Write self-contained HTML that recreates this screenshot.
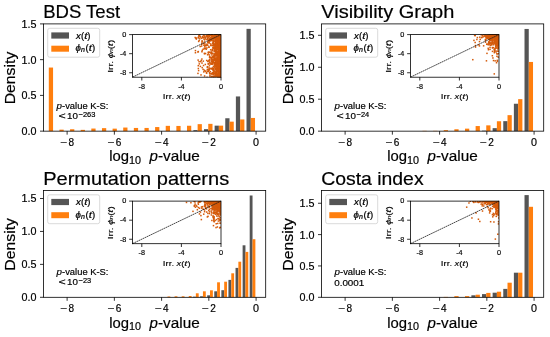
<!DOCTYPE html><html><head><meta charset="utf-8"><style>html,body{margin:0;padding:0;background:#fff;}svg{display:block;will-change:transform;}text{font-family:"Liberation Sans", sans-serif;stroke:#000;stroke-width:0.18px;}</style></head><body>
<svg width="550" height="337" viewBox="0 0 550 337">
<rect x="0" y="0" width="550" height="337" fill="#fff"/>
<g>
<rect x="48.81" y="67.55" width="4.25" height="63.6" fill="#ff7f0e"/>
<rect x="59.44" y="129.65" width="4.25" height="1.5" fill="#ff7f0e"/>
<rect x="70.07" y="129.25" width="4.25" height="1.9" fill="#ff7f0e"/>
<rect x="80.7" y="129.85" width="4.25" height="1.3" fill="#ff7f0e"/>
<rect x="91.33" y="128.55" width="4.25" height="2.6" fill="#ff7f0e"/>
<rect x="101.96" y="128.15" width="4.25" height="3" fill="#ff7f0e"/>
<rect x="112.59" y="128.65" width="4.25" height="2.5" fill="#ff7f0e"/>
<rect x="123.22" y="127.55" width="4.25" height="3.6" fill="#ff7f0e"/>
<rect x="133.85" y="127.95" width="4.25" height="3.2" fill="#ff7f0e"/>
<rect x="144.48" y="127.95" width="4.25" height="3.2" fill="#ff7f0e"/>
<rect x="155.1" y="127.05" width="4.25" height="4.1" fill="#ff7f0e"/>
<rect x="165.73" y="125.85" width="4.25" height="5.3" fill="#ff7f0e"/>
<rect x="176.36" y="125.95" width="4.25" height="5.2" fill="#ff7f0e"/>
<rect x="186.99" y="125.75" width="4.25" height="5.4" fill="#ff7f0e"/>
<rect x="193.37" y="130.15" width="4.25" height="1" fill="#555555"/>
<rect x="197.62" y="124.15" width="4.25" height="7" fill="#ff7f0e"/>
<rect x="204" y="129.15" width="4.25" height="2" fill="#555555"/>
<rect x="208.25" y="123.85" width="4.25" height="7.3" fill="#ff7f0e"/>
<rect x="214.63" y="125.65" width="4.25" height="5.5" fill="#555555"/>
<rect x="218.88" y="125.65" width="4.25" height="5.5" fill="#ff7f0e"/>
<rect x="225.26" y="118.25" width="4.25" height="12.9" fill="#555555"/>
<rect x="229.51" y="121.65" width="4.25" height="9.5" fill="#ff7f0e"/>
<rect x="235.88" y="96.45" width="4.25" height="34.7" fill="#555555"/>
<rect x="240.14" y="119.45" width="4.25" height="11.7" fill="#ff7f0e"/>
<rect x="246.51" y="28.85" width="4.25" height="102.3" fill="#555555"/>
<rect x="250.77" y="117.95" width="4.25" height="13.2" fill="#ff7f0e"/>
<rect x="43.5" y="23.9" width="222.2" height="107.25" fill="none" stroke="#000" stroke-width="0.8"/>
<line x1="40" y1="131.15" x2="43.5" y2="131.15" stroke="#000" stroke-width="0.8"/>
<text x="36.5" y="135.05" font-size="10.1" text-anchor="end" textLength="15" lengthAdjust="spacingAndGlyphs">0.0</text>
<line x1="40" y1="95.4" x2="43.5" y2="95.4" stroke="#000" stroke-width="0.8"/>
<text x="36.5" y="99.3" font-size="10.1" text-anchor="end" textLength="15" lengthAdjust="spacingAndGlyphs">0.5</text>
<line x1="40" y1="59.65" x2="43.5" y2="59.65" stroke="#000" stroke-width="0.8"/>
<text x="36.5" y="63.55" font-size="10.1" text-anchor="end" textLength="15" lengthAdjust="spacingAndGlyphs">1.0</text>
<line x1="40" y1="23.9" x2="43.5" y2="23.9" stroke="#000" stroke-width="0.8"/>
<text x="36.5" y="27.8" font-size="10.1" text-anchor="end" textLength="15" lengthAdjust="spacingAndGlyphs">1.5</text>
<line x1="67.12" y1="131.15" x2="67.12" y2="134.65" stroke="#000" stroke-width="0.8"/>
<text x="63.92" y="145.55" font-size="10.1" text-anchor="middle" textLength="7" lengthAdjust="spacingAndGlyphs">−</text>
<text x="71.42" y="145.55" font-size="10.1" text-anchor="middle" textLength="5.6" lengthAdjust="spacingAndGlyphs">8</text>
<line x1="114.36" y1="131.15" x2="114.36" y2="134.65" stroke="#000" stroke-width="0.8"/>
<text x="111.16" y="145.55" font-size="10.1" text-anchor="middle" textLength="7" lengthAdjust="spacingAndGlyphs">−</text>
<text x="118.66" y="145.55" font-size="10.1" text-anchor="middle" textLength="5.6" lengthAdjust="spacingAndGlyphs">6</text>
<line x1="161.6" y1="131.15" x2="161.6" y2="134.65" stroke="#000" stroke-width="0.8"/>
<text x="158.4" y="145.55" font-size="10.1" text-anchor="middle" textLength="7" lengthAdjust="spacingAndGlyphs">−</text>
<text x="165.9" y="145.55" font-size="10.1" text-anchor="middle" textLength="5.6" lengthAdjust="spacingAndGlyphs">4</text>
<line x1="208.84" y1="131.15" x2="208.84" y2="134.65" stroke="#000" stroke-width="0.8"/>
<text x="205.64" y="145.55" font-size="10.1" text-anchor="middle" textLength="7" lengthAdjust="spacingAndGlyphs">−</text>
<text x="213.14" y="145.55" font-size="10.1" text-anchor="middle" textLength="5.6" lengthAdjust="spacingAndGlyphs">2</text>
<line x1="256.08" y1="131.15" x2="256.08" y2="134.65" stroke="#000" stroke-width="0.8"/>
<text x="256.08" y="145.55" font-size="10.1" text-anchor="middle" textLength="6" lengthAdjust="spacingAndGlyphs">0</text>
<text x="43.2" y="18" font-size="17.9" textLength="76.86" lengthAdjust="spacingAndGlyphs">BDS Test</text>
<text transform="translate(14.5,78.03) rotate(-90)" font-size="14" text-anchor="middle" textLength="52.6" lengthAdjust="spacingAndGlyphs">Density</text>
<text x="109.3" y="161.25" font-size="14" textLength="19.8" lengthAdjust="spacingAndGlyphs">log</text>
<text x="129" y="163.85" font-size="10" textLength="12" lengthAdjust="spacingAndGlyphs">10</text>
<text x="149.6" y="161.25" font-size="14" font-style="italic" textLength="8.4" lengthAdjust="spacingAndGlyphs">p</text>
<text x="158" y="161.25" font-size="14" textLength="41.7" lengthAdjust="spacingAndGlyphs">-value</text>
<text x="56.6" y="109" font-size="9.1" font-style="italic" textLength="5.46" lengthAdjust="spacingAndGlyphs">p</text>
<text x="62.06" y="109" font-size="9.1" textLength="46.4" lengthAdjust="spacingAndGlyphs">-value K-S:</text>
<text x="58.6" y="119.3" font-size="9.1" textLength="7.2" lengthAdjust="spacingAndGlyphs">&lt;</text>
<text x="67.1" y="119.3" font-size="9.1" textLength="10.9" lengthAdjust="spacingAndGlyphs">10</text>
<text x="78.6" y="116.7" font-size="7.3" textLength="16.8" lengthAdjust="spacingAndGlyphs" style="stroke-width:0.2px">−263</text>
<rect x="47.7" y="28.3" width="52" height="28.9" rx="2" ry="2" fill="#fff" fill-opacity="0.8" stroke="#cfcfcf" stroke-width="0.8"/>
<rect x="51.3" y="32.4" width="17.7" height="6.2" fill="#555555"/>
<rect x="51.3" y="45.7" width="17.7" height="6.0" fill="#ff7f0e"/>
<text x="76.1" y="38.6" font-size="8.7" font-style="italic" textLength="4.85" lengthAdjust="spacingAndGlyphs" style="stroke-width:0.2px">x</text>
<text x="80.95" y="38.6" font-size="8.7" textLength="3.2" lengthAdjust="spacingAndGlyphs" style="stroke-width:0.2px">(</text>
<text x="84.15" y="38.6" font-size="8.7" font-style="italic" textLength="3.2" lengthAdjust="spacingAndGlyphs" style="stroke-width:0.2px">t</text>
<text x="87.35" y="38.6" font-size="8.7" textLength="3.2" lengthAdjust="spacingAndGlyphs" style="stroke-width:0.2px">)</text>
<text x="75.5" y="51" font-size="8.7" font-style="italic" textLength="5.4" lengthAdjust="spacingAndGlyphs" style="stroke-width:0.2px">ϕ</text>
<text x="81" y="52.4" font-size="6.4" font-style="italic" textLength="3.9" lengthAdjust="spacingAndGlyphs" style="stroke-width:0.2px">n</text>
<text x="85.6" y="51" font-size="8.7" textLength="3.2" lengthAdjust="spacingAndGlyphs" style="stroke-width:0.2px">(</text>
<text x="88.8" y="51" font-size="8.7" font-style="italic" textLength="3.2" lengthAdjust="spacingAndGlyphs" style="stroke-width:0.2px">t</text>
<text x="92" y="51" font-size="8.7" textLength="3.2" lengthAdjust="spacingAndGlyphs" style="stroke-width:0.2px">)</text>
</g>
<g>
<rect x="132.4" y="34.6" width="88.6" height="42.6" fill="#fff"/>
<clipPath id="c0"><rect x="132.4" y="34.6" width="88.6" height="42.6"/></clipPath>
<g clip-path="url(#c0)" fill="#d45a0a">
<rect x="219.25" y="56.18" width="1.5" height="1.5"/>
<rect x="217.91" y="74.14" width="1.5" height="1.5"/>
<rect x="215.36" y="35.09" width="1.5" height="1.5"/>
<rect x="220.05" y="39.75" width="1.5" height="1.5"/>
<rect x="219.74" y="36.33" width="1.5" height="1.5"/>
<rect x="203.74" y="52.59" width="1.5" height="1.5"/>
<rect x="219.94" y="50.37" width="1.5" height="1.5"/>
<rect x="219.43" y="71.21" width="1.5" height="1.5"/>
<rect x="218.98" y="36.7" width="1.5" height="1.5"/>
<rect x="217.18" y="42.46" width="1.5" height="1.5"/>
<rect x="218.74" y="74.12" width="1.5" height="1.5"/>
<rect x="216.7" y="34.67" width="1.5" height="1.5"/>
<rect x="215.82" y="44.98" width="1.5" height="1.5"/>
<rect x="219.69" y="50.78" width="1.5" height="1.5"/>
<rect x="213.84" y="33.88" width="1.5" height="1.5"/>
<rect x="214.35" y="46.18" width="1.5" height="1.5"/>
<rect x="208.37" y="59.74" width="1.5" height="1.5"/>
<rect x="207.41" y="60.27" width="1.5" height="1.5"/>
<rect x="212.68" y="59.99" width="1.5" height="1.5"/>
<rect x="214.43" y="61.79" width="1.5" height="1.5"/>
<rect x="217.95" y="60.23" width="1.5" height="1.5"/>
<rect x="217.83" y="35.33" width="1.5" height="1.5"/>
<rect x="217.45" y="61.96" width="1.5" height="1.5"/>
<rect x="216.27" y="58.91" width="1.5" height="1.5"/>
<rect x="210.01" y="43.2" width="1.5" height="1.5"/>
<rect x="216.51" y="51.86" width="1.5" height="1.5"/>
<rect x="214.5" y="44.05" width="1.5" height="1.5"/>
<rect x="203.02" y="71.12" width="1.5" height="1.5"/>
<rect x="220.09" y="45.82" width="1.5" height="1.5"/>
<rect x="218.1" y="40.84" width="1.5" height="1.5"/>
<rect x="215.51" y="68.05" width="1.5" height="1.5"/>
<rect x="218.81" y="66.53" width="1.5" height="1.5"/>
<rect x="206.9" y="70.44" width="1.5" height="1.5"/>
<rect x="218.13" y="62.93" width="1.5" height="1.5"/>
<rect x="218.7" y="51.75" width="1.5" height="1.5"/>
<rect x="214.86" y="54.27" width="1.5" height="1.5"/>
<rect x="219.24" y="57.69" width="1.5" height="1.5"/>
<rect x="217.64" y="59.44" width="1.5" height="1.5"/>
<rect x="219.6" y="74.43" width="1.5" height="1.5"/>
<rect x="219.99" y="45.25" width="1.5" height="1.5"/>
<rect x="218.79" y="66.84" width="1.5" height="1.5"/>
<rect x="218.59" y="34.58" width="1.5" height="1.5"/>
<rect x="215.29" y="42.02" width="1.5" height="1.5"/>
<rect x="216.63" y="74.4" width="1.5" height="1.5"/>
<rect x="207.08" y="44.63" width="1.5" height="1.5"/>
<rect x="217.85" y="55.79" width="1.5" height="1.5"/>
<rect x="220.24" y="73.2" width="1.5" height="1.5"/>
<rect x="218.88" y="61.95" width="1.5" height="1.5"/>
<rect x="219.09" y="54.82" width="1.5" height="1.5"/>
<rect x="219.99" y="63.98" width="1.5" height="1.5"/>
<rect x="220.2" y="75.86" width="1.5" height="1.5"/>
<rect x="219.18" y="74.26" width="1.5" height="1.5"/>
<rect x="207.31" y="41.63" width="1.5" height="1.5"/>
<rect x="217.81" y="39.86" width="1.5" height="1.5"/>
<rect x="216.28" y="46.21" width="1.5" height="1.5"/>
<rect x="219.24" y="40.08" width="1.5" height="1.5"/>
<rect x="219.5" y="66.65" width="1.5" height="1.5"/>
<rect x="220" y="69.65" width="1.5" height="1.5"/>
<rect x="216.47" y="39.89" width="1.5" height="1.5"/>
<rect x="217.6" y="36.99" width="1.5" height="1.5"/>
<rect x="218.08" y="47.75" width="1.5" height="1.5"/>
<rect x="214.87" y="63.34" width="1.5" height="1.5"/>
<rect x="219.86" y="66.92" width="1.5" height="1.5"/>
<rect x="218.95" y="53.63" width="1.5" height="1.5"/>
<rect x="215.8" y="61.29" width="1.5" height="1.5"/>
<rect x="211.89" y="73.24" width="1.5" height="1.5"/>
<rect x="219.85" y="71.64" width="1.5" height="1.5"/>
<rect x="206.12" y="38.9" width="1.5" height="1.5"/>
<rect x="217.5" y="64.47" width="1.5" height="1.5"/>
<rect x="220.19" y="67.19" width="1.5" height="1.5"/>
<rect x="219.93" y="72.8" width="1.5" height="1.5"/>
<rect x="219.67" y="51.8" width="1.5" height="1.5"/>
<rect x="214.3" y="40.55" width="1.5" height="1.5"/>
<rect x="216.03" y="54.19" width="1.5" height="1.5"/>
<rect x="201.47" y="49.75" width="1.5" height="1.5"/>
<rect x="219.26" y="50.75" width="1.5" height="1.5"/>
<rect x="218.89" y="68.32" width="1.5" height="1.5"/>
<rect x="215.38" y="61.84" width="1.5" height="1.5"/>
<rect x="217.22" y="63.05" width="1.5" height="1.5"/>
<rect x="215.17" y="61.87" width="1.5" height="1.5"/>
<rect x="219.05" y="39.93" width="1.5" height="1.5"/>
<rect x="216.86" y="36.36" width="1.5" height="1.5"/>
<rect x="219.48" y="50.81" width="1.5" height="1.5"/>
<rect x="205.15" y="70.33" width="1.5" height="1.5"/>
<rect x="219.87" y="61.7" width="1.5" height="1.5"/>
<rect x="219.48" y="67.83" width="1.5" height="1.5"/>
<rect x="215.24" y="60.58" width="1.5" height="1.5"/>
<rect x="219.84" y="67.52" width="1.5" height="1.5"/>
<rect x="212.64" y="76.62" width="1.5" height="1.5"/>
<rect x="215.25" y="64.47" width="1.5" height="1.5"/>
<rect x="209.6" y="70.85" width="1.5" height="1.5"/>
<rect x="214.34" y="75.62" width="1.5" height="1.5"/>
<rect x="216.41" y="65.65" width="1.5" height="1.5"/>
<rect x="218.84" y="68.75" width="1.5" height="1.5"/>
<rect x="210.36" y="37.22" width="1.5" height="1.5"/>
<rect x="218.26" y="35.41" width="1.5" height="1.5"/>
<rect x="216.06" y="73.5" width="1.5" height="1.5"/>
<rect x="218.81" y="44.06" width="1.5" height="1.5"/>
<rect x="212.14" y="46.96" width="1.5" height="1.5"/>
<rect x="216.56" y="39.66" width="1.5" height="1.5"/>
<rect x="212.54" y="61.09" width="1.5" height="1.5"/>
<rect x="206.74" y="35.12" width="1.5" height="1.5"/>
<rect x="219.92" y="68.16" width="1.5" height="1.5"/>
<rect x="213.46" y="46.66" width="1.5" height="1.5"/>
<rect x="217.01" y="65.79" width="1.5" height="1.5"/>
<rect x="212.42" y="72.95" width="1.5" height="1.5"/>
<rect x="215.56" y="63.49" width="1.5" height="1.5"/>
<rect x="218.51" y="52.08" width="1.5" height="1.5"/>
<rect x="219.78" y="60.68" width="1.5" height="1.5"/>
<rect x="207.41" y="70.57" width="1.5" height="1.5"/>
<rect x="217.56" y="64.39" width="1.5" height="1.5"/>
<rect x="218.57" y="44.68" width="1.5" height="1.5"/>
<rect x="210.84" y="34.18" width="1.5" height="1.5"/>
<rect x="219.1" y="71.62" width="1.5" height="1.5"/>
<rect x="210.85" y="60.61" width="1.5" height="1.5"/>
<rect x="216.39" y="36.58" width="1.5" height="1.5"/>
<rect x="219.82" y="57.5" width="1.5" height="1.5"/>
<rect x="219.76" y="59.14" width="1.5" height="1.5"/>
<rect x="208.31" y="46.45" width="1.5" height="1.5"/>
<rect x="215.68" y="71.89" width="1.5" height="1.5"/>
<rect x="219.39" y="44.14" width="1.5" height="1.5"/>
<rect x="217.26" y="40.03" width="1.5" height="1.5"/>
<rect x="219.75" y="47.13" width="1.5" height="1.5"/>
<rect x="219.29" y="48.38" width="1.5" height="1.5"/>
<rect x="219.64" y="71.81" width="1.5" height="1.5"/>
<rect x="209.1" y="62.06" width="1.5" height="1.5"/>
<rect x="216.18" y="39.09" width="1.5" height="1.5"/>
<rect x="219.8" y="50.75" width="1.5" height="1.5"/>
<rect x="219.66" y="38.26" width="1.5" height="1.5"/>
<rect x="219.27" y="64.15" width="1.5" height="1.5"/>
<rect x="204.39" y="70.56" width="1.5" height="1.5"/>
<rect x="206.87" y="37.86" width="1.5" height="1.5"/>
<rect x="214.96" y="55.31" width="1.5" height="1.5"/>
<rect x="219.65" y="44.35" width="1.5" height="1.5"/>
<rect x="218.69" y="46.09" width="1.5" height="1.5"/>
<rect x="216.62" y="65.91" width="1.5" height="1.5"/>
<rect x="218.9" y="75.8" width="1.5" height="1.5"/>
<rect x="218.9" y="45.82" width="1.5" height="1.5"/>
<rect x="219.92" y="57.14" width="1.5" height="1.5"/>
<rect x="206.18" y="47.17" width="1.5" height="1.5"/>
<rect x="212.87" y="36.52" width="1.5" height="1.5"/>
<rect x="205.94" y="59.72" width="1.5" height="1.5"/>
<rect x="217.97" y="40.52" width="1.5" height="1.5"/>
<rect x="217.98" y="63.37" width="1.5" height="1.5"/>
<rect x="206.75" y="65.93" width="1.5" height="1.5"/>
<rect x="217.55" y="39.96" width="1.5" height="1.5"/>
<rect x="218.96" y="59.45" width="1.5" height="1.5"/>
<rect x="214.77" y="42.8" width="1.5" height="1.5"/>
<rect x="219.7" y="66.61" width="1.5" height="1.5"/>
<rect x="217.79" y="46.13" width="1.5" height="1.5"/>
<rect x="210.4" y="63.46" width="1.5" height="1.5"/>
<rect x="216.73" y="61.67" width="1.5" height="1.5"/>
<rect x="219.7" y="58.54" width="1.5" height="1.5"/>
<rect x="212.78" y="43.19" width="1.5" height="1.5"/>
<rect x="218.35" y="69.67" width="1.5" height="1.5"/>
<rect x="213.69" y="49.08" width="1.5" height="1.5"/>
<rect x="219.09" y="66.93" width="1.5" height="1.5"/>
<rect x="216.72" y="54.24" width="1.5" height="1.5"/>
<rect x="214.78" y="53.09" width="1.5" height="1.5"/>
<rect x="215.88" y="64.43" width="1.5" height="1.5"/>
<rect x="219.25" y="48.48" width="1.5" height="1.5"/>
<rect x="219.48" y="66.63" width="1.5" height="1.5"/>
<rect x="217.91" y="52.95" width="1.5" height="1.5"/>
<rect x="199.63" y="65.64" width="1.5" height="1.5"/>
<rect x="219.71" y="63.8" width="1.5" height="1.5"/>
<rect x="217.47" y="74.44" width="1.5" height="1.5"/>
<rect x="208.16" y="51.39" width="1.5" height="1.5"/>
<rect x="219.91" y="48.83" width="1.5" height="1.5"/>
<rect x="216.75" y="76.56" width="1.5" height="1.5"/>
<rect x="218.9" y="56.02" width="1.5" height="1.5"/>
<rect x="218.26" y="51.82" width="1.5" height="1.5"/>
<rect x="216.69" y="63.94" width="1.5" height="1.5"/>
<rect x="218.85" y="44.59" width="1.5" height="1.5"/>
<rect x="209.22" y="74.97" width="1.5" height="1.5"/>
<rect x="217.34" y="66.22" width="1.5" height="1.5"/>
<rect x="214.01" y="61.72" width="1.5" height="1.5"/>
<rect x="219.33" y="46.38" width="1.5" height="1.5"/>
<rect x="202.34" y="68.6" width="1.5" height="1.5"/>
<rect x="216.3" y="73.31" width="1.5" height="1.5"/>
<rect x="219.96" y="67.83" width="1.5" height="1.5"/>
<rect x="209.1" y="73.02" width="1.5" height="1.5"/>
<rect x="211.62" y="37.81" width="1.5" height="1.5"/>
<rect x="212.71" y="65.67" width="1.5" height="1.5"/>
<rect x="217.39" y="71.04" width="1.5" height="1.5"/>
<rect x="211.22" y="54.29" width="1.5" height="1.5"/>
<rect x="215.82" y="37.29" width="1.5" height="1.5"/>
<rect x="215.05" y="57.14" width="1.5" height="1.5"/>
<rect x="219.87" y="44.26" width="1.5" height="1.5"/>
<rect x="217.9" y="35.25" width="1.5" height="1.5"/>
<rect x="217.81" y="74.03" width="1.5" height="1.5"/>
<rect x="215.64" y="69.58" width="1.5" height="1.5"/>
<rect x="211.48" y="61.09" width="1.5" height="1.5"/>
<rect x="216.31" y="65.99" width="1.5" height="1.5"/>
<rect x="216.44" y="62.68" width="1.5" height="1.5"/>
<rect x="218.27" y="53.72" width="1.5" height="1.5"/>
<rect x="218.83" y="39.06" width="1.5" height="1.5"/>
<rect x="217.84" y="46.25" width="1.5" height="1.5"/>
<rect x="220.03" y="55.58" width="1.5" height="1.5"/>
<rect x="218.12" y="58.84" width="1.5" height="1.5"/>
<rect x="214.79" y="46.79" width="1.5" height="1.5"/>
<rect x="216.87" y="39.31" width="1.5" height="1.5"/>
<rect x="202.31" y="48.55" width="1.5" height="1.5"/>
<rect x="219" y="41.82" width="1.5" height="1.5"/>
<rect x="212.6" y="73.8" width="1.5" height="1.5"/>
<rect x="216.89" y="43.34" width="1.5" height="1.5"/>
<rect x="216.14" y="50.77" width="1.5" height="1.5"/>
<rect x="218.07" y="57.11" width="1.5" height="1.5"/>
<rect x="219.21" y="44.68" width="1.5" height="1.5"/>
<rect x="216" y="55.1" width="1.5" height="1.5"/>
<rect x="213.98" y="57.58" width="1.5" height="1.5"/>
<rect x="217.32" y="35.96" width="1.5" height="1.5"/>
<rect x="220.04" y="74.53" width="1.5" height="1.5"/>
<rect x="219.72" y="56.95" width="1.5" height="1.5"/>
<rect x="215.6" y="40.12" width="1.5" height="1.5"/>
<rect x="212.84" y="76.03" width="1.5" height="1.5"/>
<rect x="219.97" y="41.07" width="1.5" height="1.5"/>
<rect x="214.22" y="65.08" width="1.5" height="1.5"/>
<rect x="213.37" y="54.56" width="1.5" height="1.5"/>
<rect x="219.24" y="44.91" width="1.5" height="1.5"/>
<rect x="213.81" y="50.15" width="1.5" height="1.5"/>
<rect x="216.88" y="54.51" width="1.5" height="1.5"/>
<rect x="214.82" y="49.78" width="1.5" height="1.5"/>
<rect x="210.34" y="44.46" width="1.5" height="1.5"/>
<rect x="219.5" y="51.71" width="1.5" height="1.5"/>
<rect x="219.7" y="52.56" width="1.5" height="1.5"/>
<rect x="210.41" y="63.38" width="1.5" height="1.5"/>
<rect x="219.06" y="42.33" width="1.5" height="1.5"/>
<rect x="217.24" y="35.8" width="1.5" height="1.5"/>
<rect x="207.99" y="69.65" width="1.5" height="1.5"/>
<rect x="215.47" y="36.83" width="1.5" height="1.5"/>
<rect x="198.34" y="60.96" width="1.5" height="1.5"/>
<rect x="219.98" y="57.42" width="1.5" height="1.5"/>
<rect x="219.85" y="75.71" width="1.5" height="1.5"/>
<rect x="218.4" y="42" width="1.5" height="1.5"/>
<rect x="215.58" y="71.96" width="1.5" height="1.5"/>
<rect x="219.88" y="39.44" width="1.5" height="1.5"/>
<rect x="220.11" y="41.21" width="1.5" height="1.5"/>
<rect x="218.69" y="61.92" width="1.5" height="1.5"/>
<rect x="218.31" y="40.96" width="1.5" height="1.5"/>
<rect x="211.52" y="59.03" width="1.5" height="1.5"/>
<rect x="218.64" y="62.83" width="1.5" height="1.5"/>
<rect x="220.21" y="39.24" width="1.5" height="1.5"/>
<rect x="219.64" y="67.77" width="1.5" height="1.5"/>
<rect x="218.78" y="52.01" width="1.5" height="1.5"/>
<rect x="215.94" y="75.37" width="1.5" height="1.5"/>
<rect x="215.39" y="34.34" width="1.5" height="1.5"/>
<rect x="213" y="37.22" width="1.5" height="1.5"/>
<rect x="216.83" y="60.47" width="1.5" height="1.5"/>
<rect x="205.48" y="44.89" width="1.5" height="1.5"/>
<rect x="218.93" y="51.14" width="1.5" height="1.5"/>
<rect x="219.56" y="72.87" width="1.5" height="1.5"/>
<rect x="217.15" y="48.61" width="1.5" height="1.5"/>
<rect x="218.6" y="36.05" width="1.5" height="1.5"/>
<rect x="212.99" y="39.99" width="1.5" height="1.5"/>
<rect x="219.84" y="57.7" width="1.5" height="1.5"/>
<rect x="216.67" y="67.11" width="1.5" height="1.5"/>
<rect x="208.32" y="66.38" width="1.5" height="1.5"/>
<rect x="217.46" y="54.1" width="1.5" height="1.5"/>
<rect x="218.17" y="44.14" width="1.5" height="1.5"/>
<rect x="219.22" y="39.37" width="1.5" height="1.5"/>
<rect x="206.22" y="43.44" width="1.5" height="1.5"/>
<rect x="216.61" y="42.45" width="1.5" height="1.5"/>
<rect x="209.1" y="72.81" width="1.5" height="1.5"/>
<rect x="210.47" y="51.36" width="1.5" height="1.5"/>
<rect x="211.22" y="38.86" width="1.5" height="1.5"/>
<rect x="219.75" y="61.25" width="1.5" height="1.5"/>
<rect x="219.47" y="53.48" width="1.5" height="1.5"/>
<rect x="214.35" y="35.1" width="1.5" height="1.5"/>
<rect x="218.73" y="75.91" width="1.5" height="1.5"/>
<rect x="219.03" y="74.48" width="1.5" height="1.5"/>
<rect x="215.03" y="45.12" width="1.5" height="1.5"/>
<rect x="217.29" y="69.61" width="1.5" height="1.5"/>
<rect x="218.58" y="53.39" width="1.5" height="1.5"/>
<rect x="218.5" y="62.77" width="1.5" height="1.5"/>
<rect x="218.72" y="61.9" width="1.5" height="1.5"/>
<rect x="219.9" y="65.27" width="1.5" height="1.5"/>
<rect x="204.82" y="52.76" width="1.5" height="1.5"/>
<rect x="214.88" y="40.14" width="1.5" height="1.5"/>
<rect x="219.27" y="68.38" width="1.5" height="1.5"/>
<rect x="219" y="52.76" width="1.5" height="1.5"/>
<rect x="215.8" y="52.83" width="1.5" height="1.5"/>
<rect x="217.26" y="66.45" width="1.5" height="1.5"/>
<rect x="219.94" y="63.28" width="1.5" height="1.5"/>
<rect x="220.19" y="76.31" width="1.5" height="1.5"/>
<rect x="217.71" y="50.5" width="1.5" height="1.5"/>
<rect x="212.14" y="61.11" width="1.5" height="1.5"/>
<rect x="216.3" y="37.45" width="1.5" height="1.5"/>
<rect x="215.94" y="38.68" width="1.5" height="1.5"/>
<rect x="215.58" y="44.79" width="1.5" height="1.5"/>
<rect x="216.68" y="45.87" width="1.5" height="1.5"/>
<rect x="217.39" y="53.01" width="1.5" height="1.5"/>
<rect x="216.19" y="43.67" width="1.5" height="1.5"/>
<rect x="219.24" y="74.04" width="1.5" height="1.5"/>
<rect x="218.91" y="52.23" width="1.5" height="1.5"/>
<rect x="219.5" y="50.27" width="1.5" height="1.5"/>
<rect x="219.99" y="72.58" width="1.5" height="1.5"/>
<rect x="210.74" y="68.01" width="1.5" height="1.5"/>
<rect x="217.95" y="66.92" width="1.5" height="1.5"/>
<rect x="220.22" y="73.1" width="1.5" height="1.5"/>
<rect x="218.47" y="65.47" width="1.5" height="1.5"/>
<rect x="214.2" y="46.97" width="1.5" height="1.5"/>
<rect x="218.96" y="75.12" width="1.5" height="1.5"/>
<rect x="218.97" y="35.02" width="1.5" height="1.5"/>
<rect x="214.01" y="72.37" width="1.5" height="1.5"/>
<rect x="219.75" y="51.86" width="1.5" height="1.5"/>
<rect x="220.23" y="48.35" width="1.5" height="1.5"/>
<rect x="208.69" y="54.23" width="1.5" height="1.5"/>
<rect x="219.32" y="51.02" width="1.5" height="1.5"/>
<rect x="216.67" y="70.79" width="1.5" height="1.5"/>
<rect x="216.42" y="68.46" width="1.5" height="1.5"/>
<rect x="219.32" y="65.91" width="1.5" height="1.5"/>
<rect x="220.05" y="43.84" width="1.5" height="1.5"/>
<rect x="219.92" y="52.74" width="1.5" height="1.5"/>
<rect x="204.91" y="37.07" width="1.5" height="1.5"/>
<rect x="217.96" y="65.73" width="1.5" height="1.5"/>
<rect x="220.2" y="35.66" width="1.5" height="1.5"/>
<rect x="217.62" y="50.85" width="1.5" height="1.5"/>
<rect x="215.18" y="40.34" width="1.5" height="1.5"/>
<rect x="217.03" y="70.43" width="1.5" height="1.5"/>
<rect x="214.54" y="73.29" width="1.5" height="1.5"/>
<rect x="208.02" y="46.28" width="1.5" height="1.5"/>
<rect x="214.57" y="71.31" width="1.5" height="1.5"/>
<rect x="219.06" y="41.49" width="1.5" height="1.5"/>
<rect x="218.35" y="64.38" width="1.5" height="1.5"/>
<rect x="220.24" y="44.61" width="1.5" height="1.5"/>
<rect x="216.68" y="52.98" width="1.5" height="1.5"/>
<rect x="216" y="60.08" width="1.5" height="1.5"/>
<rect x="215.28" y="48.93" width="1.5" height="1.5"/>
<rect x="220.07" y="42.34" width="1.5" height="1.5"/>
<rect x="213.71" y="59.09" width="1.5" height="1.5"/>
<rect x="214.63" y="67.94" width="1.5" height="1.5"/>
<rect x="206.32" y="76.6" width="1.5" height="1.5"/>
<rect x="218.29" y="47.69" width="1.5" height="1.5"/>
<rect x="216.13" y="44.91" width="1.5" height="1.5"/>
<rect x="209.82" y="37.13" width="1.5" height="1.5"/>
<rect x="218.73" y="42.64" width="1.5" height="1.5"/>
<rect x="219.32" y="34.96" width="1.5" height="1.5"/>
<rect x="203.19" y="44.57" width="1.5" height="1.5"/>
<rect x="213.82" y="65.02" width="1.5" height="1.5"/>
<rect x="215.51" y="38.77" width="1.5" height="1.5"/>
<rect x="216.24" y="61.6" width="1.5" height="1.5"/>
<rect x="216.41" y="46.51" width="1.5" height="1.5"/>
<rect x="217.66" y="43.68" width="1.5" height="1.5"/>
<rect x="220.16" y="54.61" width="1.5" height="1.5"/>
<rect x="217.32" y="52.58" width="1.5" height="1.5"/>
<rect x="214.52" y="53.03" width="1.5" height="1.5"/>
<rect x="209.19" y="38.9" width="1.5" height="1.5"/>
<rect x="219.21" y="58.09" width="1.5" height="1.5"/>
<rect x="219.26" y="72.58" width="1.5" height="1.5"/>
<rect x="215.81" y="34.25" width="1.5" height="1.5"/>
<rect x="219.81" y="37.33" width="1.5" height="1.5"/>
<rect x="213.44" y="59.01" width="1.5" height="1.5"/>
<rect x="219.74" y="47.53" width="1.5" height="1.5"/>
<rect x="217.38" y="44.67" width="1.5" height="1.5"/>
<rect x="209.26" y="76.27" width="1.5" height="1.5"/>
<rect x="218.7" y="47.08" width="1.5" height="1.5"/>
<rect x="219.31" y="73.39" width="1.5" height="1.5"/>
<rect x="215.57" y="60.33" width="1.5" height="1.5"/>
<rect x="213.37" y="35.15" width="1.5" height="1.5"/>
<rect x="216.2" y="45.27" width="1.5" height="1.5"/>
<rect x="220.1" y="37.1" width="1.5" height="1.5"/>
<rect x="218.49" y="56.95" width="1.5" height="1.5"/>
<rect x="220.18" y="72.85" width="1.5" height="1.5"/>
<rect x="213.99" y="36.11" width="1.5" height="1.5"/>
<rect x="220.03" y="35.05" width="1.5" height="1.5"/>
<rect x="205.74" y="35.11" width="1.5" height="1.5"/>
<rect x="217.17" y="45.57" width="1.5" height="1.5"/>
<rect x="219.03" y="40.99" width="1.5" height="1.5"/>
<rect x="213.45" y="75.42" width="1.5" height="1.5"/>
<rect x="216.33" y="67.13" width="1.5" height="1.5"/>
<rect x="215.7" y="74.18" width="1.5" height="1.5"/>
<rect x="220.13" y="58.75" width="1.5" height="1.5"/>
<rect x="216.46" y="69.1" width="1.5" height="1.5"/>
<rect x="220.22" y="64.28" width="1.5" height="1.5"/>
<rect x="219.43" y="46.39" width="1.5" height="1.5"/>
<rect x="212.75" y="61.87" width="1.5" height="1.5"/>
<rect x="214.34" y="46.27" width="1.5" height="1.5"/>
<rect x="217.9" y="53.78" width="1.5" height="1.5"/>
<rect x="219.56" y="69.17" width="1.5" height="1.5"/>
<rect x="214.34" y="43.33" width="1.5" height="1.5"/>
<rect x="220.04" y="41.36" width="1.5" height="1.5"/>
<rect x="213.46" y="70.41" width="1.5" height="1.5"/>
<rect x="214.77" y="53.74" width="1.5" height="1.5"/>
<rect x="218.97" y="41.31" width="1.5" height="1.5"/>
<rect x="214.56" y="47.5" width="1.5" height="1.5"/>
<rect x="216.97" y="45.9" width="1.5" height="1.5"/>
<rect x="213.4" y="72.33" width="1.5" height="1.5"/>
<rect x="217.65" y="54.15" width="1.5" height="1.5"/>
<rect x="219.11" y="73.36" width="1.5" height="1.5"/>
<rect x="206.9" y="54.04" width="1.5" height="1.5"/>
<rect x="200.27" y="74.18" width="1.5" height="1.5"/>
<rect x="210.48" y="73.2" width="1.5" height="1.5"/>
<rect x="219.13" y="58.22" width="1.5" height="1.5"/>
<rect x="212.52" y="67.61" width="1.5" height="1.5"/>
<rect x="217.15" y="46.18" width="1.5" height="1.5"/>
<rect x="218.08" y="38.81" width="1.5" height="1.5"/>
<rect x="213.45" y="59.79" width="1.5" height="1.5"/>
<rect x="219.08" y="36.22" width="1.5" height="1.5"/>
<rect x="219.49" y="53.92" width="1.5" height="1.5"/>
<rect x="218.76" y="60.47" width="1.5" height="1.5"/>
<rect x="216.2" y="66.81" width="1.5" height="1.5"/>
<rect x="215.39" y="72.35" width="1.5" height="1.5"/>
<rect x="219.27" y="42.61" width="1.5" height="1.5"/>
<rect x="215.21" y="71.01" width="1.5" height="1.5"/>
<rect x="213.3" y="55.16" width="1.5" height="1.5"/>
<rect x="219.27" y="60.59" width="1.5" height="1.5"/>
<rect x="216.75" y="53.69" width="1.5" height="1.5"/>
<rect x="219.7" y="70.25" width="1.5" height="1.5"/>
<rect x="218.3" y="46.73" width="1.5" height="1.5"/>
<rect x="214.87" y="34.2" width="1.5" height="1.5"/>
<rect x="203.57" y="69.45" width="1.5" height="1.5"/>
<rect x="214.38" y="62.26" width="1.5" height="1.5"/>
<rect x="218.78" y="64.61" width="1.5" height="1.5"/>
<rect x="215.66" y="39.18" width="1.5" height="1.5"/>
<rect x="218.27" y="42.7" width="1.5" height="1.5"/>
<rect x="219.65" y="60.7" width="1.5" height="1.5"/>
<rect x="212.96" y="65.93" width="1.5" height="1.5"/>
<rect x="212" y="62.24" width="1.5" height="1.5"/>
<rect x="215.33" y="59.44" width="1.5" height="1.5"/>
<rect x="218.79" y="61.96" width="1.5" height="1.5"/>
<rect x="217.26" y="40.2" width="1.5" height="1.5"/>
<rect x="215.05" y="53.2" width="1.5" height="1.5"/>
<rect x="217.86" y="48" width="1.5" height="1.5"/>
<rect x="215.55" y="65.46" width="1.5" height="1.5"/>
<rect x="213.84" y="56.06" width="1.5" height="1.5"/>
<rect x="217.96" y="64.76" width="1.5" height="1.5"/>
<rect x="215.26" y="63.68" width="1.5" height="1.5"/>
<rect x="219.03" y="72.71" width="1.5" height="1.5"/>
<rect x="216.11" y="70.61" width="1.5" height="1.5"/>
<rect x="217.21" y="36.07" width="1.5" height="1.5"/>
<rect x="210.98" y="62.52" width="1.5" height="1.5"/>
<rect x="218.95" y="49.88" width="1.5" height="1.5"/>
<rect x="219.24" y="38.18" width="1.5" height="1.5"/>
<rect x="216.44" y="54.39" width="1.5" height="1.5"/>
<rect x="217.72" y="70.05" width="1.5" height="1.5"/>
<rect x="212.55" y="68.04" width="1.5" height="1.5"/>
<rect x="216.21" y="38.39" width="1.5" height="1.5"/>
<rect x="218.08" y="42.54" width="1.5" height="1.5"/>
<rect x="204.56" y="63.69" width="1.5" height="1.5"/>
<rect x="218.01" y="75.42" width="1.5" height="1.5"/>
<rect x="216.21" y="37.16" width="1.5" height="1.5"/>
<rect x="214.19" y="37.66" width="1.5" height="1.5"/>
<rect x="214.91" y="63.72" width="1.5" height="1.5"/>
<rect x="212.16" y="60.3" width="1.5" height="1.5"/>
<rect x="217.65" y="68.67" width="1.5" height="1.5"/>
<rect x="215.33" y="42.36" width="1.5" height="1.5"/>
<rect x="220.1" y="55.07" width="1.5" height="1.5"/>
<rect x="214.29" y="68.24" width="1.5" height="1.5"/>
<rect x="218.44" y="50.27" width="1.5" height="1.5"/>
<rect x="201.19" y="51.01" width="1.5" height="1.5"/>
<rect x="219.9" y="35.26" width="1.5" height="1.5"/>
<rect x="208.65" y="68.1" width="1.5" height="1.5"/>
<rect x="203.77" y="53.02" width="1.5" height="1.5"/>
<rect x="218.08" y="50.08" width="1.5" height="1.5"/>
<rect x="219.25" y="61.99" width="1.5" height="1.5"/>
<rect x="218.96" y="70.47" width="1.5" height="1.5"/>
<rect x="219.79" y="71.04" width="1.5" height="1.5"/>
<rect x="219.27" y="48.55" width="1.5" height="1.5"/>
<rect x="219.06" y="59.97" width="1.5" height="1.5"/>
<rect x="220.14" y="50.49" width="1.5" height="1.5"/>
<rect x="212.94" y="69.87" width="1.5" height="1.5"/>
<rect x="217.76" y="67.92" width="1.5" height="1.5"/>
<rect x="217.84" y="62.26" width="1.5" height="1.5"/>
<rect x="217.28" y="69.21" width="1.5" height="1.5"/>
<rect x="208.95" y="55.74" width="1.5" height="1.5"/>
<rect x="213.6" y="58.37" width="1.5" height="1.5"/>
<rect x="218.2" y="40.83" width="1.5" height="1.5"/>
<rect x="217.18" y="64.24" width="1.5" height="1.5"/>
<rect x="219.12" y="46.22" width="1.5" height="1.5"/>
<rect x="219.57" y="57.97" width="1.5" height="1.5"/>
<rect x="219.08" y="33.94" width="1.5" height="1.5"/>
<rect x="214.23" y="50.91" width="1.5" height="1.5"/>
<rect x="217.74" y="60.29" width="1.5" height="1.5"/>
<rect x="219.57" y="60.93" width="1.5" height="1.5"/>
<rect x="218.95" y="58.05" width="1.5" height="1.5"/>
<rect x="217.59" y="44.67" width="1.5" height="1.5"/>
<rect x="215.88" y="61.95" width="1.5" height="1.5"/>
<rect x="220.14" y="62.24" width="1.5" height="1.5"/>
<rect x="220.2" y="59.18" width="1.5" height="1.5"/>
<rect x="219.96" y="50.04" width="1.5" height="1.5"/>
<rect x="217.24" y="40.38" width="1.5" height="1.5"/>
<rect x="219.35" y="57.75" width="1.5" height="1.5"/>
<rect x="210.91" y="36.08" width="1.5" height="1.5"/>
<rect x="213.84" y="73.19" width="1.5" height="1.5"/>
<rect x="219.23" y="48.99" width="1.5" height="1.5"/>
<rect x="204.11" y="46" width="1.5" height="1.5"/>
<rect x="219.31" y="53.2" width="1.5" height="1.5"/>
<rect x="217.27" y="38.31" width="1.5" height="1.5"/>
<rect x="212.7" y="71.81" width="1.5" height="1.5"/>
<rect x="216.8" y="75.91" width="1.5" height="1.5"/>
<rect x="219.49" y="69.2" width="1.5" height="1.5"/>
<rect x="219.61" y="58.48" width="1.5" height="1.5"/>
<rect x="219.94" y="74.24" width="1.5" height="1.5"/>
<rect x="218.01" y="48.04" width="1.5" height="1.5"/>
<rect x="214.62" y="53.82" width="1.5" height="1.5"/>
<rect x="203.68" y="41.21" width="1.5" height="1.5"/>
<rect x="215.34" y="52.08" width="1.5" height="1.5"/>
<rect x="216.89" y="73.68" width="1.5" height="1.5"/>
<rect x="201.26" y="62.33" width="1.5" height="1.5"/>
<rect x="216.66" y="57.28" width="1.5" height="1.5"/>
<rect x="212.4" y="56.86" width="1.5" height="1.5"/>
<rect x="218.19" y="61.12" width="1.5" height="1.5"/>
<rect x="218.69" y="60.04" width="1.5" height="1.5"/>
<rect x="216.22" y="53.28" width="1.5" height="1.5"/>
<rect x="218.33" y="55.78" width="1.5" height="1.5"/>
<rect x="212.8" y="38.2" width="1.5" height="1.5"/>
<rect x="215.58" y="52.89" width="1.5" height="1.5"/>
<rect x="220.07" y="62.82" width="1.5" height="1.5"/>
<rect x="214.5" y="43.44" width="1.5" height="1.5"/>
<rect x="199.45" y="45.74" width="1.5" height="1.5"/>
<rect x="216.73" y="68.4" width="1.5" height="1.5"/>
<rect x="208.26" y="39.68" width="1.5" height="1.5"/>
<rect x="217.63" y="42.24" width="1.5" height="1.5"/>
<rect x="208.42" y="68.99" width="1.5" height="1.5"/>
<rect x="216.66" y="39.04" width="1.5" height="1.5"/>
<rect x="217.84" y="46.75" width="1.5" height="1.5"/>
<rect x="218.34" y="72.94" width="1.5" height="1.5"/>
<rect x="210.22" y="51.58" width="1.5" height="1.5"/>
<rect x="218.73" y="68.95" width="1.5" height="1.5"/>
<rect x="214.07" y="66.68" width="1.5" height="1.5"/>
<rect x="210.94" y="34.71" width="1.5" height="1.5"/>
<rect x="216.51" y="43.28" width="1.5" height="1.5"/>
<rect x="214.42" y="73" width="1.5" height="1.5"/>
<rect x="204.99" y="47.64" width="1.5" height="1.5"/>
<rect x="219.9" y="51.19" width="1.5" height="1.5"/>
<rect x="219.58" y="73.98" width="1.5" height="1.5"/>
<rect x="219.39" y="38.56" width="1.5" height="1.5"/>
<rect x="215.27" y="75.57" width="1.5" height="1.5"/>
<rect x="216.61" y="61.62" width="1.5" height="1.5"/>
<rect x="215.98" y="60.84" width="1.5" height="1.5"/>
<rect x="219.86" y="33.89" width="1.5" height="1.5"/>
<rect x="217.46" y="60.93" width="1.5" height="1.5"/>
<rect x="212.62" y="69.15" width="1.5" height="1.5"/>
<rect x="215.61" y="50.77" width="1.5" height="1.5"/>
<rect x="215.43" y="36.99" width="1.5" height="1.5"/>
<rect x="219.05" y="39.52" width="1.5" height="1.5"/>
<rect x="217.92" y="37.18" width="1.5" height="1.5"/>
<rect x="217.87" y="51.67" width="1.5" height="1.5"/>
<rect x="218.4" y="68.93" width="1.5" height="1.5"/>
<rect x="214.21" y="36.37" width="1.5" height="1.5"/>
<rect x="216.9" y="51.27" width="1.5" height="1.5"/>
<rect x="219.94" y="51.06" width="1.5" height="1.5"/>
<rect x="216.53" y="50.94" width="1.5" height="1.5"/>
<rect x="212.83" y="56.46" width="1.5" height="1.5"/>
<rect x="219.73" y="56.83" width="1.5" height="1.5"/>
<rect x="217.2" y="42.61" width="1.5" height="1.5"/>
<rect x="219.36" y="67.96" width="1.5" height="1.5"/>
<rect x="213.19" y="56.05" width="1.5" height="1.5"/>
<rect x="215.7" y="48.97" width="1.5" height="1.5"/>
<rect x="218.48" y="75.24" width="1.5" height="1.5"/>
<rect x="216.94" y="64.15" width="1.5" height="1.5"/>
<rect x="212.55" y="40.85" width="1.5" height="1.5"/>
<rect x="218.57" y="75.46" width="1.5" height="1.5"/>
<rect x="209.04" y="58.68" width="1.5" height="1.5"/>
<rect x="205.55" y="48.46" width="1.5" height="1.5"/>
<rect x="215.75" y="44.04" width="1.5" height="1.5"/>
<rect x="218.7" y="36.76" width="1.5" height="1.5"/>
<rect x="218.14" y="44.32" width="1.5" height="1.5"/>
<rect x="213.19" y="46.26" width="1.5" height="1.5"/>
<rect x="215.83" y="48.62" width="1.5" height="1.5"/>
<rect x="219.28" y="76.27" width="1.5" height="1.5"/>
<rect x="218.68" y="59.29" width="1.5" height="1.5"/>
<rect x="219.74" y="42.1" width="1.5" height="1.5"/>
<rect x="220.08" y="49.76" width="1.5" height="1.5"/>
<rect x="219.01" y="52.41" width="1.5" height="1.5"/>
<rect x="217.73" y="37.42" width="1.5" height="1.5"/>
<rect x="217.93" y="53.96" width="1.5" height="1.5"/>
<rect x="213.13" y="55.67" width="1.5" height="1.5"/>
<rect x="210.82" y="72.9" width="1.5" height="1.5"/>
<rect x="210.44" y="52.45" width="1.5" height="1.5"/>
<rect x="219.02" y="63.42" width="1.5" height="1.5"/>
<rect x="207.71" y="63.03" width="1.5" height="1.5"/>
<rect x="216.29" y="41.36" width="1.5" height="1.5"/>
<rect x="219.96" y="58.2" width="1.5" height="1.5"/>
<rect x="218.92" y="53.13" width="1.5" height="1.5"/>
<rect x="217.32" y="40.83" width="1.5" height="1.5"/>
<rect x="216.16" y="34.88" width="1.5" height="1.5"/>
<rect x="210.77" y="76.61" width="1.5" height="1.5"/>
<rect x="216.13" y="37.74" width="1.5" height="1.5"/>
<rect x="220.05" y="71.92" width="1.5" height="1.5"/>
<rect x="211.71" y="49.59" width="1.5" height="1.5"/>
<rect x="220.13" y="37.36" width="1.5" height="1.5"/>
<rect x="219.19" y="75.26" width="1.5" height="1.5"/>
<rect x="216.85" y="62.2" width="1.5" height="1.5"/>
<rect x="219.93" y="51.22" width="1.5" height="1.5"/>
<rect x="212.71" y="69.83" width="1.5" height="1.5"/>
<rect x="219.03" y="64.23" width="1.5" height="1.5"/>
<rect x="218.27" y="51.69" width="1.5" height="1.5"/>
<rect x="217.88" y="64.67" width="1.5" height="1.5"/>
<rect x="218.85" y="65.53" width="1.5" height="1.5"/>
<rect x="220.04" y="41.24" width="1.5" height="1.5"/>
<rect x="219.46" y="64.61" width="1.5" height="1.5"/>
<rect x="219.27" y="73.2" width="1.5" height="1.5"/>
<rect x="214.6" y="63.37" width="1.5" height="1.5"/>
<rect x="219.55" y="68.17" width="1.5" height="1.5"/>
<rect x="219.94" y="76.35" width="1.5" height="1.5"/>
<rect x="219.36" y="68.04" width="1.5" height="1.5"/>
<rect x="217.75" y="54.02" width="1.5" height="1.5"/>
<rect x="214.68" y="57.99" width="1.5" height="1.5"/>
<rect x="218.81" y="66.77" width="1.5" height="1.5"/>
<rect x="217" y="61" width="1.5" height="1.5"/>
<rect x="218.47" y="36.89" width="1.5" height="1.5"/>
<rect x="219.52" y="36.43" width="1.5" height="1.5"/>
<rect x="218.23" y="45.56" width="1.5" height="1.5"/>
<rect x="217.44" y="68.98" width="1.5" height="1.5"/>
<rect x="220.03" y="43.36" width="1.5" height="1.5"/>
<rect x="218.67" y="47.55" width="1.5" height="1.5"/>
<rect x="212.72" y="69.19" width="1.5" height="1.5"/>
<rect x="219.36" y="39.39" width="1.5" height="1.5"/>
<rect x="220.09" y="45.86" width="1.5" height="1.5"/>
<rect x="219.77" y="44.86" width="1.5" height="1.5"/>
<rect x="219.14" y="35.88" width="1.5" height="1.5"/>
<rect x="219.44" y="65.73" width="1.5" height="1.5"/>
<rect x="204.43" y="47.62" width="1.5" height="1.5"/>
<rect x="220.05" y="51.35" width="1.5" height="1.5"/>
<rect x="219.82" y="48.15" width="1.5" height="1.5"/>
<rect x="216.38" y="36.68" width="1.5" height="1.5"/>
<rect x="217.1" y="70.12" width="1.5" height="1.5"/>
<rect x="217.65" y="39.62" width="1.5" height="1.5"/>
<rect x="218.79" y="46.11" width="1.5" height="1.5"/>
<rect x="219.31" y="64.8" width="1.5" height="1.5"/>
<rect x="217.34" y="48.81" width="1.5" height="1.5"/>
<rect x="219.19" y="55.61" width="1.5" height="1.5"/>
<rect x="213.78" y="48.03" width="1.5" height="1.5"/>
<rect x="216.59" y="57.9" width="1.5" height="1.5"/>
<rect x="218.61" y="47.47" width="1.5" height="1.5"/>
<rect x="217.72" y="53.45" width="1.5" height="1.5"/>
<rect x="216.23" y="34.23" width="1.5" height="1.5"/>
<rect x="214.02" y="34.5" width="1.5" height="1.5"/>
<rect x="219.47" y="55.61" width="1.5" height="1.5"/>
<rect x="219.16" y="68.93" width="1.5" height="1.5"/>
<rect x="219.84" y="76.72" width="1.5" height="1.5"/>
<rect x="220.19" y="68.33" width="1.5" height="1.5"/>
<rect x="213.36" y="56.37" width="1.5" height="1.5"/>
<rect x="215.41" y="61.51" width="1.5" height="1.5"/>
<rect x="217.49" y="62.68" width="1.5" height="1.5"/>
<rect x="215.62" y="65.18" width="1.5" height="1.5"/>
<rect x="214.65" y="76.43" width="1.5" height="1.5"/>
<rect x="219.45" y="48.61" width="1.5" height="1.5"/>
<rect x="210.68" y="53.01" width="1.5" height="1.5"/>
<rect x="212.13" y="43.12" width="1.5" height="1.5"/>
<rect x="213.15" y="37.97" width="1.5" height="1.5"/>
<rect x="219.44" y="72.44" width="1.5" height="1.5"/>
<rect x="208.27" y="34.53" width="1.5" height="1.5"/>
<rect x="219.78" y="72.23" width="1.5" height="1.5"/>
<rect x="217.78" y="73.13" width="1.5" height="1.5"/>
<rect x="219.64" y="40.96" width="1.5" height="1.5"/>
<rect x="214.7" y="66.27" width="1.5" height="1.5"/>
<rect x="217.88" y="46.25" width="1.5" height="1.5"/>
<rect x="218.46" y="45.49" width="1.5" height="1.5"/>
<rect x="217.76" y="76.08" width="1.5" height="1.5"/>
<rect x="212.12" y="71.93" width="1.5" height="1.5"/>
<rect x="217.23" y="66.67" width="1.5" height="1.5"/>
<rect x="219.19" y="52.57" width="1.5" height="1.5"/>
<rect x="218.52" y="76.18" width="1.5" height="1.5"/>
<rect x="218.88" y="58.34" width="1.5" height="1.5"/>
<rect x="213.31" y="75.93" width="1.5" height="1.5"/>
<rect x="214.76" y="64.82" width="1.5" height="1.5"/>
<rect x="215.15" y="35.86" width="1.5" height="1.5"/>
<rect x="216.77" y="68.12" width="1.5" height="1.5"/>
<rect x="197.86" y="69.83" width="1.5" height="1.5"/>
<rect x="217.43" y="71.68" width="1.5" height="1.5"/>
<rect x="220" y="60.56" width="1.5" height="1.5"/>
<rect x="217.53" y="35.46" width="1.5" height="1.5"/>
<rect x="215.64" y="71.09" width="1.5" height="1.5"/>
<rect x="194.68" y="51.97" width="1.5" height="1.5"/>
<rect x="219.79" y="42.29" width="1.5" height="1.5"/>
<rect x="216.58" y="42.8" width="1.5" height="1.5"/>
<rect x="215.95" y="42.5" width="1.5" height="1.5"/>
<rect x="218.88" y="68.87" width="1.5" height="1.5"/>
<rect x="219.53" y="36.97" width="1.5" height="1.5"/>
<rect x="218.08" y="73.27" width="1.5" height="1.5"/>
<rect x="220.15" y="34.57" width="1.5" height="1.5"/>
<rect x="219.89" y="64.89" width="1.5" height="1.5"/>
<rect x="214.45" y="43.75" width="1.5" height="1.5"/>
<rect x="211.91" y="55.95" width="1.5" height="1.5"/>
<rect x="212.59" y="41.46" width="1.5" height="1.5"/>
<rect x="215.09" y="72.48" width="1.5" height="1.5"/>
<rect x="219.77" y="40.54" width="1.5" height="1.5"/>
<rect x="214.27" y="53.89" width="1.5" height="1.5"/>
<rect x="219.68" y="59.98" width="1.5" height="1.5"/>
<rect x="216.12" y="53.31" width="1.5" height="1.5"/>
<rect x="218.83" y="43.13" width="1.5" height="1.5"/>
<rect x="217.16" y="46.3" width="1.5" height="1.5"/>
<rect x="219.47" y="73.97" width="1.5" height="1.5"/>
<rect x="218.78" y="39.23" width="1.5" height="1.5"/>
<rect x="214.9" y="34.6" width="1.5" height="1.5"/>
<rect x="217.17" y="72.86" width="1.5" height="1.5"/>
<rect x="211.58" y="71.9" width="1.5" height="1.5"/>
<rect x="218.93" y="63.27" width="1.5" height="1.5"/>
<rect x="217.28" y="54.11" width="1.5" height="1.5"/>
<rect x="219.7" y="74.72" width="1.5" height="1.5"/>
<rect x="218.24" y="51.59" width="1.5" height="1.5"/>
<rect x="211.46" y="34.41" width="1.5" height="1.5"/>
<rect x="211.82" y="52.54" width="1.5" height="1.5"/>
<rect x="219.99" y="56.57" width="1.5" height="1.5"/>
<rect x="216.84" y="57.39" width="1.5" height="1.5"/>
<rect x="208.75" y="71.98" width="1.5" height="1.5"/>
<rect x="215.9" y="36.76" width="1.5" height="1.5"/>
<rect x="213.26" y="70.52" width="1.5" height="1.5"/>
<rect x="220.01" y="56.27" width="1.5" height="1.5"/>
<rect x="217.72" y="65.29" width="1.5" height="1.5"/>
<rect x="208.51" y="51.61" width="1.5" height="1.5"/>
<rect x="218.91" y="46.56" width="1.5" height="1.5"/>
<rect x="219.66" y="48.26" width="1.5" height="1.5"/>
<rect x="217.18" y="45.64" width="1.5" height="1.5"/>
<rect x="218.27" y="53.32" width="1.5" height="1.5"/>
<rect x="219.34" y="59.52" width="1.5" height="1.5"/>
<rect x="218.65" y="69.53" width="1.5" height="1.5"/>
<rect x="214.62" y="41.34" width="1.5" height="1.5"/>
<rect x="207.67" y="53.17" width="1.5" height="1.5"/>
<rect x="220.05" y="56.69" width="1.5" height="1.5"/>
<rect x="218.01" y="68.98" width="1.5" height="1.5"/>
<rect x="218.1" y="64.34" width="1.5" height="1.5"/>
<rect x="216.63" y="60.61" width="1.5" height="1.5"/>
<rect x="214.48" y="62.8" width="1.5" height="1.5"/>
<rect x="217.68" y="53.09" width="1.5" height="1.5"/>
<rect x="212.01" y="68.48" width="1.5" height="1.5"/>
<rect x="219.54" y="69.8" width="1.5" height="1.5"/>
<rect x="214.02" y="58.16" width="1.5" height="1.5"/>
<rect x="209.45" y="38.87" width="1.5" height="1.5"/>
<rect x="210.6" y="52.15" width="1.5" height="1.5"/>
<rect x="219.49" y="45.22" width="1.5" height="1.5"/>
<rect x="215.23" y="42.08" width="1.5" height="1.5"/>
<rect x="217.87" y="46.59" width="1.5" height="1.5"/>
<rect x="219.85" y="69.03" width="1.5" height="1.5"/>
<rect x="215.62" y="48.78" width="1.5" height="1.5"/>
<rect x="220.04" y="52.3" width="1.5" height="1.5"/>
<rect x="219.38" y="50.28" width="1.5" height="1.5"/>
<rect x="219.17" y="41.78" width="1.5" height="1.5"/>
<rect x="212.56" y="58.38" width="1.5" height="1.5"/>
<rect x="215.32" y="51.74" width="1.5" height="1.5"/>
<rect x="215.2" y="74.06" width="1.5" height="1.5"/>
<rect x="202.57" y="60.4" width="1.5" height="1.5"/>
<rect x="219.76" y="75.84" width="1.5" height="1.5"/>
<rect x="217.07" y="70.73" width="1.5" height="1.5"/>
<rect x="219.79" y="54.92" width="1.5" height="1.5"/>
<rect x="213.27" y="34.55" width="1.5" height="1.5"/>
<rect x="219.81" y="42.99" width="1.5" height="1.5"/>
<rect x="219.32" y="38.97" width="1.5" height="1.5"/>
<rect x="217.76" y="65.52" width="1.5" height="1.5"/>
<rect x="215.61" y="39.76" width="1.5" height="1.5"/>
<rect x="217.81" y="61.55" width="1.5" height="1.5"/>
<rect x="217.62" y="47.7" width="1.5" height="1.5"/>
<rect x="213.38" y="54.48" width="1.5" height="1.5"/>
<rect x="218.73" y="66.34" width="1.5" height="1.5"/>
<rect x="215.83" y="46.66" width="1.5" height="1.5"/>
<rect x="218.79" y="41.22" width="1.5" height="1.5"/>
<rect x="219.06" y="46.22" width="1.5" height="1.5"/>
<rect x="217.59" y="74.36" width="1.5" height="1.5"/>
<rect x="218.53" y="57.59" width="1.5" height="1.5"/>
<rect x="219.21" y="46.18" width="1.5" height="1.5"/>
<rect x="220.01" y="40.11" width="1.5" height="1.5"/>
<rect x="204.07" y="36.78" width="1.5" height="1.5"/>
<rect x="216.53" y="48.19" width="1.5" height="1.5"/>
<rect x="216.9" y="60.21" width="1.5" height="1.5"/>
<rect x="219.97" y="53.46" width="1.5" height="1.5"/>
<rect x="206.57" y="68.72" width="1.5" height="1.5"/>
<rect x="219.01" y="76.56" width="1.5" height="1.5"/>
<rect x="217.06" y="58.33" width="1.5" height="1.5"/>
<rect x="217.11" y="48.66" width="1.5" height="1.5"/>
<rect x="209.33" y="67.97" width="1.5" height="1.5"/>
<rect x="217.93" y="37.66" width="1.5" height="1.5"/>
<rect x="206.59" y="66.46" width="1.5" height="1.5"/>
<rect x="217.82" y="71.7" width="1.5" height="1.5"/>
<rect x="211.83" y="67.17" width="1.5" height="1.5"/>
<rect x="219.14" y="38.09" width="1.5" height="1.5"/>
<rect x="214.84" y="58.8" width="1.5" height="1.5"/>
<rect x="214.64" y="68.29" width="1.5" height="1.5"/>
<rect x="217.91" y="51.52" width="1.5" height="1.5"/>
<rect x="217.21" y="70.09" width="1.5" height="1.5"/>
<rect x="220.09" y="40.98" width="1.5" height="1.5"/>
<rect x="212.06" y="56.55" width="1.5" height="1.5"/>
<rect x="216.26" y="57.82" width="1.5" height="1.5"/>
<rect x="218.03" y="67.69" width="1.5" height="1.5"/>
<rect x="218.44" y="51.54" width="1.5" height="1.5"/>
<rect x="211.5" y="44.94" width="1.5" height="1.5"/>
<rect x="219.33" y="64.42" width="1.5" height="1.5"/>
<rect x="218.73" y="38.75" width="1.5" height="1.5"/>
<rect x="219.06" y="49.64" width="1.5" height="1.5"/>
<rect x="218.34" y="53.94" width="1.5" height="1.5"/>
<rect x="219.31" y="67.67" width="1.5" height="1.5"/>
<rect x="219.5" y="52.09" width="1.5" height="1.5"/>
<rect x="210.62" y="57.99" width="1.5" height="1.5"/>
<rect x="215.16" y="62.97" width="1.5" height="1.5"/>
<rect x="219.83" y="62.85" width="1.5" height="1.5"/>
<rect x="203.85" y="75.22" width="1.5" height="1.5"/>
<rect x="214.36" y="53.74" width="1.5" height="1.5"/>
<rect x="210.87" y="58.4" width="1.5" height="1.5"/>
<rect x="216.45" y="34.68" width="1.5" height="1.5"/>
<rect x="218.2" y="42.09" width="1.5" height="1.5"/>
<rect x="218.54" y="44.53" width="1.5" height="1.5"/>
<rect x="217.46" y="42.92" width="1.5" height="1.5"/>
<rect x="217.25" y="56.14" width="1.5" height="1.5"/>
<rect x="218.02" y="42.41" width="1.5" height="1.5"/>
<rect x="214.28" y="58.32" width="1.5" height="1.5"/>
<rect x="216.56" y="69.31" width="1.5" height="1.5"/>
<rect x="219.24" y="36.97" width="1.5" height="1.5"/>
<rect x="218.66" y="44.28" width="1.5" height="1.5"/>
<rect x="219.5" y="55.18" width="1.5" height="1.5"/>
<rect x="217.44" y="35.83" width="1.5" height="1.5"/>
<rect x="208.19" y="40" width="1.5" height="1.5"/>
<rect x="216.15" y="58.54" width="1.5" height="1.5"/>
<rect x="218.99" y="51" width="1.5" height="1.5"/>
<rect x="218.74" y="72.65" width="1.5" height="1.5"/>
<rect x="218.86" y="58.34" width="1.5" height="1.5"/>
<rect x="220.14" y="66.35" width="1.5" height="1.5"/>
<rect x="211.53" y="48.7" width="1.5" height="1.5"/>
<rect x="211.42" y="50.04" width="1.5" height="1.5"/>
<rect x="217.88" y="70.49" width="1.5" height="1.5"/>
<rect x="219.03" y="60.27" width="1.5" height="1.5"/>
<rect x="219.05" y="73.11" width="1.5" height="1.5"/>
<rect x="216.53" y="44.69" width="1.5" height="1.5"/>
<rect x="218.72" y="38.77" width="1.5" height="1.5"/>
<rect x="213.87" y="62.93" width="1.5" height="1.5"/>
<rect x="214.75" y="39.22" width="1.5" height="1.5"/>
<rect x="212.89" y="37.11" width="1.5" height="1.5"/>
<rect x="214.82" y="50.61" width="1.5" height="1.5"/>
<rect x="218.19" y="63.32" width="1.5" height="1.5"/>
<rect x="219.46" y="49.32" width="1.5" height="1.5"/>
<rect x="220.18" y="66.18" width="1.5" height="1.5"/>
<rect x="213.43" y="53.4" width="1.5" height="1.5"/>
<rect x="217.13" y="46.08" width="1.5" height="1.5"/>
<rect x="208.95" y="56.79" width="1.5" height="1.5"/>
<rect x="212.91" y="59.8" width="1.5" height="1.5"/>
<rect x="207.65" y="40.29" width="1.5" height="1.5"/>
<rect x="211.43" y="59.25" width="1.5" height="1.5"/>
<rect x="220.04" y="41.08" width="1.5" height="1.5"/>
<rect x="219.46" y="75.42" width="1.5" height="1.5"/>
<rect x="217.97" y="56.67" width="1.5" height="1.5"/>
<rect x="216.33" y="42.67" width="1.5" height="1.5"/>
<rect x="211.63" y="35.68" width="1.5" height="1.5"/>
<rect x="218.9" y="43.06" width="1.5" height="1.5"/>
<rect x="220.24" y="47.52" width="1.5" height="1.5"/>
<rect x="212.15" y="58.47" width="1.5" height="1.5"/>
<rect x="217.36" y="62.34" width="1.5" height="1.5"/>
<rect x="219.54" y="64.4" width="1.5" height="1.5"/>
<rect x="214.53" y="52.79" width="1.5" height="1.5"/>
<rect x="219.42" y="60.91" width="1.5" height="1.5"/>
<rect x="218.78" y="57.62" width="1.5" height="1.5"/>
<rect x="218.74" y="46.58" width="1.5" height="1.5"/>
<rect x="215.49" y="43.25" width="1.5" height="1.5"/>
<rect x="216.48" y="50.99" width="1.5" height="1.5"/>
<rect x="214.78" y="63.46" width="1.5" height="1.5"/>
<rect x="212.19" y="39.62" width="1.5" height="1.5"/>
<rect x="216.01" y="61.16" width="1.5" height="1.5"/>
<rect x="218.08" y="34.74" width="1.5" height="1.5"/>
<rect x="215.98" y="41.74" width="1.5" height="1.5"/>
<rect x="211.87" y="62.61" width="1.5" height="1.5"/>
<rect x="218.58" y="68.54" width="1.5" height="1.5"/>
<rect x="217.35" y="66.79" width="1.5" height="1.5"/>
<rect x="207.5" y="63.2" width="1.5" height="1.5"/>
<rect x="209.82" y="44.76" width="1.5" height="1.5"/>
<rect x="217.5" y="76.26" width="1.5" height="1.5"/>
<rect x="216.4" y="59.65" width="1.5" height="1.5"/>
<rect x="218.76" y="72.93" width="1.5" height="1.5"/>
<rect x="217.53" y="74.06" width="1.5" height="1.5"/>
<rect x="206.29" y="44.1" width="1.5" height="1.5"/>
<rect x="213.47" y="75.49" width="1.5" height="1.5"/>
<rect x="219.1" y="37.34" width="1.5" height="1.5"/>
<rect x="208.6" y="61.21" width="1.5" height="1.5"/>
<rect x="216.36" y="44.87" width="1.5" height="1.5"/>
<rect x="218.31" y="37.89" width="1.5" height="1.5"/>
<rect x="201.14" y="58.3" width="1.5" height="1.5"/>
<rect x="218.83" y="42.98" width="1.5" height="1.5"/>
<rect x="219.94" y="67.61" width="1.5" height="1.5"/>
<rect x="220.21" y="53.67" width="1.5" height="1.5"/>
<rect x="217.11" y="45.43" width="1.5" height="1.5"/>
<rect x="206.99" y="34.36" width="1.5" height="1.5"/>
<rect x="212.04" y="63.56" width="1.5" height="1.5"/>
<rect x="219.71" y="61.18" width="1.5" height="1.5"/>
<rect x="207.57" y="68.42" width="1.5" height="1.5"/>
<rect x="213.28" y="50.3" width="1.5" height="1.5"/>
<rect x="215.43" y="73.13" width="1.5" height="1.5"/>
<rect x="215.61" y="34.86" width="1.5" height="1.5"/>
<rect x="219.12" y="73.3" width="1.5" height="1.5"/>
<rect x="217.09" y="66.68" width="1.5" height="1.5"/>
<rect x="220.22" y="38.25" width="1.5" height="1.5"/>
<rect x="220.1" y="76.23" width="1.5" height="1.5"/>
<rect x="212.93" y="37.7" width="1.5" height="1.5"/>
<rect x="220.12" y="66.1" width="1.5" height="1.5"/>
<rect x="213.37" y="44.34" width="1.5" height="1.5"/>
<rect x="217.64" y="63.52" width="1.5" height="1.5"/>
<rect x="215.47" y="69.79" width="1.5" height="1.5"/>
<rect x="219.28" y="38.91" width="1.5" height="1.5"/>
<rect x="218.86" y="47.78" width="1.5" height="1.5"/>
<rect x="219.78" y="72.28" width="1.5" height="1.5"/>
<rect x="216.38" y="54.35" width="1.5" height="1.5"/>
<rect x="201.5" y="40.42" width="1.5" height="1.5"/>
<rect x="215.21" y="37.58" width="1.5" height="1.5"/>
<rect x="210.4" y="39.13" width="1.5" height="1.5"/>
<rect x="219.34" y="38.39" width="1.5" height="1.5"/>
<rect x="217.9" y="49.17" width="1.5" height="1.5"/>
<rect x="219.55" y="67.19" width="1.5" height="1.5"/>
<rect x="215.95" y="53.3" width="1.5" height="1.5"/>
<rect x="214.2" y="38.07" width="1.5" height="1.5"/>
<rect x="218.88" y="48.99" width="1.5" height="1.5"/>
<rect x="216.23" y="54.62" width="1.5" height="1.5"/>
<rect x="219.64" y="53.09" width="1.5" height="1.5"/>
<rect x="218.28" y="61.38" width="1.5" height="1.5"/>
<rect x="219.91" y="63.07" width="1.5" height="1.5"/>
<rect x="217.01" y="65.95" width="1.5" height="1.5"/>
<rect x="209.95" y="56.86" width="1.5" height="1.5"/>
<rect x="215.95" y="35.14" width="1.5" height="1.5"/>
<rect x="219.76" y="66.89" width="1.5" height="1.5"/>
<rect x="219.96" y="67.47" width="1.5" height="1.5"/>
<rect x="215.39" y="65.17" width="1.5" height="1.5"/>
<rect x="212.11" y="52.64" width="1.5" height="1.5"/>
<rect x="219.12" y="71.93" width="1.5" height="1.5"/>
<rect x="219.47" y="37.99" width="1.5" height="1.5"/>
<rect x="219.75" y="65.63" width="1.5" height="1.5"/>
<rect x="214.53" y="59.45" width="1.5" height="1.5"/>
<rect x="216.81" y="63.91" width="1.5" height="1.5"/>
<rect x="219.84" y="36.74" width="1.5" height="1.5"/>
<rect x="215.45" y="75.42" width="1.5" height="1.5"/>
<rect x="219.59" y="35.15" width="1.5" height="1.5"/>
<rect x="208.43" y="41.44" width="1.5" height="1.5"/>
<rect x="219.17" y="56.03" width="1.5" height="1.5"/>
<rect x="217.57" y="58.45" width="1.5" height="1.5"/>
<rect x="217.01" y="41.49" width="1.5" height="1.5"/>
<rect x="217.15" y="46.19" width="1.5" height="1.5"/>
<rect x="220.11" y="73.14" width="1.5" height="1.5"/>
<rect x="218.74" y="47.65" width="1.5" height="1.5"/>
<rect x="218.33" y="52.96" width="1.5" height="1.5"/>
<rect x="214.82" y="38.64" width="1.5" height="1.5"/>
<rect x="218.93" y="58.28" width="1.5" height="1.5"/>
<rect x="217.87" y="63.94" width="1.5" height="1.5"/>
<rect x="216.67" y="65.66" width="1.5" height="1.5"/>
<rect x="217.38" y="43.84" width="1.5" height="1.5"/>
<rect x="215.49" y="49.7" width="1.5" height="1.5"/>
<rect x="218.49" y="61.95" width="1.5" height="1.5"/>
<rect x="210.83" y="75.62" width="1.5" height="1.5"/>
<rect x="217.76" y="66.9" width="1.5" height="1.5"/>
<rect x="215.88" y="43.26" width="1.5" height="1.5"/>
<rect x="215.34" y="36.66" width="1.5" height="1.5"/>
<rect x="212.47" y="47.94" width="1.5" height="1.5"/>
<rect x="216.4" y="56.58" width="1.5" height="1.5"/>
<rect x="216.49" y="45.53" width="1.5" height="1.5"/>
<rect x="197.59" y="67.76" width="1.5" height="1.5"/>
<rect x="212.56" y="44.86" width="1.5" height="1.5"/>
<rect x="216.74" y="39.17" width="1.5" height="1.5"/>
<rect x="217.42" y="59.72" width="1.5" height="1.5"/>
<rect x="217.44" y="66.49" width="1.5" height="1.5"/>
<rect x="214.82" y="42.65" width="1.5" height="1.5"/>
<rect x="218.49" y="48.18" width="1.5" height="1.5"/>
<rect x="215.64" y="45" width="1.5" height="1.5"/>
<rect x="214.32" y="35.09" width="1.5" height="1.5"/>
<rect x="213.91" y="63.16" width="1.5" height="1.5"/>
<rect x="219.02" y="36.03" width="1.5" height="1.5"/>
<rect x="210.39" y="60.12" width="1.5" height="1.5"/>
<rect x="207.02" y="60.78" width="1.5" height="1.5"/>
<rect x="210.92" y="56.61" width="1.5" height="1.5"/>
<rect x="219.39" y="35.67" width="1.5" height="1.5"/>
<rect x="218.87" y="55.96" width="1.5" height="1.5"/>
<rect x="219.53" y="54.91" width="1.5" height="1.5"/>
<rect x="218.68" y="34.51" width="1.5" height="1.5"/>
<rect x="215.91" y="34.31" width="1.5" height="1.5"/>
<rect x="218.78" y="67.05" width="1.5" height="1.5"/>
<rect x="215.9" y="47.78" width="1.5" height="1.5"/>
<rect x="217.79" y="64.63" width="1.5" height="1.5"/>
<rect x="212.91" y="42.38" width="1.5" height="1.5"/>
<rect x="215.76" y="45.25" width="1.5" height="1.5"/>
<rect x="212.55" y="72.41" width="1.5" height="1.5"/>
<rect x="219.08" y="42.34" width="1.5" height="1.5"/>
<rect x="219.61" y="51.38" width="1.5" height="1.5"/>
<rect x="216.86" y="55.26" width="1.5" height="1.5"/>
<rect x="208.75" y="64.41" width="1.5" height="1.5"/>
<rect x="213.71" y="47.62" width="1.5" height="1.5"/>
<rect x="211.39" y="61.73" width="1.5" height="1.5"/>
<rect x="219.9" y="43.39" width="1.5" height="1.5"/>
<rect x="215.94" y="63.1" width="1.5" height="1.5"/>
<rect x="218.11" y="34.76" width="1.5" height="1.5"/>
<rect x="207.6" y="41.87" width="1.5" height="1.5"/>
<rect x="197.63" y="36.47" width="1.5" height="1.5"/>
<rect x="219.59" y="38.23" width="1.5" height="1.5"/>
<rect x="220.16" y="65.97" width="1.5" height="1.5"/>
<rect x="214.74" y="53.77" width="1.5" height="1.5"/>
<rect x="215.57" y="67.48" width="1.5" height="1.5"/>
<rect x="211.91" y="75.71" width="1.5" height="1.5"/>
<rect x="216.91" y="41.84" width="1.5" height="1.5"/>
<rect x="201.44" y="66.86" width="1.5" height="1.5"/>
<rect x="220.22" y="75.58" width="1.5" height="1.5"/>
<rect x="220.09" y="47.13" width="1.5" height="1.5"/>
<rect x="215.92" y="37.16" width="1.5" height="1.5"/>
<rect x="216.3" y="53.68" width="1.5" height="1.5"/>
<rect x="217.03" y="57.15" width="1.5" height="1.5"/>
<rect x="214.67" y="63.39" width="1.5" height="1.5"/>
<rect x="217.32" y="58.36" width="1.5" height="1.5"/>
<rect x="212.89" y="46.81" width="1.5" height="1.5"/>
<rect x="217.95" y="40.82" width="1.5" height="1.5"/>
<rect x="218.22" y="48.45" width="1.5" height="1.5"/>
<rect x="217.88" y="53.98" width="1.5" height="1.5"/>
<rect x="216.32" y="41.82" width="1.5" height="1.5"/>
<rect x="218.73" y="46.67" width="1.5" height="1.5"/>
<rect x="218.24" y="71.81" width="1.5" height="1.5"/>
<rect x="218.4" y="52.03" width="1.5" height="1.5"/>
<rect x="217.23" y="39.23" width="1.5" height="1.5"/>
<rect x="209.4" y="62.42" width="1.5" height="1.5"/>
<rect x="217.24" y="49.09" width="1.5" height="1.5"/>
<rect x="219.33" y="55.97" width="1.5" height="1.5"/>
<rect x="214.27" y="50.71" width="1.5" height="1.5"/>
<rect x="207.15" y="38.78" width="1.5" height="1.5"/>
<rect x="217.06" y="65.5" width="1.5" height="1.5"/>
<rect x="214.72" y="58.27" width="1.5" height="1.5"/>
<rect x="217.09" y="76.31" width="1.5" height="1.5"/>
<rect x="219.76" y="34.05" width="1.5" height="1.5"/>
<rect x="219.65" y="58.64" width="1.5" height="1.5"/>
<rect x="215.43" y="52.13" width="1.5" height="1.5"/>
<rect x="217.62" y="52.52" width="1.5" height="1.5"/>
<rect x="218.96" y="64.87" width="1.5" height="1.5"/>
<rect x="220.07" y="44.26" width="1.5" height="1.5"/>
<rect x="216.33" y="51.02" width="1.5" height="1.5"/>
<rect x="219.33" y="39.57" width="1.5" height="1.5"/>
<rect x="215.53" y="58.18" width="1.5" height="1.5"/>
<rect x="218.65" y="52.63" width="1.5" height="1.5"/>
<rect x="219.47" y="35.68" width="1.5" height="1.5"/>
<rect x="218.73" y="43.74" width="1.5" height="1.5"/>
<rect x="197.57" y="50.82" width="1.5" height="1.5"/>
<rect x="219.16" y="56.69" width="1.5" height="1.5"/>
<rect x="218.77" y="37.84" width="1.5" height="1.5"/>
<rect x="215.29" y="60.44" width="1.5" height="1.5"/>
<rect x="212.36" y="68.96" width="1.5" height="1.5"/>
<rect x="217.69" y="48.14" width="1.5" height="1.5"/>
<rect x="213.68" y="36.72" width="1.5" height="1.5"/>
<rect x="217.67" y="40.14" width="1.5" height="1.5"/>
<rect x="218.29" y="66.61" width="1.5" height="1.5"/>
<rect x="216.48" y="56.7" width="1.5" height="1.5"/>
<rect x="217.82" y="39.69" width="1.5" height="1.5"/>
<rect x="219.86" y="41.06" width="1.5" height="1.5"/>
<rect x="218.55" y="69.62" width="1.5" height="1.5"/>
<rect x="219.56" y="63.02" width="1.5" height="1.5"/>
<rect x="218.95" y="63.72" width="1.5" height="1.5"/>
<rect x="217.6" y="39.88" width="1.5" height="1.5"/>
<rect x="218.19" y="76.37" width="1.5" height="1.5"/>
<rect x="215.4" y="44.75" width="1.5" height="1.5"/>
<rect x="209.91" y="49.05" width="1.5" height="1.5"/>
<rect x="215.93" y="43.89" width="1.5" height="1.5"/>
<rect x="214.91" y="74.32" width="1.5" height="1.5"/>
<rect x="215.68" y="60.97" width="1.5" height="1.5"/>
<rect x="217.88" y="57.6" width="1.5" height="1.5"/>
<rect x="207.38" y="51.63" width="1.5" height="1.5"/>
<rect x="214" y="64.64" width="1.5" height="1.5"/>
<rect x="219.39" y="53.97" width="1.5" height="1.5"/>
<rect x="219.44" y="53.67" width="1.5" height="1.5"/>
<rect x="220" y="40.37" width="1.5" height="1.5"/>
<rect x="215.64" y="69.21" width="1.5" height="1.5"/>
<rect x="211.84" y="36.69" width="1.5" height="1.5"/>
<rect x="220.25" y="72.81" width="1.5" height="1.5"/>
<rect x="217.55" y="35.93" width="1.5" height="1.5"/>
<rect x="204.2" y="35.54" width="1.5" height="1.5"/>
<rect x="219.97" y="34.49" width="1.5" height="1.5"/>
<rect x="219.02" y="35.34" width="1.5" height="1.5"/>
<rect x="217.83" y="38.07" width="1.5" height="1.5"/>
<rect x="213.27" y="40.29" width="1.5" height="1.5"/>
<rect x="194.43" y="36.79" width="1.5" height="1.5"/>
<rect x="217.62" y="35.71" width="1.5" height="1.5"/>
<rect x="212.35" y="40.05" width="1.5" height="1.5"/>
<rect x="210.93" y="34.11" width="1.5" height="1.5"/>
<rect x="217.52" y="38.39" width="1.5" height="1.5"/>
<rect x="216.06" y="34.19" width="1.5" height="1.5"/>
<rect x="217.73" y="36.73" width="1.5" height="1.5"/>
<rect x="212.53" y="35.78" width="1.5" height="1.5"/>
<rect x="208.49" y="39.57" width="1.5" height="1.5"/>
<rect x="211.53" y="34.03" width="1.5" height="1.5"/>
<rect x="198.15" y="34.75" width="1.5" height="1.5"/>
<rect x="219.11" y="38.57" width="1.5" height="1.5"/>
<rect x="195.58" y="38.32" width="1.5" height="1.5"/>
<rect x="205.92" y="34.93" width="1.5" height="1.5"/>
<rect x="218.34" y="36.49" width="1.5" height="1.5"/>
<rect x="215.3" y="35.91" width="1.5" height="1.5"/>
<rect x="213.6" y="45.02" width="1.5" height="1.5"/>
<rect x="216.7" y="34.11" width="1.5" height="1.5"/>
<rect x="201.69" y="36.68" width="1.5" height="1.5"/>
<rect x="216.6" y="35.65" width="1.5" height="1.5"/>
<rect x="215.16" y="39.73" width="1.5" height="1.5"/>
<rect x="197.91" y="40.69" width="1.5" height="1.5"/>
<rect x="218.09" y="37.79" width="1.5" height="1.5"/>
<rect x="201" y="37.62" width="1.5" height="1.5"/>
<rect x="199.08" y="38.03" width="1.5" height="1.5"/>
<rect x="218.75" y="34.22" width="1.5" height="1.5"/>
<rect x="214.07" y="34.04" width="1.5" height="1.5"/>
<rect x="218.25" y="36.89" width="1.5" height="1.5"/>
<rect x="218.73" y="34.6" width="1.5" height="1.5"/>
<rect x="195.12" y="37.37" width="1.5" height="1.5"/>
<rect x="216.65" y="40.11" width="1.5" height="1.5"/>
<rect x="198.27" y="35.81" width="1.5" height="1.5"/>
<rect x="215.36" y="35.07" width="1.5" height="1.5"/>
<rect x="218.78" y="34.34" width="1.5" height="1.5"/>
<rect x="218.25" y="35.13" width="1.5" height="1.5"/>
<rect x="214.51" y="40.52" width="1.5" height="1.5"/>
<rect x="214.72" y="35.58" width="1.5" height="1.5"/>
<rect x="219.39" y="35.84" width="1.5" height="1.5"/>
<rect x="218.99" y="35.39" width="1.5" height="1.5"/>
<rect x="218.48" y="38.59" width="1.5" height="1.5"/>
<rect x="211.16" y="37.4" width="1.5" height="1.5"/>
<rect x="220.21" y="37.58" width="1.5" height="1.5"/>
<rect x="216.41" y="33.87" width="1.5" height="1.5"/>
<rect x="210.22" y="34.46" width="1.5" height="1.5"/>
<rect x="210.63" y="34.27" width="1.5" height="1.5"/>
<rect x="208.81" y="34.8" width="1.5" height="1.5"/>
<rect x="195.63" y="37.44" width="1.5" height="1.5"/>
<rect x="203.86" y="39.13" width="1.5" height="1.5"/>
<rect x="218.03" y="34.67" width="1.5" height="1.5"/>
<rect x="217.1" y="52.15" width="1.5" height="1.5"/>
<rect x="212.47" y="37.67" width="1.5" height="1.5"/>
<rect x="202.75" y="34.43" width="1.5" height="1.5"/>
<rect x="215.69" y="38.87" width="1.5" height="1.5"/>
<rect x="217.72" y="40.64" width="1.5" height="1.5"/>
<rect x="215.8" y="35.16" width="1.5" height="1.5"/>
<rect x="219.76" y="34.16" width="1.5" height="1.5"/>
<rect x="209.05" y="37.54" width="1.5" height="1.5"/>
<rect x="210.66" y="38.12" width="1.5" height="1.5"/>
<rect x="207.06" y="36.16" width="1.5" height="1.5"/>
<rect x="217.33" y="36.59" width="1.5" height="1.5"/>
<rect x="209.47" y="34.63" width="1.5" height="1.5"/>
<rect x="215.12" y="33.95" width="1.5" height="1.5"/>
<rect x="215.6" y="37.45" width="1.5" height="1.5"/>
<rect x="217.71" y="34.66" width="1.5" height="1.5"/>
<rect x="218.68" y="40.67" width="1.5" height="1.5"/>
<rect x="212.56" y="36.95" width="1.5" height="1.5"/>
<rect x="197.58" y="37.22" width="1.5" height="1.5"/>
<rect x="219.76" y="33.94" width="1.5" height="1.5"/>
<rect x="213.77" y="35.66" width="1.5" height="1.5"/>
<rect x="207.13" y="41.7" width="1.5" height="1.5"/>
<rect x="208" y="34.37" width="1.5" height="1.5"/>
<rect x="213.74" y="35.36" width="1.5" height="1.5"/>
<rect x="215.43" y="34.02" width="1.5" height="1.5"/>
<rect x="217.97" y="42.67" width="1.5" height="1.5"/>
<rect x="197.19" y="51.26" width="1.5" height="1.5"/>
<rect x="218.62" y="36.62" width="1.5" height="1.5"/>
<rect x="206.7" y="35.79" width="1.5" height="1.5"/>
<rect x="208.12" y="36.06" width="1.5" height="1.5"/>
<rect x="219.54" y="43.53" width="1.5" height="1.5"/>
<rect x="208.73" y="37.87" width="1.5" height="1.5"/>
<rect x="207.84" y="34.36" width="1.5" height="1.5"/>
<rect x="215.92" y="34.01" width="1.5" height="1.5"/>
<rect x="211.79" y="34.12" width="1.5" height="1.5"/>
<rect x="219.58" y="37.94" width="1.5" height="1.5"/>
<rect x="215.93" y="41.36" width="1.5" height="1.5"/>
<rect x="212.89" y="43.47" width="1.5" height="1.5"/>
<rect x="218.54" y="34.94" width="1.5" height="1.5"/>
<rect x="215.64" y="40.49" width="1.5" height="1.5"/>
<rect x="218.57" y="39.62" width="1.5" height="1.5"/>
<rect x="204.08" y="43.03" width="1.5" height="1.5"/>
<rect x="212.39" y="42.76" width="1.5" height="1.5"/>
<rect x="215.35" y="37.06" width="1.5" height="1.5"/>
<rect x="216.99" y="35.09" width="1.5" height="1.5"/>
<rect x="204.2" y="44.52" width="1.5" height="1.5"/>
<rect x="212.81" y="35.16" width="1.5" height="1.5"/>
<rect x="210.48" y="34.02" width="1.5" height="1.5"/>
<rect x="201.28" y="41.94" width="1.5" height="1.5"/>
<rect x="198.73" y="34.66" width="1.5" height="1.5"/>
<rect x="214.91" y="35.25" width="1.5" height="1.5"/>
<rect x="208.6" y="38.42" width="1.5" height="1.5"/>
<rect x="211.92" y="42.3" width="1.5" height="1.5"/>
<rect x="216.45" y="36.79" width="1.5" height="1.5"/>
<rect x="218.4" y="39.23" width="1.5" height="1.5"/>
<rect x="202.7" y="36.67" width="1.5" height="1.5"/>
<rect x="218.33" y="34.71" width="1.5" height="1.5"/>
<rect x="210.6" y="39.85" width="1.5" height="1.5"/>
<rect x="214.14" y="35.02" width="1.5" height="1.5"/>
<rect x="201.28" y="40.32" width="1.5" height="1.5"/>
<rect x="208.6" y="42.3" width="1.5" height="1.5"/>
<rect x="212.65" y="35.24" width="1.5" height="1.5"/>
<rect x="218.49" y="45.34" width="1.5" height="1.5"/>
<rect x="215.27" y="37.31" width="1.5" height="1.5"/>
<rect x="199.42" y="36.05" width="1.5" height="1.5"/>
<rect x="203.56" y="35.14" width="1.5" height="1.5"/>
<rect x="204.69" y="38.1" width="1.5" height="1.5"/>
<rect x="206.43" y="34.67" width="1.5" height="1.5"/>
<rect x="216.71" y="35.27" width="1.5" height="1.5"/>
<rect x="218.39" y="38.13" width="1.5" height="1.5"/>
<rect x="215.2" y="34" width="1.5" height="1.5"/>
<rect x="218.8" y="40.25" width="1.5" height="1.5"/>
<rect x="200.89" y="45.29" width="1.5" height="1.5"/>
<rect x="199.91" y="36.21" width="1.5" height="1.5"/>
<rect x="209.34" y="39.89" width="1.5" height="1.5"/>
<rect x="215.72" y="35.45" width="1.5" height="1.5"/>
<rect x="208.89" y="40.51" width="1.5" height="1.5"/>
<rect x="208.99" y="35.58" width="1.5" height="1.5"/>
<rect x="218.92" y="36.3" width="1.5" height="1.5"/>
<rect x="206.04" y="35.95" width="1.5" height="1.5"/>
<rect x="213.07" y="35.7" width="1.5" height="1.5"/>
<rect x="211.18" y="33.86" width="1.5" height="1.5"/>
<rect x="208.25" y="34.45" width="1.5" height="1.5"/>
<rect x="208.54" y="34.11" width="1.5" height="1.5"/>
<rect x="218.62" y="34" width="1.5" height="1.5"/>
<rect x="219.93" y="36.82" width="1.5" height="1.5"/>
<rect x="219.74" y="34.2" width="1.5" height="1.5"/>
<rect x="213.82" y="37.76" width="1.5" height="1.5"/>
<rect x="211.59" y="35.35" width="1.5" height="1.5"/>
<rect x="198.42" y="39.72" width="1.5" height="1.5"/>
<rect x="211.37" y="68.36" width="1.5" height="1.5"/>
<rect x="208.83" y="56.53" width="1.5" height="1.5"/>
<rect x="198.58" y="63.14" width="1.5" height="1.5"/>
<rect x="203.14" y="38.2" width="1.5" height="1.5"/>
<rect x="210.28" y="67.54" width="1.5" height="1.5"/>
<rect x="194.69" y="49.84" width="1.5" height="1.5"/>
<rect x="205.72" y="72.06" width="1.5" height="1.5"/>
<rect x="204.86" y="44.49" width="1.5" height="1.5"/>
<rect x="199.12" y="34.11" width="1.5" height="1.5"/>
<rect x="203.56" y="47.56" width="1.5" height="1.5"/>
<rect x="197.55" y="64.93" width="1.5" height="1.5"/>
<rect x="202.78" y="64.76" width="1.5" height="1.5"/>
<rect x="207.95" y="70.25" width="1.5" height="1.5"/>
<rect x="202.78" y="42.89" width="1.5" height="1.5"/>
<rect x="197.39" y="59.35" width="1.5" height="1.5"/>
<rect x="207.34" y="36.98" width="1.5" height="1.5"/>
<rect x="201" y="43.49" width="1.5" height="1.5"/>
<rect x="202" y="35.81" width="1.5" height="1.5"/>
<rect x="199.98" y="60.85" width="1.5" height="1.5"/>
<rect x="205.92" y="72.29" width="1.5" height="1.5"/>
<rect x="208.29" y="59.66" width="1.5" height="1.5"/>
<rect x="200.49" y="59.73" width="1.5" height="1.5"/>
<rect x="197.22" y="72.65" width="1.5" height="1.5"/>
<rect x="203.93" y="48" width="1.5" height="1.5"/>
</g>
<line x1="132.4" y1="77.2" x2="221" y2="34.6" stroke="#1a1a1a" stroke-width="0.8" stroke-dasharray="1.8,0.5"/>
<rect x="132.4" y="34.6" width="88.6" height="42.6" fill="none" stroke="#000" stroke-width="0.8"/>
<line x1="129.1" y1="34.6" x2="132.4" y2="34.6" stroke="#000" stroke-width="0.8"/>
<text x="126.3" y="36.9" font-size="6.9" text-anchor="end" textLength="4.1" lengthAdjust="spacingAndGlyphs" style="stroke-width:0.16px">0</text>
<line x1="221" y1="77.2" x2="221" y2="80.5" stroke="#000" stroke-width="0.8"/>
<text x="221" y="88.7" font-size="6.9" text-anchor="middle" textLength="4.1" lengthAdjust="spacingAndGlyphs" style="stroke-width:0.16px">0</text>
<line x1="129.1" y1="53.68" x2="132.4" y2="53.68" stroke="#000" stroke-width="0.8"/>
<text x="126.3" y="55.98" font-size="6.9" text-anchor="end" textLength="6.4" lengthAdjust="spacingAndGlyphs" style="stroke-width:0.16px">-4</text>
<line x1="181.4" y1="77.2" x2="181.4" y2="80.5" stroke="#000" stroke-width="0.8"/>
<text x="181.4" y="88.7" font-size="6.9" text-anchor="middle" textLength="6.4" lengthAdjust="spacingAndGlyphs" style="stroke-width:0.16px">-4</text>
<line x1="129.1" y1="72.76" x2="132.4" y2="72.76" stroke="#000" stroke-width="0.8"/>
<text x="126.3" y="75.06" font-size="6.9" text-anchor="end" textLength="6.4" lengthAdjust="spacingAndGlyphs" style="stroke-width:0.16px">-8</text>
<line x1="141.8" y1="77.2" x2="141.8" y2="80.5" stroke="#000" stroke-width="0.8"/>
<text x="141.8" y="88.7" font-size="6.9" text-anchor="middle" textLength="6.4" lengthAdjust="spacingAndGlyphs" style="stroke-width:0.16px">-8</text>
<text x="162.8" y="99" font-size="7.9" textLength="11.34" lengthAdjust="spacingAndGlyphs" style="stroke-width:0.12px">Irr.</text>
<text x="176.62" y="99" font-size="7.9" font-style="italic" textLength="4.67" lengthAdjust="spacingAndGlyphs" style="stroke-width:0.12px">x</text>
<text x="181.27" y="99" font-size="7.9" textLength="3.08" lengthAdjust="spacingAndGlyphs" style="stroke-width:0.12px">(</text>
<text x="184.35" y="99" font-size="7.9" font-style="italic" textLength="3.09" lengthAdjust="spacingAndGlyphs" style="stroke-width:0.12px">t</text>
<text x="187.42" y="99" font-size="7.9" textLength="3.08" lengthAdjust="spacingAndGlyphs" style="stroke-width:0.12px">)</text>
<g transform="translate(112.7,55.9) rotate(-90)">
<text x="-16.8" y="0" font-size="7.9" textLength="11.76" lengthAdjust="spacingAndGlyphs" style="stroke-width:0.12px">Irr.</text>
<text x="-2.46" y="0" font-size="7.9" font-style="italic" textLength="5.4" lengthAdjust="spacingAndGlyphs" style="stroke-width:0.12px">ϕ</text>
<text x="2.91" y="0.7" font-size="6.2" font-style="italic" textLength="3.92" lengthAdjust="spacingAndGlyphs" style="stroke-width:0.12px">n</text>
<text x="6.55" y="0" font-size="7.9" textLength="3.19" lengthAdjust="spacingAndGlyphs" style="stroke-width:0.12px">(</text>
<text x="9.74" y="0" font-size="7.9" font-style="italic" textLength="3.2" lengthAdjust="spacingAndGlyphs" style="stroke-width:0.12px">t</text>
<text x="12.94" y="0" font-size="7.9" textLength="3.19" lengthAdjust="spacingAndGlyphs" style="stroke-width:0.12px">)</text>
</g>
</g>
<g>
<rect x="422.48" y="130.85" width="4.25" height="0.3" fill="#ff7f0e"/>
<rect x="433.1" y="130.85" width="4.25" height="0.3" fill="#ff7f0e"/>
<rect x="443.73" y="130.15" width="4.25" height="1" fill="#ff7f0e"/>
<rect x="454.36" y="129.25" width="4.25" height="1.9" fill="#ff7f0e"/>
<rect x="464.99" y="128.65" width="4.25" height="2.5" fill="#ff7f0e"/>
<rect x="475.62" y="126.05" width="4.25" height="5.1" fill="#ff7f0e"/>
<rect x="482" y="130.65" width="4.25" height="0.5" fill="#555555"/>
<rect x="486.25" y="125.35" width="4.25" height="5.8" fill="#ff7f0e"/>
<rect x="492.63" y="128.15" width="4.25" height="3" fill="#555555"/>
<rect x="496.88" y="121.25" width="4.25" height="9.9" fill="#ff7f0e"/>
<rect x="503.26" y="121.15" width="4.25" height="10" fill="#555555"/>
<rect x="507.51" y="115.15" width="4.25" height="16" fill="#ff7f0e"/>
<rect x="513.88" y="103.75" width="4.25" height="27.4" fill="#555555"/>
<rect x="518.14" y="99.15" width="4.25" height="32" fill="#ff7f0e"/>
<rect x="524.51" y="28.95" width="4.25" height="102.2" fill="#555555"/>
<rect x="528.77" y="61.95" width="4.25" height="69.2" fill="#ff7f0e"/>
<rect x="321.5" y="23.9" width="222.2" height="107.25" fill="none" stroke="#000" stroke-width="0.8"/>
<line x1="318" y1="131.15" x2="321.5" y2="131.15" stroke="#000" stroke-width="0.8"/>
<text x="314.5" y="135.05" font-size="10.1" text-anchor="end" textLength="15" lengthAdjust="spacingAndGlyphs">0.0</text>
<line x1="318" y1="99.2" x2="321.5" y2="99.2" stroke="#000" stroke-width="0.8"/>
<text x="314.5" y="103.1" font-size="10.1" text-anchor="end" textLength="15" lengthAdjust="spacingAndGlyphs">0.5</text>
<line x1="318" y1="67.25" x2="321.5" y2="67.25" stroke="#000" stroke-width="0.8"/>
<text x="314.5" y="71.15" font-size="10.1" text-anchor="end" textLength="15" lengthAdjust="spacingAndGlyphs">1.0</text>
<line x1="318" y1="35.3" x2="321.5" y2="35.3" stroke="#000" stroke-width="0.8"/>
<text x="314.5" y="39.2" font-size="10.1" text-anchor="end" textLength="15" lengthAdjust="spacingAndGlyphs">1.5</text>
<line x1="345.12" y1="131.15" x2="345.12" y2="134.65" stroke="#000" stroke-width="0.8"/>
<text x="341.92" y="145.55" font-size="10.1" text-anchor="middle" textLength="7" lengthAdjust="spacingAndGlyphs">−</text>
<text x="349.42" y="145.55" font-size="10.1" text-anchor="middle" textLength="5.6" lengthAdjust="spacingAndGlyphs">8</text>
<line x1="392.36" y1="131.15" x2="392.36" y2="134.65" stroke="#000" stroke-width="0.8"/>
<text x="389.16" y="145.55" font-size="10.1" text-anchor="middle" textLength="7" lengthAdjust="spacingAndGlyphs">−</text>
<text x="396.66" y="145.55" font-size="10.1" text-anchor="middle" textLength="5.6" lengthAdjust="spacingAndGlyphs">6</text>
<line x1="439.6" y1="131.15" x2="439.6" y2="134.65" stroke="#000" stroke-width="0.8"/>
<text x="436.4" y="145.55" font-size="10.1" text-anchor="middle" textLength="7" lengthAdjust="spacingAndGlyphs">−</text>
<text x="443.9" y="145.55" font-size="10.1" text-anchor="middle" textLength="5.6" lengthAdjust="spacingAndGlyphs">4</text>
<line x1="486.84" y1="131.15" x2="486.84" y2="134.65" stroke="#000" stroke-width="0.8"/>
<text x="483.64" y="145.55" font-size="10.1" text-anchor="middle" textLength="7" lengthAdjust="spacingAndGlyphs">−</text>
<text x="491.14" y="145.55" font-size="10.1" text-anchor="middle" textLength="5.6" lengthAdjust="spacingAndGlyphs">2</text>
<line x1="534.08" y1="131.15" x2="534.08" y2="134.65" stroke="#000" stroke-width="0.8"/>
<text x="534.08" y="145.55" font-size="10.1" text-anchor="middle" textLength="6" lengthAdjust="spacingAndGlyphs">0</text>
<text x="321.2" y="18" font-size="17.9" textLength="133.2" lengthAdjust="spacingAndGlyphs">Visibility Graph</text>
<text transform="translate(292.5,78.03) rotate(-90)" font-size="14" text-anchor="middle" textLength="52.6" lengthAdjust="spacingAndGlyphs">Density</text>
<text x="387.3" y="161.25" font-size="14" textLength="19.8" lengthAdjust="spacingAndGlyphs">log</text>
<text x="407" y="163.85" font-size="10" textLength="12" lengthAdjust="spacingAndGlyphs">10</text>
<text x="427.6" y="161.25" font-size="14" font-style="italic" textLength="8.4" lengthAdjust="spacingAndGlyphs">p</text>
<text x="436" y="161.25" font-size="14" textLength="41.7" lengthAdjust="spacingAndGlyphs">-value</text>
<text x="334.6" y="109" font-size="9.1" font-style="italic" textLength="5.46" lengthAdjust="spacingAndGlyphs">p</text>
<text x="340.06" y="109" font-size="9.1" textLength="46.4" lengthAdjust="spacingAndGlyphs">-value K-S:</text>
<text x="336.6" y="119.3" font-size="9.1" textLength="7.2" lengthAdjust="spacingAndGlyphs">&lt;</text>
<text x="345.1" y="119.3" font-size="9.1" textLength="10.9" lengthAdjust="spacingAndGlyphs">10</text>
<text x="356.6" y="116.7" font-size="7.3" textLength="12.6" lengthAdjust="spacingAndGlyphs" style="stroke-width:0.2px">−24</text>
<rect x="325.7" y="28.3" width="52" height="28.9" rx="2" ry="2" fill="#fff" fill-opacity="0.8" stroke="#cfcfcf" stroke-width="0.8"/>
<rect x="329.3" y="32.4" width="17.7" height="6.2" fill="#555555"/>
<rect x="329.3" y="45.7" width="17.7" height="6.0" fill="#ff7f0e"/>
<text x="354.1" y="38.6" font-size="8.7" font-style="italic" textLength="4.85" lengthAdjust="spacingAndGlyphs" style="stroke-width:0.2px">x</text>
<text x="358.95" y="38.6" font-size="8.7" textLength="3.2" lengthAdjust="spacingAndGlyphs" style="stroke-width:0.2px">(</text>
<text x="362.15" y="38.6" font-size="8.7" font-style="italic" textLength="3.2" lengthAdjust="spacingAndGlyphs" style="stroke-width:0.2px">t</text>
<text x="365.35" y="38.6" font-size="8.7" textLength="3.2" lengthAdjust="spacingAndGlyphs" style="stroke-width:0.2px">)</text>
<text x="353.5" y="51" font-size="8.7" font-style="italic" textLength="5.4" lengthAdjust="spacingAndGlyphs" style="stroke-width:0.2px">ϕ</text>
<text x="359" y="52.4" font-size="6.4" font-style="italic" textLength="3.9" lengthAdjust="spacingAndGlyphs" style="stroke-width:0.2px">n</text>
<text x="363.6" y="51" font-size="8.7" textLength="3.2" lengthAdjust="spacingAndGlyphs" style="stroke-width:0.2px">(</text>
<text x="366.8" y="51" font-size="8.7" font-style="italic" textLength="3.2" lengthAdjust="spacingAndGlyphs" style="stroke-width:0.2px">t</text>
<text x="370" y="51" font-size="8.7" textLength="3.2" lengthAdjust="spacingAndGlyphs" style="stroke-width:0.2px">)</text>
</g>
<g>
<rect x="410.4" y="34.6" width="88.6" height="42.6" fill="#fff"/>
<clipPath id="c1"><rect x="410.4" y="34.6" width="88.6" height="42.6"/></clipPath>
<g clip-path="url(#c1)" fill="#d45a0a">
<rect x="496.58" y="36.74" width="1.5" height="1.5"/>
<rect x="496.39" y="35.95" width="1.5" height="1.5"/>
<rect x="497.81" y="41.2" width="1.5" height="1.5"/>
<rect x="494.65" y="41.42" width="1.5" height="1.5"/>
<rect x="489.1" y="37.48" width="1.5" height="1.5"/>
<rect x="492.46" y="37.14" width="1.5" height="1.5"/>
<rect x="497.59" y="37.83" width="1.5" height="1.5"/>
<rect x="495.69" y="37.84" width="1.5" height="1.5"/>
<rect x="488.47" y="41.4" width="1.5" height="1.5"/>
<rect x="498.08" y="43.9" width="1.5" height="1.5"/>
<rect x="494.67" y="38.99" width="1.5" height="1.5"/>
<rect x="496.12" y="44.55" width="1.5" height="1.5"/>
<rect x="496.68" y="38.44" width="1.5" height="1.5"/>
<rect x="494.94" y="43.87" width="1.5" height="1.5"/>
<rect x="494.23" y="47.57" width="1.5" height="1.5"/>
<rect x="497.72" y="46.45" width="1.5" height="1.5"/>
<rect x="495.16" y="34.76" width="1.5" height="1.5"/>
<rect x="476.65" y="36.81" width="1.5" height="1.5"/>
<rect x="497.29" y="35.79" width="1.5" height="1.5"/>
<rect x="491.04" y="36.53" width="1.5" height="1.5"/>
<rect x="498.1" y="33.93" width="1.5" height="1.5"/>
<rect x="491.49" y="39.18" width="1.5" height="1.5"/>
<rect x="494.91" y="35.55" width="1.5" height="1.5"/>
<rect x="494.25" y="35.23" width="1.5" height="1.5"/>
<rect x="487.84" y="41.53" width="1.5" height="1.5"/>
<rect x="492.89" y="35.26" width="1.5" height="1.5"/>
<rect x="486.01" y="35.06" width="1.5" height="1.5"/>
<rect x="481.67" y="34.85" width="1.5" height="1.5"/>
<rect x="485.99" y="43.56" width="1.5" height="1.5"/>
<rect x="492.16" y="57.22" width="1.5" height="1.5"/>
<rect x="496.31" y="43.91" width="1.5" height="1.5"/>
<rect x="496.07" y="53.06" width="1.5" height="1.5"/>
<rect x="484.86" y="35.81" width="1.5" height="1.5"/>
<rect x="484.75" y="39.76" width="1.5" height="1.5"/>
<rect x="494.99" y="36.14" width="1.5" height="1.5"/>
<rect x="495.93" y="33.93" width="1.5" height="1.5"/>
<rect x="493.86" y="41.25" width="1.5" height="1.5"/>
<rect x="492.27" y="38.2" width="1.5" height="1.5"/>
<rect x="491.05" y="34.81" width="1.5" height="1.5"/>
<rect x="497.94" y="37.75" width="1.5" height="1.5"/>
<rect x="490.24" y="42.39" width="1.5" height="1.5"/>
<rect x="493.31" y="35.46" width="1.5" height="1.5"/>
<rect x="489.82" y="34.85" width="1.5" height="1.5"/>
<rect x="486.56" y="35.25" width="1.5" height="1.5"/>
<rect x="491.76" y="40.36" width="1.5" height="1.5"/>
<rect x="492.46" y="34.3" width="1.5" height="1.5"/>
<rect x="497.5" y="41.28" width="1.5" height="1.5"/>
<rect x="493.77" y="36.95" width="1.5" height="1.5"/>
<rect x="485.58" y="37.05" width="1.5" height="1.5"/>
<rect x="488.44" y="38.77" width="1.5" height="1.5"/>
<rect x="496.74" y="39.2" width="1.5" height="1.5"/>
<rect x="490.29" y="40.2" width="1.5" height="1.5"/>
<rect x="494.8" y="39.33" width="1.5" height="1.5"/>
<rect x="493.66" y="51.96" width="1.5" height="1.5"/>
<rect x="492.41" y="44.07" width="1.5" height="1.5"/>
<rect x="489.48" y="39.48" width="1.5" height="1.5"/>
<rect x="494.9" y="37.88" width="1.5" height="1.5"/>
<rect x="491.78" y="46.83" width="1.5" height="1.5"/>
<rect x="496.53" y="34.64" width="1.5" height="1.5"/>
<rect x="496.35" y="34.46" width="1.5" height="1.5"/>
<rect x="497.03" y="45.4" width="1.5" height="1.5"/>
<rect x="493.34" y="39.82" width="1.5" height="1.5"/>
<rect x="494.99" y="47.53" width="1.5" height="1.5"/>
<rect x="491.78" y="47.12" width="1.5" height="1.5"/>
<rect x="496.8" y="41.54" width="1.5" height="1.5"/>
<rect x="488.99" y="39.87" width="1.5" height="1.5"/>
<rect x="488.85" y="38.14" width="1.5" height="1.5"/>
<rect x="495.39" y="44.85" width="1.5" height="1.5"/>
<rect x="495.51" y="33.92" width="1.5" height="1.5"/>
<rect x="493.61" y="36.37" width="1.5" height="1.5"/>
<rect x="494" y="34.84" width="1.5" height="1.5"/>
<rect x="487.04" y="36.87" width="1.5" height="1.5"/>
<rect x="493.44" y="35.4" width="1.5" height="1.5"/>
<rect x="483.01" y="33.96" width="1.5" height="1.5"/>
<rect x="488.38" y="35.16" width="1.5" height="1.5"/>
<rect x="496.23" y="41.21" width="1.5" height="1.5"/>
<rect x="496.32" y="38" width="1.5" height="1.5"/>
<rect x="496.47" y="36.31" width="1.5" height="1.5"/>
<rect x="494.54" y="43.96" width="1.5" height="1.5"/>
<rect x="485.68" y="36.11" width="1.5" height="1.5"/>
<rect x="494.07" y="35.16" width="1.5" height="1.5"/>
<rect x="493.52" y="73.15" width="1.5" height="1.5"/>
<rect x="491.37" y="34.03" width="1.5" height="1.5"/>
<rect x="492.16" y="34.76" width="1.5" height="1.5"/>
<rect x="495.66" y="34.75" width="1.5" height="1.5"/>
<rect x="491.64" y="35.84" width="1.5" height="1.5"/>
<rect x="497.83" y="40.66" width="1.5" height="1.5"/>
<rect x="496.21" y="34.11" width="1.5" height="1.5"/>
<rect x="495.11" y="47.51" width="1.5" height="1.5"/>
<rect x="494.46" y="37.44" width="1.5" height="1.5"/>
<rect x="485.38" y="34.16" width="1.5" height="1.5"/>
<rect x="497.95" y="43.98" width="1.5" height="1.5"/>
<rect x="489.62" y="35.49" width="1.5" height="1.5"/>
<rect x="494.27" y="37.05" width="1.5" height="1.5"/>
<rect x="496.56" y="44.56" width="1.5" height="1.5"/>
<rect x="496.45" y="35.43" width="1.5" height="1.5"/>
<rect x="497.41" y="39.72" width="1.5" height="1.5"/>
<rect x="496.36" y="42.84" width="1.5" height="1.5"/>
<rect x="496.14" y="43.15" width="1.5" height="1.5"/>
<rect x="484.78" y="41.45" width="1.5" height="1.5"/>
<rect x="494.35" y="37.26" width="1.5" height="1.5"/>
<rect x="496.05" y="37.34" width="1.5" height="1.5"/>
<rect x="493.23" y="37.62" width="1.5" height="1.5"/>
<rect x="496.17" y="46.94" width="1.5" height="1.5"/>
<rect x="497.52" y="36.4" width="1.5" height="1.5"/>
<rect x="491.57" y="41.34" width="1.5" height="1.5"/>
<rect x="493.99" y="34.06" width="1.5" height="1.5"/>
<rect x="494.96" y="43.33" width="1.5" height="1.5"/>
<rect x="495.09" y="40.66" width="1.5" height="1.5"/>
<rect x="490.78" y="43.82" width="1.5" height="1.5"/>
<rect x="494.79" y="34.92" width="1.5" height="1.5"/>
<rect x="498.02" y="34.54" width="1.5" height="1.5"/>
<rect x="480.77" y="36.78" width="1.5" height="1.5"/>
<rect x="487.26" y="35.06" width="1.5" height="1.5"/>
<rect x="495.87" y="36.82" width="1.5" height="1.5"/>
<rect x="495.05" y="34.1" width="1.5" height="1.5"/>
<rect x="493.43" y="39.51" width="1.5" height="1.5"/>
<rect x="494.75" y="43.07" width="1.5" height="1.5"/>
<rect x="494.81" y="39.06" width="1.5" height="1.5"/>
<rect x="495.67" y="35.36" width="1.5" height="1.5"/>
<rect x="495.25" y="39.79" width="1.5" height="1.5"/>
<rect x="498.21" y="36.13" width="1.5" height="1.5"/>
<rect x="495.78" y="36.1" width="1.5" height="1.5"/>
<rect x="487.83" y="34.55" width="1.5" height="1.5"/>
<rect x="495.63" y="35.16" width="1.5" height="1.5"/>
<rect x="486.23" y="52.63" width="1.5" height="1.5"/>
<rect x="479.04" y="36.42" width="1.5" height="1.5"/>
<rect x="497.38" y="34.76" width="1.5" height="1.5"/>
<rect x="497.76" y="35.39" width="1.5" height="1.5"/>
<rect x="496.01" y="42.83" width="1.5" height="1.5"/>
<rect x="496.89" y="40.94" width="1.5" height="1.5"/>
<rect x="497.95" y="35.11" width="1.5" height="1.5"/>
<rect x="482.27" y="36.14" width="1.5" height="1.5"/>
<rect x="493.58" y="40.37" width="1.5" height="1.5"/>
<rect x="494.35" y="37.59" width="1.5" height="1.5"/>
<rect x="496.03" y="44.95" width="1.5" height="1.5"/>
<rect x="488.85" y="34.61" width="1.5" height="1.5"/>
<rect x="492.18" y="35.59" width="1.5" height="1.5"/>
<rect x="497.04" y="36.44" width="1.5" height="1.5"/>
<rect x="497.91" y="40.32" width="1.5" height="1.5"/>
<rect x="495.4" y="51.26" width="1.5" height="1.5"/>
<rect x="496.66" y="35.96" width="1.5" height="1.5"/>
<rect x="487.73" y="43.18" width="1.5" height="1.5"/>
<rect x="496.59" y="34.89" width="1.5" height="1.5"/>
<rect x="496.17" y="43.54" width="1.5" height="1.5"/>
<rect x="493.94" y="39.46" width="1.5" height="1.5"/>
<rect x="496.76" y="43.19" width="1.5" height="1.5"/>
<rect x="496.63" y="34.81" width="1.5" height="1.5"/>
<rect x="486.25" y="36.43" width="1.5" height="1.5"/>
<rect x="498.1" y="38.76" width="1.5" height="1.5"/>
<rect x="497.05" y="39.34" width="1.5" height="1.5"/>
<rect x="491.27" y="35.11" width="1.5" height="1.5"/>
<rect x="496.89" y="39.2" width="1.5" height="1.5"/>
<rect x="493.87" y="36.39" width="1.5" height="1.5"/>
<rect x="489" y="37.41" width="1.5" height="1.5"/>
<rect x="498.01" y="36.24" width="1.5" height="1.5"/>
<rect x="494.13" y="38.93" width="1.5" height="1.5"/>
<rect x="491.73" y="50.62" width="1.5" height="1.5"/>
<rect x="497.83" y="40.42" width="1.5" height="1.5"/>
<rect x="494.71" y="40.01" width="1.5" height="1.5"/>
<rect x="484.18" y="34.4" width="1.5" height="1.5"/>
<rect x="497.78" y="34.13" width="1.5" height="1.5"/>
<rect x="494.04" y="35.55" width="1.5" height="1.5"/>
<rect x="497.9" y="36.28" width="1.5" height="1.5"/>
<rect x="496.09" y="36.83" width="1.5" height="1.5"/>
<rect x="487.2" y="37.08" width="1.5" height="1.5"/>
<rect x="487.58" y="34.88" width="1.5" height="1.5"/>
<rect x="496.24" y="34.19" width="1.5" height="1.5"/>
<rect x="497.61" y="38.55" width="1.5" height="1.5"/>
<rect x="496.61" y="59.59" width="1.5" height="1.5"/>
<rect x="495.67" y="35.32" width="1.5" height="1.5"/>
<rect x="490.15" y="44.56" width="1.5" height="1.5"/>
<rect x="497.51" y="38.96" width="1.5" height="1.5"/>
<rect x="495.67" y="41.41" width="1.5" height="1.5"/>
<rect x="495.36" y="36.31" width="1.5" height="1.5"/>
<rect x="476.12" y="38.73" width="1.5" height="1.5"/>
<rect x="496.5" y="36.63" width="1.5" height="1.5"/>
<rect x="497.55" y="44.01" width="1.5" height="1.5"/>
<rect x="497.27" y="41.4" width="1.5" height="1.5"/>
<rect x="492.06" y="42.5" width="1.5" height="1.5"/>
<rect x="495.65" y="33.91" width="1.5" height="1.5"/>
<rect x="489.22" y="36.03" width="1.5" height="1.5"/>
<rect x="474.77" y="46.34" width="1.5" height="1.5"/>
<rect x="493.94" y="39.74" width="1.5" height="1.5"/>
<rect x="494.67" y="39.41" width="1.5" height="1.5"/>
<rect x="491.31" y="35.85" width="1.5" height="1.5"/>
<rect x="491.38" y="38.62" width="1.5" height="1.5"/>
<rect x="491.59" y="54.98" width="1.5" height="1.5"/>
<rect x="489.59" y="42.2" width="1.5" height="1.5"/>
<rect x="497.87" y="38.57" width="1.5" height="1.5"/>
<rect x="493.97" y="34.12" width="1.5" height="1.5"/>
<rect x="497.89" y="34.49" width="1.5" height="1.5"/>
<rect x="491.31" y="34.87" width="1.5" height="1.5"/>
<rect x="497.65" y="35.89" width="1.5" height="1.5"/>
<rect x="496.44" y="41.12" width="1.5" height="1.5"/>
<rect x="492.08" y="36.67" width="1.5" height="1.5"/>
<rect x="489.07" y="35.43" width="1.5" height="1.5"/>
<rect x="493.54" y="34.32" width="1.5" height="1.5"/>
<rect x="496.83" y="33.95" width="1.5" height="1.5"/>
<rect x="492.83" y="43.33" width="1.5" height="1.5"/>
<rect x="489.67" y="36.99" width="1.5" height="1.5"/>
<rect x="497.75" y="35.98" width="1.5" height="1.5"/>
<rect x="495.05" y="39.64" width="1.5" height="1.5"/>
<rect x="497.49" y="40.98" width="1.5" height="1.5"/>
<rect x="495.45" y="36.3" width="1.5" height="1.5"/>
<rect x="497.18" y="36.33" width="1.5" height="1.5"/>
<rect x="496.16" y="36.56" width="1.5" height="1.5"/>
<rect x="494.59" y="36.6" width="1.5" height="1.5"/>
<rect x="498" y="39.28" width="1.5" height="1.5"/>
<rect x="496.53" y="35.02" width="1.5" height="1.5"/>
<rect x="489.27" y="48.6" width="1.5" height="1.5"/>
<rect x="497.42" y="37.22" width="1.5" height="1.5"/>
<rect x="488.29" y="37.52" width="1.5" height="1.5"/>
<rect x="495.38" y="37.89" width="1.5" height="1.5"/>
<rect x="495.38" y="37.68" width="1.5" height="1.5"/>
<rect x="497.91" y="37.68" width="1.5" height="1.5"/>
<rect x="495.94" y="36.86" width="1.5" height="1.5"/>
<rect x="496.93" y="34.05" width="1.5" height="1.5"/>
<rect x="497.11" y="36.89" width="1.5" height="1.5"/>
<rect x="489.66" y="38.24" width="1.5" height="1.5"/>
<rect x="491.58" y="39.21" width="1.5" height="1.5"/>
<rect x="489.64" y="34.46" width="1.5" height="1.5"/>
<rect x="490.02" y="34.08" width="1.5" height="1.5"/>
<rect x="493.62" y="42.43" width="1.5" height="1.5"/>
<rect x="493.71" y="34.19" width="1.5" height="1.5"/>
<rect x="489.83" y="39.34" width="1.5" height="1.5"/>
<rect x="487.4" y="36.72" width="1.5" height="1.5"/>
<rect x="497.74" y="47.03" width="1.5" height="1.5"/>
<rect x="496.65" y="36.05" width="1.5" height="1.5"/>
<rect x="483.43" y="35.61" width="1.5" height="1.5"/>
<rect x="495.22" y="50.25" width="1.5" height="1.5"/>
<rect x="497.07" y="44.52" width="1.5" height="1.5"/>
<rect x="496.62" y="44.27" width="1.5" height="1.5"/>
<rect x="482.87" y="45.08" width="1.5" height="1.5"/>
<rect x="497.71" y="42.48" width="1.5" height="1.5"/>
<rect x="484.43" y="34.64" width="1.5" height="1.5"/>
<rect x="490.99" y="36.57" width="1.5" height="1.5"/>
<rect x="495.7" y="35.07" width="1.5" height="1.5"/>
<rect x="493.76" y="48.99" width="1.5" height="1.5"/>
<rect x="497.71" y="35.55" width="1.5" height="1.5"/>
<rect x="491.24" y="43" width="1.5" height="1.5"/>
<rect x="491.17" y="39" width="1.5" height="1.5"/>
<rect x="498.19" y="34.08" width="1.5" height="1.5"/>
<rect x="494.01" y="48.74" width="1.5" height="1.5"/>
<rect x="497.85" y="38.43" width="1.5" height="1.5"/>
<rect x="495.35" y="34.16" width="1.5" height="1.5"/>
<rect x="487.52" y="44.04" width="1.5" height="1.5"/>
<rect x="478.73" y="40.84" width="1.5" height="1.5"/>
<rect x="494.38" y="34.37" width="1.5" height="1.5"/>
<rect x="498.19" y="36.43" width="1.5" height="1.5"/>
<rect x="489.89" y="36.3" width="1.5" height="1.5"/>
<rect x="491.87" y="34.28" width="1.5" height="1.5"/>
<rect x="490.95" y="38.48" width="1.5" height="1.5"/>
<rect x="491" y="34.58" width="1.5" height="1.5"/>
<rect x="494.48" y="34.61" width="1.5" height="1.5"/>
<rect x="487.7" y="49" width="1.5" height="1.5"/>
<rect x="485.7" y="60.08" width="1.5" height="1.5"/>
<rect x="474.41" y="41.75" width="1.5" height="1.5"/>
<rect x="491.76" y="38.63" width="1.5" height="1.5"/>
<rect x="497.5" y="56.37" width="1.5" height="1.5"/>
<rect x="492.53" y="33.87" width="1.5" height="1.5"/>
<rect x="495.49" y="43.32" width="1.5" height="1.5"/>
<rect x="486.74" y="37.59" width="1.5" height="1.5"/>
<rect x="491.78" y="34.11" width="1.5" height="1.5"/>
<rect x="494.12" y="34.66" width="1.5" height="1.5"/>
<rect x="496.5" y="35.39" width="1.5" height="1.5"/>
<rect x="492.63" y="46.87" width="1.5" height="1.5"/>
<rect x="493.57" y="38.9" width="1.5" height="1.5"/>
<rect x="497.88" y="52.82" width="1.5" height="1.5"/>
<rect x="493.41" y="37.93" width="1.5" height="1.5"/>
<rect x="495.09" y="34.35" width="1.5" height="1.5"/>
<rect x="488.01" y="41.84" width="1.5" height="1.5"/>
<rect x="494.66" y="33.96" width="1.5" height="1.5"/>
<rect x="491.74" y="36.72" width="1.5" height="1.5"/>
<rect x="493.53" y="48.72" width="1.5" height="1.5"/>
<rect x="497.01" y="48.1" width="1.5" height="1.5"/>
<rect x="493.85" y="35.34" width="1.5" height="1.5"/>
<rect x="488.54" y="35.37" width="1.5" height="1.5"/>
<rect x="487.04" y="33.99" width="1.5" height="1.5"/>
<rect x="489.13" y="42.61" width="1.5" height="1.5"/>
<rect x="497.67" y="47.85" width="1.5" height="1.5"/>
<rect x="494.12" y="39.39" width="1.5" height="1.5"/>
<rect x="494.96" y="45.64" width="1.5" height="1.5"/>
<rect x="490.13" y="33.89" width="1.5" height="1.5"/>
<rect x="487.96" y="35.63" width="1.5" height="1.5"/>
<rect x="495.83" y="35.1" width="1.5" height="1.5"/>
<rect x="496.45" y="41.02" width="1.5" height="1.5"/>
<rect x="494.63" y="41.61" width="1.5" height="1.5"/>
<rect x="480.42" y="34.01" width="1.5" height="1.5"/>
<rect x="496.94" y="38.56" width="1.5" height="1.5"/>
<rect x="489.43" y="44.52" width="1.5" height="1.5"/>
<rect x="493.72" y="50.88" width="1.5" height="1.5"/>
<rect x="492.82" y="37.15" width="1.5" height="1.5"/>
<rect x="486.13" y="35.61" width="1.5" height="1.5"/>
<rect x="485.14" y="38.85" width="1.5" height="1.5"/>
<rect x="493.8" y="39.84" width="1.5" height="1.5"/>
<rect x="473.19" y="39.66" width="1.5" height="1.5"/>
<rect x="494.72" y="38.4" width="1.5" height="1.5"/>
<rect x="497.58" y="50.45" width="1.5" height="1.5"/>
<rect x="478.7" y="45.16" width="1.5" height="1.5"/>
<rect x="496.59" y="36.11" width="1.5" height="1.5"/>
<rect x="488.04" y="34.77" width="1.5" height="1.5"/>
<rect x="491.2" y="35.85" width="1.5" height="1.5"/>
<rect x="479.45" y="38.63" width="1.5" height="1.5"/>
<rect x="472.05" y="58.93" width="1.5" height="1.5"/>
<rect x="497.46" y="38.59" width="1.5" height="1.5"/>
<rect x="498.05" y="36.62" width="1.5" height="1.5"/>
<rect x="496.74" y="38.19" width="1.5" height="1.5"/>
<rect x="492.77" y="59.81" width="1.5" height="1.5"/>
<rect x="498.02" y="36.63" width="1.5" height="1.5"/>
<rect x="497.74" y="36.28" width="1.5" height="1.5"/>
<rect x="492.29" y="35.24" width="1.5" height="1.5"/>
<rect x="496.86" y="41.44" width="1.5" height="1.5"/>
<rect x="490.86" y="36.48" width="1.5" height="1.5"/>
<rect x="496.93" y="33.98" width="1.5" height="1.5"/>
<rect x="486.39" y="43.37" width="1.5" height="1.5"/>
<rect x="496.91" y="50.35" width="1.5" height="1.5"/>
<rect x="494.06" y="41.77" width="1.5" height="1.5"/>
<rect x="490.12" y="35.21" width="1.5" height="1.5"/>
<rect x="481.12" y="36.72" width="1.5" height="1.5"/>
<rect x="498.18" y="35.96" width="1.5" height="1.5"/>
<rect x="496.73" y="53.18" width="1.5" height="1.5"/>
<rect x="492.76" y="35.37" width="1.5" height="1.5"/>
<rect x="488.68" y="35.99" width="1.5" height="1.5"/>
<rect x="490.7" y="42.19" width="1.5" height="1.5"/>
<rect x="495.12" y="41.52" width="1.5" height="1.5"/>
<rect x="473.9" y="34.71" width="1.5" height="1.5"/>
<rect x="497.19" y="38.15" width="1.5" height="1.5"/>
<rect x="495.19" y="35.27" width="1.5" height="1.5"/>
<rect x="494.4" y="60.09" width="1.5" height="1.5"/>
<rect x="493.13" y="41.76" width="1.5" height="1.5"/>
<rect x="495.78" y="38.72" width="1.5" height="1.5"/>
<rect x="496.42" y="34.77" width="1.5" height="1.5"/>
<rect x="495.61" y="44.56" width="1.5" height="1.5"/>
<rect x="494.19" y="40.07" width="1.5" height="1.5"/>
<rect x="497.49" y="35.7" width="1.5" height="1.5"/>
<rect x="489.27" y="46.63" width="1.5" height="1.5"/>
<rect x="493.82" y="49.85" width="1.5" height="1.5"/>
<rect x="497.99" y="47.8" width="1.5" height="1.5"/>
<rect x="485.57" y="37.18" width="1.5" height="1.5"/>
<rect x="496.94" y="39.48" width="1.5" height="1.5"/>
<rect x="497.98" y="38.18" width="1.5" height="1.5"/>
<rect x="495.43" y="35.89" width="1.5" height="1.5"/>
<rect x="493.11" y="35.16" width="1.5" height="1.5"/>
<rect x="497" y="39.73" width="1.5" height="1.5"/>
<rect x="490.13" y="34.12" width="1.5" height="1.5"/>
<rect x="497.52" y="35.47" width="1.5" height="1.5"/>
<rect x="495.68" y="38.04" width="1.5" height="1.5"/>
<rect x="491.76" y="36.32" width="1.5" height="1.5"/>
<rect x="498.06" y="33.97" width="1.5" height="1.5"/>
<rect x="497.83" y="37.43" width="1.5" height="1.5"/>
<rect x="493.68" y="34.9" width="1.5" height="1.5"/>
<rect x="497.34" y="35.15" width="1.5" height="1.5"/>
<rect x="494.42" y="34.38" width="1.5" height="1.5"/>
<rect x="495.23" y="34.78" width="1.5" height="1.5"/>
<rect x="495.49" y="34.17" width="1.5" height="1.5"/>
<rect x="492.15" y="37.52" width="1.5" height="1.5"/>
<rect x="498.16" y="42.61" width="1.5" height="1.5"/>
<rect x="488.97" y="43.37" width="1.5" height="1.5"/>
<rect x="496.19" y="35.39" width="1.5" height="1.5"/>
<rect x="497.03" y="44" width="1.5" height="1.5"/>
<rect x="474.51" y="34.79" width="1.5" height="1.5"/>
<rect x="498.02" y="35.94" width="1.5" height="1.5"/>
<rect x="494.42" y="36.92" width="1.5" height="1.5"/>
<rect x="496.71" y="41.9" width="1.5" height="1.5"/>
<rect x="496.97" y="37.68" width="1.5" height="1.5"/>
<rect x="495.77" y="61.97" width="1.5" height="1.5"/>
<rect x="477.89" y="43.95" width="1.5" height="1.5"/>
<rect x="491.74" y="42.13" width="1.5" height="1.5"/>
<rect x="496.48" y="42.02" width="1.5" height="1.5"/>
<rect x="484.62" y="38.83" width="1.5" height="1.5"/>
<rect x="491.79" y="41.05" width="1.5" height="1.5"/>
<rect x="498.05" y="36.91" width="1.5" height="1.5"/>
<rect x="488.3" y="38.03" width="1.5" height="1.5"/>
<rect x="494.42" y="35.05" width="1.5" height="1.5"/>
<rect x="497.86" y="35.1" width="1.5" height="1.5"/>
<rect x="487.44" y="47.57" width="1.5" height="1.5"/>
<rect x="488.19" y="41.1" width="1.5" height="1.5"/>
<rect x="474.68" y="44.83" width="1.5" height="1.5"/>
<rect x="495.83" y="33.95" width="1.5" height="1.5"/>
<rect x="496.49" y="41.14" width="1.5" height="1.5"/>
<rect x="496.81" y="37.48" width="1.5" height="1.5"/>
<rect x="495.4" y="41.1" width="1.5" height="1.5"/>
<rect x="497.36" y="39.7" width="1.5" height="1.5"/>
<rect x="497" y="37.71" width="1.5" height="1.5"/>
<rect x="493.27" y="35.86" width="1.5" height="1.5"/>
<rect x="497.69" y="34.28" width="1.5" height="1.5"/>
<rect x="488.12" y="42.17" width="1.5" height="1.5"/>
<rect x="497.12" y="40.79" width="1.5" height="1.5"/>
<rect x="493.09" y="37.12" width="1.5" height="1.5"/>
<rect x="494.23" y="35.18" width="1.5" height="1.5"/>
<rect x="495.46" y="43.66" width="1.5" height="1.5"/>
<rect x="495.25" y="36.19" width="1.5" height="1.5"/>
<rect x="493.53" y="37.59" width="1.5" height="1.5"/>
<rect x="497.01" y="39.4" width="1.5" height="1.5"/>
<rect x="497.23" y="46.17" width="1.5" height="1.5"/>
<rect x="495.02" y="46.07" width="1.5" height="1.5"/>
<rect x="493.22" y="36.99" width="1.5" height="1.5"/>
<rect x="497.04" y="35.81" width="1.5" height="1.5"/>
<rect x="497.79" y="35.4" width="1.5" height="1.5"/>
<rect x="487.97" y="38.07" width="1.5" height="1.5"/>
<rect x="495.31" y="35.18" width="1.5" height="1.5"/>
<rect x="491.26" y="39.2" width="1.5" height="1.5"/>
<rect x="497.66" y="39.29" width="1.5" height="1.5"/>
<rect x="498.1" y="37.33" width="1.5" height="1.5"/>
<rect x="498.15" y="40.86" width="1.5" height="1.5"/>
<rect x="495.64" y="33.89" width="1.5" height="1.5"/>
<rect x="492.28" y="34.61" width="1.5" height="1.5"/>
<rect x="496.22" y="55.57" width="1.5" height="1.5"/>
<rect x="495.48" y="36.96" width="1.5" height="1.5"/>
<rect x="489.12" y="33.97" width="1.5" height="1.5"/>
<rect x="496.63" y="60.5" width="1.5" height="1.5"/>
<rect x="491.38" y="36.82" width="1.5" height="1.5"/>
<rect x="495.13" y="33.86" width="1.5" height="1.5"/>
<rect x="490.27" y="37.15" width="1.5" height="1.5"/>
<rect x="488.48" y="34.1" width="1.5" height="1.5"/>
<rect x="492.24" y="34.35" width="1.5" height="1.5"/>
</g>
<line x1="410.4" y1="77.2" x2="499" y2="34.6" stroke="#1a1a1a" stroke-width="0.8" stroke-dasharray="1.8,0.5"/>
<rect x="410.4" y="34.6" width="88.6" height="42.6" fill="none" stroke="#000" stroke-width="0.8"/>
<line x1="407.1" y1="34.6" x2="410.4" y2="34.6" stroke="#000" stroke-width="0.8"/>
<text x="404.3" y="36.9" font-size="6.9" text-anchor="end" textLength="4.1" lengthAdjust="spacingAndGlyphs" style="stroke-width:0.16px">0</text>
<line x1="499" y1="77.2" x2="499" y2="80.5" stroke="#000" stroke-width="0.8"/>
<text x="499" y="88.7" font-size="6.9" text-anchor="middle" textLength="4.1" lengthAdjust="spacingAndGlyphs" style="stroke-width:0.16px">0</text>
<line x1="407.1" y1="53.68" x2="410.4" y2="53.68" stroke="#000" stroke-width="0.8"/>
<text x="404.3" y="55.98" font-size="6.9" text-anchor="end" textLength="6.4" lengthAdjust="spacingAndGlyphs" style="stroke-width:0.16px">-4</text>
<line x1="459.4" y1="77.2" x2="459.4" y2="80.5" stroke="#000" stroke-width="0.8"/>
<text x="459.4" y="88.7" font-size="6.9" text-anchor="middle" textLength="6.4" lengthAdjust="spacingAndGlyphs" style="stroke-width:0.16px">-4</text>
<line x1="407.1" y1="72.76" x2="410.4" y2="72.76" stroke="#000" stroke-width="0.8"/>
<text x="404.3" y="75.06" font-size="6.9" text-anchor="end" textLength="6.4" lengthAdjust="spacingAndGlyphs" style="stroke-width:0.16px">-8</text>
<line x1="419.8" y1="77.2" x2="419.8" y2="80.5" stroke="#000" stroke-width="0.8"/>
<text x="419.8" y="88.7" font-size="6.9" text-anchor="middle" textLength="6.4" lengthAdjust="spacingAndGlyphs" style="stroke-width:0.16px">-8</text>
<text x="440.8" y="99" font-size="7.9" textLength="11.34" lengthAdjust="spacingAndGlyphs" style="stroke-width:0.12px">Irr.</text>
<text x="454.62" y="99" font-size="7.9" font-style="italic" textLength="4.67" lengthAdjust="spacingAndGlyphs" style="stroke-width:0.12px">x</text>
<text x="459.27" y="99" font-size="7.9" textLength="3.08" lengthAdjust="spacingAndGlyphs" style="stroke-width:0.12px">(</text>
<text x="462.35" y="99" font-size="7.9" font-style="italic" textLength="3.09" lengthAdjust="spacingAndGlyphs" style="stroke-width:0.12px">t</text>
<text x="465.42" y="99" font-size="7.9" textLength="3.08" lengthAdjust="spacingAndGlyphs" style="stroke-width:0.12px">)</text>
<g transform="translate(390.7,55.9) rotate(-90)">
<text x="-16.8" y="0" font-size="7.9" textLength="11.76" lengthAdjust="spacingAndGlyphs" style="stroke-width:0.12px">Irr.</text>
<text x="-2.46" y="0" font-size="7.9" font-style="italic" textLength="5.4" lengthAdjust="spacingAndGlyphs" style="stroke-width:0.12px">ϕ</text>
<text x="2.91" y="0.7" font-size="6.2" font-style="italic" textLength="3.92" lengthAdjust="spacingAndGlyphs" style="stroke-width:0.12px">n</text>
<text x="6.55" y="0" font-size="7.9" textLength="3.19" lengthAdjust="spacingAndGlyphs" style="stroke-width:0.12px">(</text>
<text x="9.74" y="0" font-size="7.9" font-style="italic" textLength="3.2" lengthAdjust="spacingAndGlyphs" style="stroke-width:0.12px">t</text>
<text x="12.94" y="0" font-size="7.9" textLength="3.19" lengthAdjust="spacingAndGlyphs" style="stroke-width:0.12px">)</text>
</g>
</g>
<g>
<rect x="167.5" y="296.5" width="2.83" height="0.8" fill="#ff7f0e"/>
<rect x="174.59" y="296.3" width="2.83" height="1" fill="#ff7f0e"/>
<rect x="181.68" y="296.3" width="2.83" height="1" fill="#ff7f0e"/>
<rect x="188.76" y="296" width="2.83" height="1.3" fill="#ff7f0e"/>
<rect x="193.01" y="296.7" width="2.83" height="0.6" fill="#555555"/>
<rect x="195.85" y="293.3" width="2.83" height="4" fill="#ff7f0e"/>
<rect x="200.1" y="296.3" width="2.83" height="1" fill="#555555"/>
<rect x="202.94" y="291.3" width="2.83" height="6" fill="#ff7f0e"/>
<rect x="207.19" y="295.3" width="2.83" height="2" fill="#555555"/>
<rect x="210.02" y="290.3" width="2.83" height="7" fill="#ff7f0e"/>
<rect x="214.27" y="291.3" width="2.83" height="6" fill="#555555"/>
<rect x="217.11" y="282.3" width="2.83" height="15" fill="#ff7f0e"/>
<rect x="221.36" y="290.2" width="2.83" height="7.1" fill="#555555"/>
<rect x="224.19" y="281.7" width="2.83" height="15.6" fill="#ff7f0e"/>
<rect x="228.44" y="279.9" width="2.83" height="17.4" fill="#555555"/>
<rect x="231.28" y="273.3" width="2.83" height="24" fill="#ff7f0e"/>
<rect x="235.53" y="267.9" width="2.83" height="29.4" fill="#555555"/>
<rect x="238.37" y="261.7" width="2.83" height="35.6" fill="#ff7f0e"/>
<rect x="242.62" y="245.3" width="2.83" height="52" fill="#555555"/>
<rect x="245.45" y="251.9" width="2.83" height="45.4" fill="#ff7f0e"/>
<rect x="249.7" y="195.5" width="2.83" height="101.8" fill="#555555"/>
<rect x="252.54" y="239.2" width="2.83" height="58.1" fill="#ff7f0e"/>
<rect x="43.5" y="190.4" width="222.2" height="106.9" fill="none" stroke="#000" stroke-width="0.8"/>
<line x1="40" y1="297.3" x2="43.5" y2="297.3" stroke="#000" stroke-width="0.8"/>
<text x="36.5" y="301.2" font-size="10.1" text-anchor="end" textLength="15" lengthAdjust="spacingAndGlyphs">0.0</text>
<line x1="40" y1="264.37" x2="43.5" y2="264.37" stroke="#000" stroke-width="0.8"/>
<text x="36.5" y="268.26" font-size="10.1" text-anchor="end" textLength="15" lengthAdjust="spacingAndGlyphs">0.5</text>
<line x1="40" y1="231.43" x2="43.5" y2="231.43" stroke="#000" stroke-width="0.8"/>
<text x="36.5" y="235.33" font-size="10.1" text-anchor="end" textLength="15" lengthAdjust="spacingAndGlyphs">1.0</text>
<line x1="40" y1="198.5" x2="43.5" y2="198.5" stroke="#000" stroke-width="0.8"/>
<text x="36.5" y="202.4" font-size="10.1" text-anchor="end" textLength="15" lengthAdjust="spacingAndGlyphs">1.5</text>
<line x1="67.12" y1="297.3" x2="67.12" y2="300.8" stroke="#000" stroke-width="0.8"/>
<text x="63.92" y="311.7" font-size="10.1" text-anchor="middle" textLength="7" lengthAdjust="spacingAndGlyphs">−</text>
<text x="71.42" y="311.7" font-size="10.1" text-anchor="middle" textLength="5.6" lengthAdjust="spacingAndGlyphs">8</text>
<line x1="114.36" y1="297.3" x2="114.36" y2="300.8" stroke="#000" stroke-width="0.8"/>
<text x="111.16" y="311.7" font-size="10.1" text-anchor="middle" textLength="7" lengthAdjust="spacingAndGlyphs">−</text>
<text x="118.66" y="311.7" font-size="10.1" text-anchor="middle" textLength="5.6" lengthAdjust="spacingAndGlyphs">6</text>
<line x1="161.6" y1="297.3" x2="161.6" y2="300.8" stroke="#000" stroke-width="0.8"/>
<text x="158.4" y="311.7" font-size="10.1" text-anchor="middle" textLength="7" lengthAdjust="spacingAndGlyphs">−</text>
<text x="165.9" y="311.7" font-size="10.1" text-anchor="middle" textLength="5.6" lengthAdjust="spacingAndGlyphs">4</text>
<line x1="208.84" y1="297.3" x2="208.84" y2="300.8" stroke="#000" stroke-width="0.8"/>
<text x="205.64" y="311.7" font-size="10.1" text-anchor="middle" textLength="7" lengthAdjust="spacingAndGlyphs">−</text>
<text x="213.14" y="311.7" font-size="10.1" text-anchor="middle" textLength="5.6" lengthAdjust="spacingAndGlyphs">2</text>
<line x1="256.08" y1="297.3" x2="256.08" y2="300.8" stroke="#000" stroke-width="0.8"/>
<text x="256.08" y="311.7" font-size="10.1" text-anchor="middle" textLength="6" lengthAdjust="spacingAndGlyphs">0</text>
<text x="43.2" y="184.5" font-size="17.9" textLength="186" lengthAdjust="spacingAndGlyphs">Permutation patterns</text>
<text transform="translate(14.5,244.35) rotate(-90)" font-size="14" text-anchor="middle" textLength="52.6" lengthAdjust="spacingAndGlyphs">Density</text>
<text x="109.3" y="327.8" font-size="14" textLength="19.8" lengthAdjust="spacingAndGlyphs">log</text>
<text x="129" y="330.4" font-size="10" textLength="12" lengthAdjust="spacingAndGlyphs">10</text>
<text x="149.6" y="327.8" font-size="14" font-style="italic" textLength="8.4" lengthAdjust="spacingAndGlyphs">p</text>
<text x="158" y="327.8" font-size="14" textLength="41.7" lengthAdjust="spacingAndGlyphs">-value</text>
<text x="56.6" y="275.15" font-size="9.1" font-style="italic" textLength="5.46" lengthAdjust="spacingAndGlyphs">p</text>
<text x="62.06" y="275.15" font-size="9.1" textLength="46.4" lengthAdjust="spacingAndGlyphs">-value K-S:</text>
<text x="58.6" y="285.45" font-size="9.1" textLength="7.2" lengthAdjust="spacingAndGlyphs">&lt;</text>
<text x="67.1" y="285.45" font-size="9.1" textLength="10.9" lengthAdjust="spacingAndGlyphs">10</text>
<text x="78.6" y="282.85" font-size="7.3" textLength="12.6" lengthAdjust="spacingAndGlyphs" style="stroke-width:0.2px">−23</text>
<rect x="47.7" y="194.8" width="52" height="28.9" rx="2" ry="2" fill="#fff" fill-opacity="0.8" stroke="#cfcfcf" stroke-width="0.8"/>
<rect x="51.3" y="198.9" width="17.7" height="6.2" fill="#555555"/>
<rect x="51.3" y="212.2" width="17.7" height="6.0" fill="#ff7f0e"/>
<text x="76.1" y="205.1" font-size="8.7" font-style="italic" textLength="4.85" lengthAdjust="spacingAndGlyphs" style="stroke-width:0.2px">x</text>
<text x="80.95" y="205.1" font-size="8.7" textLength="3.2" lengthAdjust="spacingAndGlyphs" style="stroke-width:0.2px">(</text>
<text x="84.15" y="205.1" font-size="8.7" font-style="italic" textLength="3.2" lengthAdjust="spacingAndGlyphs" style="stroke-width:0.2px">t</text>
<text x="87.35" y="205.1" font-size="8.7" textLength="3.2" lengthAdjust="spacingAndGlyphs" style="stroke-width:0.2px">)</text>
<text x="75.5" y="217.5" font-size="8.7" font-style="italic" textLength="5.4" lengthAdjust="spacingAndGlyphs" style="stroke-width:0.2px">ϕ</text>
<text x="81" y="218.9" font-size="6.4" font-style="italic" textLength="3.9" lengthAdjust="spacingAndGlyphs" style="stroke-width:0.2px">n</text>
<text x="85.6" y="217.5" font-size="8.7" textLength="3.2" lengthAdjust="spacingAndGlyphs" style="stroke-width:0.2px">(</text>
<text x="88.8" y="217.5" font-size="8.7" font-style="italic" textLength="3.2" lengthAdjust="spacingAndGlyphs" style="stroke-width:0.2px">t</text>
<text x="92" y="217.5" font-size="8.7" textLength="3.2" lengthAdjust="spacingAndGlyphs" style="stroke-width:0.2px">)</text>
</g>
<g>
<rect x="132.4" y="201.1" width="88.6" height="42.6" fill="#fff"/>
<clipPath id="c2"><rect x="132.4" y="201.1" width="88.6" height="42.6"/></clipPath>
<g clip-path="url(#c2)" fill="#d45a0a">
<rect x="219.94" y="203.43" width="1.5" height="1.5"/>
<rect x="211.81" y="207.06" width="1.5" height="1.5"/>
<rect x="212.73" y="224.89" width="1.5" height="1.5"/>
<rect x="215.25" y="204.59" width="1.5" height="1.5"/>
<rect x="197.79" y="201.35" width="1.5" height="1.5"/>
<rect x="215.96" y="204.11" width="1.5" height="1.5"/>
<rect x="212.37" y="205.21" width="1.5" height="1.5"/>
<rect x="215.99" y="201.45" width="1.5" height="1.5"/>
<rect x="218.5" y="201.43" width="1.5" height="1.5"/>
<rect x="208.72" y="212.81" width="1.5" height="1.5"/>
<rect x="216.6" y="205.98" width="1.5" height="1.5"/>
<rect x="219.98" y="207.21" width="1.5" height="1.5"/>
<rect x="220.06" y="219.5" width="1.5" height="1.5"/>
<rect x="218.28" y="205.97" width="1.5" height="1.5"/>
<rect x="219.9" y="200.43" width="1.5" height="1.5"/>
<rect x="217.67" y="201.46" width="1.5" height="1.5"/>
<rect x="215.28" y="203.8" width="1.5" height="1.5"/>
<rect x="219.86" y="202.88" width="1.5" height="1.5"/>
<rect x="212.93" y="205.89" width="1.5" height="1.5"/>
<rect x="213.23" y="211.98" width="1.5" height="1.5"/>
<rect x="215.91" y="213.05" width="1.5" height="1.5"/>
<rect x="220.16" y="204.68" width="1.5" height="1.5"/>
<rect x="203.76" y="205.15" width="1.5" height="1.5"/>
<rect x="218.46" y="204.95" width="1.5" height="1.5"/>
<rect x="207.75" y="202.61" width="1.5" height="1.5"/>
<rect x="196.62" y="209" width="1.5" height="1.5"/>
<rect x="212.74" y="201.87" width="1.5" height="1.5"/>
<rect x="217.19" y="206.41" width="1.5" height="1.5"/>
<rect x="218.26" y="201.77" width="1.5" height="1.5"/>
<rect x="215.16" y="209.6" width="1.5" height="1.5"/>
<rect x="203.81" y="209.21" width="1.5" height="1.5"/>
<rect x="218.07" y="201.94" width="1.5" height="1.5"/>
<rect x="218.94" y="200.88" width="1.5" height="1.5"/>
<rect x="219.42" y="214.21" width="1.5" height="1.5"/>
<rect x="199.74" y="211.35" width="1.5" height="1.5"/>
<rect x="204.02" y="203.34" width="1.5" height="1.5"/>
<rect x="203.63" y="200.84" width="1.5" height="1.5"/>
<rect x="212.33" y="205.06" width="1.5" height="1.5"/>
<rect x="195.36" y="204.68" width="1.5" height="1.5"/>
<rect x="214.11" y="212.49" width="1.5" height="1.5"/>
<rect x="216.99" y="207.29" width="1.5" height="1.5"/>
<rect x="201.89" y="205.93" width="1.5" height="1.5"/>
<rect x="219.16" y="206.34" width="1.5" height="1.5"/>
<rect x="211.15" y="212.35" width="1.5" height="1.5"/>
<rect x="218.86" y="201.77" width="1.5" height="1.5"/>
<rect x="211.49" y="204.86" width="1.5" height="1.5"/>
<rect x="219.81" y="210" width="1.5" height="1.5"/>
<rect x="220.09" y="206.51" width="1.5" height="1.5"/>
<rect x="213.43" y="221" width="1.5" height="1.5"/>
<rect x="219.5" y="204.32" width="1.5" height="1.5"/>
<rect x="204.77" y="206.56" width="1.5" height="1.5"/>
<rect x="213.23" y="210.45" width="1.5" height="1.5"/>
<rect x="218.54" y="204.38" width="1.5" height="1.5"/>
<rect x="219.12" y="204.34" width="1.5" height="1.5"/>
<rect x="218.4" y="200.35" width="1.5" height="1.5"/>
<rect x="218.53" y="209.92" width="1.5" height="1.5"/>
<rect x="215.57" y="208.31" width="1.5" height="1.5"/>
<rect x="201.02" y="207.37" width="1.5" height="1.5"/>
<rect x="198.85" y="201.24" width="1.5" height="1.5"/>
<rect x="213.04" y="217.8" width="1.5" height="1.5"/>
<rect x="218.23" y="201.52" width="1.5" height="1.5"/>
<rect x="215.79" y="203.26" width="1.5" height="1.5"/>
<rect x="211.92" y="207.73" width="1.5" height="1.5"/>
<rect x="209.63" y="200.7" width="1.5" height="1.5"/>
<rect x="210.03" y="201.19" width="1.5" height="1.5"/>
<rect x="216.21" y="205.07" width="1.5" height="1.5"/>
<rect x="219.38" y="200.94" width="1.5" height="1.5"/>
<rect x="214.3" y="211.8" width="1.5" height="1.5"/>
<rect x="220.21" y="200.7" width="1.5" height="1.5"/>
<rect x="215.73" y="218.84" width="1.5" height="1.5"/>
<rect x="220.12" y="202.17" width="1.5" height="1.5"/>
<rect x="207.12" y="203.1" width="1.5" height="1.5"/>
<rect x="219.58" y="202.54" width="1.5" height="1.5"/>
<rect x="217.92" y="201.92" width="1.5" height="1.5"/>
<rect x="215.52" y="205.87" width="1.5" height="1.5"/>
<rect x="215.03" y="200.82" width="1.5" height="1.5"/>
<rect x="215.44" y="205" width="1.5" height="1.5"/>
<rect x="215.99" y="202.03" width="1.5" height="1.5"/>
<rect x="206.41" y="202.31" width="1.5" height="1.5"/>
<rect x="218.03" y="201.3" width="1.5" height="1.5"/>
<rect x="211.79" y="202.53" width="1.5" height="1.5"/>
<rect x="213.62" y="200.36" width="1.5" height="1.5"/>
<rect x="211.07" y="208.16" width="1.5" height="1.5"/>
<rect x="216.23" y="200.72" width="1.5" height="1.5"/>
<rect x="219.08" y="220.05" width="1.5" height="1.5"/>
<rect x="213.45" y="206.8" width="1.5" height="1.5"/>
<rect x="198.55" y="200.55" width="1.5" height="1.5"/>
<rect x="219.82" y="204.26" width="1.5" height="1.5"/>
<rect x="219.74" y="203.93" width="1.5" height="1.5"/>
<rect x="204.67" y="201.93" width="1.5" height="1.5"/>
<rect x="216.61" y="208.19" width="1.5" height="1.5"/>
<rect x="219.85" y="203.59" width="1.5" height="1.5"/>
<rect x="217.45" y="205.96" width="1.5" height="1.5"/>
<rect x="204.19" y="205.47" width="1.5" height="1.5"/>
<rect x="213.8" y="209.28" width="1.5" height="1.5"/>
<rect x="217.33" y="217.74" width="1.5" height="1.5"/>
<rect x="220.14" y="206.15" width="1.5" height="1.5"/>
<rect x="215.87" y="202.21" width="1.5" height="1.5"/>
<rect x="211.14" y="202.04" width="1.5" height="1.5"/>
<rect x="217.52" y="202.58" width="1.5" height="1.5"/>
<rect x="215.21" y="203.08" width="1.5" height="1.5"/>
<rect x="211.53" y="203.39" width="1.5" height="1.5"/>
<rect x="219.61" y="207.04" width="1.5" height="1.5"/>
<rect x="218.71" y="203.34" width="1.5" height="1.5"/>
<rect x="219.85" y="208.01" width="1.5" height="1.5"/>
<rect x="211.87" y="201.64" width="1.5" height="1.5"/>
<rect x="209.22" y="203.78" width="1.5" height="1.5"/>
<rect x="215.62" y="203.71" width="1.5" height="1.5"/>
<rect x="212.21" y="200.59" width="1.5" height="1.5"/>
<rect x="216.32" y="207.98" width="1.5" height="1.5"/>
<rect x="196.14" y="205.62" width="1.5" height="1.5"/>
<rect x="218.38" y="206.58" width="1.5" height="1.5"/>
<rect x="219.22" y="222.38" width="1.5" height="1.5"/>
<rect x="210.19" y="207.71" width="1.5" height="1.5"/>
<rect x="213.62" y="201.14" width="1.5" height="1.5"/>
<rect x="211.8" y="202.91" width="1.5" height="1.5"/>
<rect x="218.6" y="208.23" width="1.5" height="1.5"/>
<rect x="215.05" y="207.05" width="1.5" height="1.5"/>
<rect x="213.05" y="219.34" width="1.5" height="1.5"/>
<rect x="192.24" y="210.61" width="1.5" height="1.5"/>
<rect x="218.13" y="200.64" width="1.5" height="1.5"/>
<rect x="218.03" y="204.39" width="1.5" height="1.5"/>
<rect x="220.16" y="222.44" width="1.5" height="1.5"/>
<rect x="215.93" y="201.67" width="1.5" height="1.5"/>
<rect x="197.51" y="202.21" width="1.5" height="1.5"/>
<rect x="212.82" y="204.71" width="1.5" height="1.5"/>
<rect x="218.51" y="205.53" width="1.5" height="1.5"/>
<rect x="218.16" y="207.62" width="1.5" height="1.5"/>
<rect x="215.49" y="211.93" width="1.5" height="1.5"/>
<rect x="214.75" y="203.63" width="1.5" height="1.5"/>
<rect x="212.74" y="205.9" width="1.5" height="1.5"/>
<rect x="219.9" y="203.48" width="1.5" height="1.5"/>
<rect x="212.85" y="206.82" width="1.5" height="1.5"/>
<rect x="210.13" y="201.85" width="1.5" height="1.5"/>
<rect x="212.25" y="206.3" width="1.5" height="1.5"/>
<rect x="213.09" y="207.03" width="1.5" height="1.5"/>
<rect x="208.89" y="211.1" width="1.5" height="1.5"/>
<rect x="211.97" y="209.04" width="1.5" height="1.5"/>
<rect x="215.28" y="226.82" width="1.5" height="1.5"/>
<rect x="212.99" y="201.45" width="1.5" height="1.5"/>
<rect x="215.92" y="208.64" width="1.5" height="1.5"/>
<rect x="215.27" y="202.6" width="1.5" height="1.5"/>
<rect x="209" y="201.25" width="1.5" height="1.5"/>
<rect x="219.92" y="201.72" width="1.5" height="1.5"/>
<rect x="211.24" y="201.67" width="1.5" height="1.5"/>
<rect x="217" y="209.94" width="1.5" height="1.5"/>
<rect x="185.74" y="201.69" width="1.5" height="1.5"/>
<rect x="219.2" y="203.33" width="1.5" height="1.5"/>
<rect x="220.18" y="203.95" width="1.5" height="1.5"/>
<rect x="212.97" y="203.24" width="1.5" height="1.5"/>
<rect x="219.25" y="210.99" width="1.5" height="1.5"/>
<rect x="217.37" y="202.95" width="1.5" height="1.5"/>
<rect x="216.26" y="200.51" width="1.5" height="1.5"/>
<rect x="214.11" y="208.66" width="1.5" height="1.5"/>
<rect x="219.49" y="200.91" width="1.5" height="1.5"/>
<rect x="219.6" y="200.79" width="1.5" height="1.5"/>
<rect x="203.82" y="210.92" width="1.5" height="1.5"/>
<rect x="218.1" y="204.28" width="1.5" height="1.5"/>
<rect x="209.67" y="201.18" width="1.5" height="1.5"/>
<rect x="210.91" y="211.39" width="1.5" height="1.5"/>
<rect x="218.52" y="218.34" width="1.5" height="1.5"/>
<rect x="205.32" y="207.4" width="1.5" height="1.5"/>
<rect x="216.8" y="207.99" width="1.5" height="1.5"/>
<rect x="213.56" y="202.12" width="1.5" height="1.5"/>
<rect x="218.03" y="206.85" width="1.5" height="1.5"/>
<rect x="216.97" y="205.98" width="1.5" height="1.5"/>
<rect x="218.66" y="205.49" width="1.5" height="1.5"/>
<rect x="211.43" y="205.74" width="1.5" height="1.5"/>
<rect x="212.95" y="201.86" width="1.5" height="1.5"/>
<rect x="215.47" y="223" width="1.5" height="1.5"/>
<rect x="211.43" y="202.76" width="1.5" height="1.5"/>
<rect x="200.2" y="200.67" width="1.5" height="1.5"/>
<rect x="218.94" y="203.3" width="1.5" height="1.5"/>
<rect x="208.53" y="205.57" width="1.5" height="1.5"/>
<rect x="219.94" y="202.88" width="1.5" height="1.5"/>
<rect x="215" y="201.58" width="1.5" height="1.5"/>
<rect x="213.69" y="207.53" width="1.5" height="1.5"/>
<rect x="219.85" y="211.4" width="1.5" height="1.5"/>
<rect x="215.28" y="204.36" width="1.5" height="1.5"/>
<rect x="207.95" y="209.78" width="1.5" height="1.5"/>
<rect x="216.4" y="209.01" width="1.5" height="1.5"/>
<rect x="218.77" y="203.5" width="1.5" height="1.5"/>
<rect x="211.72" y="202.2" width="1.5" height="1.5"/>
<rect x="214.09" y="205.68" width="1.5" height="1.5"/>
<rect x="217.77" y="201.71" width="1.5" height="1.5"/>
<rect x="193.39" y="200.68" width="1.5" height="1.5"/>
<rect x="204.6" y="204.09" width="1.5" height="1.5"/>
<rect x="218.41" y="203.78" width="1.5" height="1.5"/>
<rect x="217.59" y="205.83" width="1.5" height="1.5"/>
<rect x="214.97" y="202.58" width="1.5" height="1.5"/>
<rect x="219.74" y="206.19" width="1.5" height="1.5"/>
<rect x="218.93" y="210.52" width="1.5" height="1.5"/>
<rect x="218.14" y="204.7" width="1.5" height="1.5"/>
<rect x="218.33" y="204.64" width="1.5" height="1.5"/>
<rect x="208.91" y="200.49" width="1.5" height="1.5"/>
<rect x="190.17" y="201.99" width="1.5" height="1.5"/>
<rect x="217.43" y="202.11" width="1.5" height="1.5"/>
<rect x="218.81" y="201.72" width="1.5" height="1.5"/>
<rect x="206.95" y="201.17" width="1.5" height="1.5"/>
<rect x="210.71" y="201.08" width="1.5" height="1.5"/>
<rect x="214.34" y="202.54" width="1.5" height="1.5"/>
<rect x="215.32" y="205.34" width="1.5" height="1.5"/>
<rect x="219.17" y="203.71" width="1.5" height="1.5"/>
<rect x="218.04" y="200.64" width="1.5" height="1.5"/>
<rect x="217.86" y="201.03" width="1.5" height="1.5"/>
<rect x="212.84" y="208.41" width="1.5" height="1.5"/>
<rect x="220.23" y="201.02" width="1.5" height="1.5"/>
<rect x="212.01" y="200.54" width="1.5" height="1.5"/>
<rect x="217.63" y="220.29" width="1.5" height="1.5"/>
<rect x="207" y="203.33" width="1.5" height="1.5"/>
<rect x="206.97" y="205.23" width="1.5" height="1.5"/>
<rect x="212.5" y="216.82" width="1.5" height="1.5"/>
<rect x="194.37" y="203.34" width="1.5" height="1.5"/>
<rect x="214.51" y="202.8" width="1.5" height="1.5"/>
<rect x="210.8" y="204.27" width="1.5" height="1.5"/>
<rect x="217.57" y="204.78" width="1.5" height="1.5"/>
<rect x="207.14" y="212.66" width="1.5" height="1.5"/>
<rect x="214.61" y="201.45" width="1.5" height="1.5"/>
<rect x="217.43" y="202.35" width="1.5" height="1.5"/>
<rect x="220.2" y="200.78" width="1.5" height="1.5"/>
<rect x="219.3" y="210.32" width="1.5" height="1.5"/>
<rect x="218.02" y="200.96" width="1.5" height="1.5"/>
<rect x="218.61" y="200.52" width="1.5" height="1.5"/>
<rect x="209.36" y="203.63" width="1.5" height="1.5"/>
<rect x="213.3" y="202.12" width="1.5" height="1.5"/>
<rect x="218.43" y="202.08" width="1.5" height="1.5"/>
<rect x="219.47" y="202.35" width="1.5" height="1.5"/>
<rect x="194.65" y="206.44" width="1.5" height="1.5"/>
<rect x="219.71" y="218.76" width="1.5" height="1.5"/>
<rect x="218.25" y="205.54" width="1.5" height="1.5"/>
<rect x="203.82" y="201.58" width="1.5" height="1.5"/>
<rect x="197.64" y="206.8" width="1.5" height="1.5"/>
<rect x="219.46" y="202.3" width="1.5" height="1.5"/>
<rect x="218.59" y="201.04" width="1.5" height="1.5"/>
<rect x="219.94" y="206.93" width="1.5" height="1.5"/>
<rect x="219.3" y="201.44" width="1.5" height="1.5"/>
<rect x="218.64" y="203.6" width="1.5" height="1.5"/>
<rect x="216.89" y="201.3" width="1.5" height="1.5"/>
<rect x="215" y="203.77" width="1.5" height="1.5"/>
<rect x="220.09" y="205.49" width="1.5" height="1.5"/>
<rect x="216.42" y="208.71" width="1.5" height="1.5"/>
<rect x="215.18" y="202.8" width="1.5" height="1.5"/>
<rect x="217.52" y="203.84" width="1.5" height="1.5"/>
<rect x="214.38" y="211.69" width="1.5" height="1.5"/>
<rect x="219.8" y="206.99" width="1.5" height="1.5"/>
<rect x="218.58" y="202.84" width="1.5" height="1.5"/>
<rect x="214.39" y="219.77" width="1.5" height="1.5"/>
<rect x="219.48" y="209.99" width="1.5" height="1.5"/>
<rect x="219.84" y="205.13" width="1.5" height="1.5"/>
<rect x="217.02" y="201.38" width="1.5" height="1.5"/>
<rect x="218.68" y="208.72" width="1.5" height="1.5"/>
<rect x="216.24" y="202.12" width="1.5" height="1.5"/>
<rect x="216.75" y="209.09" width="1.5" height="1.5"/>
<rect x="214.05" y="200.84" width="1.5" height="1.5"/>
<rect x="215" y="203.19" width="1.5" height="1.5"/>
<rect x="214.47" y="202.83" width="1.5" height="1.5"/>
<rect x="216.32" y="203.85" width="1.5" height="1.5"/>
<rect x="215.02" y="202.65" width="1.5" height="1.5"/>
<rect x="217.59" y="203.05" width="1.5" height="1.5"/>
<rect x="198.73" y="213.16" width="1.5" height="1.5"/>
<rect x="213.11" y="220.25" width="1.5" height="1.5"/>
<rect x="220.18" y="202.41" width="1.5" height="1.5"/>
<rect x="218.45" y="202.2" width="1.5" height="1.5"/>
<rect x="213.88" y="208.29" width="1.5" height="1.5"/>
<rect x="215.7" y="204.01" width="1.5" height="1.5"/>
<rect x="213.62" y="200.94" width="1.5" height="1.5"/>
<rect x="212.9" y="212.73" width="1.5" height="1.5"/>
<rect x="209.89" y="202.19" width="1.5" height="1.5"/>
<rect x="205.39" y="200.95" width="1.5" height="1.5"/>
<rect x="218.26" y="212.99" width="1.5" height="1.5"/>
<rect x="217.66" y="209.77" width="1.5" height="1.5"/>
<rect x="213.38" y="211.56" width="1.5" height="1.5"/>
<rect x="217.12" y="203.02" width="1.5" height="1.5"/>
<rect x="212.87" y="202.06" width="1.5" height="1.5"/>
<rect x="216.28" y="203.73" width="1.5" height="1.5"/>
<rect x="204.91" y="204.71" width="1.5" height="1.5"/>
<rect x="216.71" y="210.61" width="1.5" height="1.5"/>
<rect x="206.6" y="216.16" width="1.5" height="1.5"/>
<rect x="215.14" y="201.55" width="1.5" height="1.5"/>
<rect x="214.45" y="203.85" width="1.5" height="1.5"/>
<rect x="217.98" y="201.13" width="1.5" height="1.5"/>
<rect x="200.6" y="218.84" width="1.5" height="1.5"/>
<rect x="205.82" y="208.12" width="1.5" height="1.5"/>
<rect x="214.45" y="205.33" width="1.5" height="1.5"/>
<rect x="206.85" y="200.69" width="1.5" height="1.5"/>
<rect x="219.29" y="218.94" width="1.5" height="1.5"/>
<rect x="216.62" y="226.22" width="1.5" height="1.5"/>
<rect x="219.54" y="212.17" width="1.5" height="1.5"/>
<rect x="214.37" y="200.39" width="1.5" height="1.5"/>
<rect x="215.28" y="203.4" width="1.5" height="1.5"/>
<rect x="202.97" y="213.43" width="1.5" height="1.5"/>
<rect x="217.69" y="200.47" width="1.5" height="1.5"/>
<rect x="210.14" y="202.32" width="1.5" height="1.5"/>
<rect x="211.85" y="200.53" width="1.5" height="1.5"/>
<rect x="208.53" y="201.64" width="1.5" height="1.5"/>
<rect x="217.63" y="205.08" width="1.5" height="1.5"/>
<rect x="217.3" y="200.58" width="1.5" height="1.5"/>
<rect x="213.18" y="216.91" width="1.5" height="1.5"/>
<rect x="214.67" y="213.65" width="1.5" height="1.5"/>
<rect x="218.11" y="204.22" width="1.5" height="1.5"/>
<rect x="219.66" y="204.07" width="1.5" height="1.5"/>
<rect x="219.87" y="203.73" width="1.5" height="1.5"/>
<rect x="205.5" y="200.91" width="1.5" height="1.5"/>
<rect x="208.37" y="206.86" width="1.5" height="1.5"/>
<rect x="217.33" y="215.38" width="1.5" height="1.5"/>
<rect x="218.89" y="216.08" width="1.5" height="1.5"/>
<rect x="217.38" y="205.31" width="1.5" height="1.5"/>
<rect x="218.94" y="200.89" width="1.5" height="1.5"/>
<rect x="216.99" y="213.03" width="1.5" height="1.5"/>
<rect x="210.49" y="210.22" width="1.5" height="1.5"/>
<rect x="217.71" y="205.49" width="1.5" height="1.5"/>
<rect x="219.46" y="211.55" width="1.5" height="1.5"/>
<rect x="216.13" y="204.22" width="1.5" height="1.5"/>
<rect x="216.36" y="201.06" width="1.5" height="1.5"/>
<rect x="211.35" y="200.55" width="1.5" height="1.5"/>
<rect x="217.99" y="204.13" width="1.5" height="1.5"/>
<rect x="215.22" y="201.08" width="1.5" height="1.5"/>
<rect x="214.39" y="205.39" width="1.5" height="1.5"/>
<rect x="219.44" y="200.85" width="1.5" height="1.5"/>
<rect x="219.36" y="205.87" width="1.5" height="1.5"/>
<rect x="199.42" y="200.35" width="1.5" height="1.5"/>
<rect x="211.13" y="219.74" width="1.5" height="1.5"/>
<rect x="197.63" y="203.49" width="1.5" height="1.5"/>
<rect x="208.2" y="200.4" width="1.5" height="1.5"/>
<rect x="218.94" y="203.06" width="1.5" height="1.5"/>
<rect x="219.12" y="200.6" width="1.5" height="1.5"/>
<rect x="206.23" y="202.83" width="1.5" height="1.5"/>
<rect x="215.58" y="208.63" width="1.5" height="1.5"/>
<rect x="216" y="215.22" width="1.5" height="1.5"/>
<rect x="218.31" y="202.51" width="1.5" height="1.5"/>
<rect x="218.99" y="200.83" width="1.5" height="1.5"/>
<rect x="212.22" y="200.46" width="1.5" height="1.5"/>
<rect x="209.35" y="203" width="1.5" height="1.5"/>
<rect x="219.36" y="203.15" width="1.5" height="1.5"/>
<rect x="215.13" y="207.58" width="1.5" height="1.5"/>
<rect x="204.84" y="206.68" width="1.5" height="1.5"/>
<rect x="207.91" y="201.67" width="1.5" height="1.5"/>
<rect x="214.54" y="202.39" width="1.5" height="1.5"/>
<rect x="213.17" y="201.56" width="1.5" height="1.5"/>
<rect x="214.58" y="208.11" width="1.5" height="1.5"/>
<rect x="215.53" y="204.29" width="1.5" height="1.5"/>
<rect x="209.58" y="201.24" width="1.5" height="1.5"/>
<rect x="218.58" y="201.07" width="1.5" height="1.5"/>
<rect x="218.8" y="206.53" width="1.5" height="1.5"/>
<rect x="217.03" y="213.5" width="1.5" height="1.5"/>
<rect x="213.29" y="204.09" width="1.5" height="1.5"/>
<rect x="217.21" y="207.5" width="1.5" height="1.5"/>
<rect x="219.1" y="200.46" width="1.5" height="1.5"/>
<rect x="210.46" y="200.88" width="1.5" height="1.5"/>
<rect x="216.79" y="203.58" width="1.5" height="1.5"/>
<rect x="215.76" y="207.17" width="1.5" height="1.5"/>
<rect x="219.5" y="201.09" width="1.5" height="1.5"/>
<rect x="216.54" y="213.15" width="1.5" height="1.5"/>
<rect x="217.67" y="202.66" width="1.5" height="1.5"/>
<rect x="219.57" y="203.27" width="1.5" height="1.5"/>
<rect x="213.63" y="209.56" width="1.5" height="1.5"/>
<rect x="193.74" y="204.72" width="1.5" height="1.5"/>
<rect x="218.13" y="202.78" width="1.5" height="1.5"/>
<rect x="219.53" y="204.74" width="1.5" height="1.5"/>
<rect x="207.8" y="205.34" width="1.5" height="1.5"/>
<rect x="219.17" y="200.65" width="1.5" height="1.5"/>
<rect x="216.68" y="200.56" width="1.5" height="1.5"/>
<rect x="218.07" y="200.43" width="1.5" height="1.5"/>
<rect x="219.59" y="203.17" width="1.5" height="1.5"/>
<rect x="219.53" y="226.6" width="1.5" height="1.5"/>
<rect x="217.24" y="204.57" width="1.5" height="1.5"/>
<rect x="216.98" y="222.67" width="1.5" height="1.5"/>
<rect x="219.96" y="205.15" width="1.5" height="1.5"/>
<rect x="205.97" y="211.28" width="1.5" height="1.5"/>
<rect x="212.61" y="215.51" width="1.5" height="1.5"/>
<rect x="214.46" y="200.77" width="1.5" height="1.5"/>
<rect x="215.3" y="210.94" width="1.5" height="1.5"/>
<rect x="216.78" y="202.47" width="1.5" height="1.5"/>
<rect x="209.6" y="202.58" width="1.5" height="1.5"/>
<rect x="218.33" y="201.9" width="1.5" height="1.5"/>
<rect x="211.28" y="202.17" width="1.5" height="1.5"/>
<rect x="208.72" y="201.87" width="1.5" height="1.5"/>
<rect x="211.76" y="201.05" width="1.5" height="1.5"/>
<rect x="216.15" y="200.53" width="1.5" height="1.5"/>
<rect x="218.58" y="207.94" width="1.5" height="1.5"/>
<rect x="198.82" y="207.47" width="1.5" height="1.5"/>
<rect x="217.71" y="200.96" width="1.5" height="1.5"/>
<rect x="219.64" y="212.59" width="1.5" height="1.5"/>
<rect x="218" y="214.25" width="1.5" height="1.5"/>
<rect x="194.23" y="201.24" width="1.5" height="1.5"/>
<rect x="219.91" y="214.05" width="1.5" height="1.5"/>
<rect x="215.71" y="207.19" width="1.5" height="1.5"/>
<rect x="219.62" y="202.59" width="1.5" height="1.5"/>
<rect x="212.28" y="215.3" width="1.5" height="1.5"/>
<rect x="218.77" y="202.24" width="1.5" height="1.5"/>
<rect x="214.46" y="202.7" width="1.5" height="1.5"/>
<rect x="216.87" y="213.33" width="1.5" height="1.5"/>
<rect x="215.8" y="202.9" width="1.5" height="1.5"/>
<rect x="216" y="200.87" width="1.5" height="1.5"/>
<rect x="198.82" y="201.19" width="1.5" height="1.5"/>
<rect x="210.45" y="200.72" width="1.5" height="1.5"/>
<rect x="220.2" y="208.1" width="1.5" height="1.5"/>
<rect x="214" y="203.05" width="1.5" height="1.5"/>
<rect x="218.91" y="227.12" width="1.5" height="1.5"/>
<rect x="217.75" y="207.75" width="1.5" height="1.5"/>
<rect x="217.85" y="210.03" width="1.5" height="1.5"/>
<rect x="219.87" y="201.45" width="1.5" height="1.5"/>
<rect x="202.31" y="208.32" width="1.5" height="1.5"/>
<rect x="213.58" y="203.98" width="1.5" height="1.5"/>
<rect x="219.7" y="206.15" width="1.5" height="1.5"/>
<rect x="217.5" y="203.05" width="1.5" height="1.5"/>
<rect x="219.06" y="208.21" width="1.5" height="1.5"/>
<rect x="219.46" y="203.08" width="1.5" height="1.5"/>
<rect x="213.64" y="202.14" width="1.5" height="1.5"/>
<rect x="213.03" y="212.59" width="1.5" height="1.5"/>
<rect x="212.72" y="216.71" width="1.5" height="1.5"/>
<rect x="217.16" y="211.26" width="1.5" height="1.5"/>
<rect x="207.49" y="200.87" width="1.5" height="1.5"/>
<rect x="214.61" y="204.64" width="1.5" height="1.5"/>
<rect x="200.78" y="206.19" width="1.5" height="1.5"/>
<rect x="211.76" y="202.01" width="1.5" height="1.5"/>
<rect x="210.62" y="214.24" width="1.5" height="1.5"/>
<rect x="207.26" y="215.61" width="1.5" height="1.5"/>
<rect x="215.11" y="207.36" width="1.5" height="1.5"/>
<rect x="199.38" y="200.95" width="1.5" height="1.5"/>
<rect x="216.54" y="210.52" width="1.5" height="1.5"/>
<rect x="217.33" y="201.98" width="1.5" height="1.5"/>
<rect x="208.98" y="203.44" width="1.5" height="1.5"/>
<rect x="208.34" y="205.83" width="1.5" height="1.5"/>
<rect x="216.68" y="205.16" width="1.5" height="1.5"/>
<rect x="213.18" y="218.35" width="1.5" height="1.5"/>
<rect x="219.74" y="200.5" width="1.5" height="1.5"/>
<rect x="219.4" y="200.81" width="1.5" height="1.5"/>
<rect x="217.55" y="202.65" width="1.5" height="1.5"/>
<rect x="215.21" y="200.81" width="1.5" height="1.5"/>
<rect x="204.68" y="203.58" width="1.5" height="1.5"/>
<rect x="211.74" y="206.82" width="1.5" height="1.5"/>
<rect x="219.73" y="217.05" width="1.5" height="1.5"/>
<rect x="216.09" y="211.79" width="1.5" height="1.5"/>
<rect x="217.62" y="218" width="1.5" height="1.5"/>
<rect x="220" y="209.52" width="1.5" height="1.5"/>
<rect x="219.75" y="201.6" width="1.5" height="1.5"/>
<rect x="215.47" y="201.49" width="1.5" height="1.5"/>
<rect x="212.14" y="202.83" width="1.5" height="1.5"/>
<rect x="218.24" y="207.53" width="1.5" height="1.5"/>
<rect x="220.02" y="200.43" width="1.5" height="1.5"/>
<rect x="218.44" y="204.32" width="1.5" height="1.5"/>
<rect x="193.55" y="205.42" width="1.5" height="1.5"/>
<rect x="215.65" y="201.8" width="1.5" height="1.5"/>
<rect x="218.79" y="205.62" width="1.5" height="1.5"/>
<rect x="215.25" y="202.45" width="1.5" height="1.5"/>
<rect x="220.14" y="202.98" width="1.5" height="1.5"/>
<rect x="206.27" y="202.88" width="1.5" height="1.5"/>
<rect x="200.17" y="214.88" width="1.5" height="1.5"/>
<rect x="217.43" y="202.58" width="1.5" height="1.5"/>
<rect x="218.21" y="205.48" width="1.5" height="1.5"/>
<rect x="208.95" y="202.19" width="1.5" height="1.5"/>
<rect x="216.01" y="207.59" width="1.5" height="1.5"/>
<rect x="219.44" y="200.85" width="1.5" height="1.5"/>
<rect x="217.33" y="208.65" width="1.5" height="1.5"/>
<rect x="218.13" y="200.46" width="1.5" height="1.5"/>
<rect x="220.01" y="201.56" width="1.5" height="1.5"/>
<rect x="213.51" y="208.12" width="1.5" height="1.5"/>
<rect x="219.4" y="200.42" width="1.5" height="1.5"/>
<rect x="208.75" y="208.76" width="1.5" height="1.5"/>
<rect x="213.4" y="216.11" width="1.5" height="1.5"/>
<rect x="209.27" y="202.29" width="1.5" height="1.5"/>
<rect x="217.77" y="202.15" width="1.5" height="1.5"/>
<rect x="215.48" y="201.2" width="1.5" height="1.5"/>
<rect x="209.25" y="201.64" width="1.5" height="1.5"/>
<rect x="218.1" y="204.08" width="1.5" height="1.5"/>
</g>
<line x1="132.4" y1="243.7" x2="221" y2="201.1" stroke="#1a1a1a" stroke-width="0.8" stroke-dasharray="1.8,0.5"/>
<rect x="132.4" y="201.1" width="88.6" height="42.6" fill="none" stroke="#000" stroke-width="0.8"/>
<line x1="129.1" y1="201.1" x2="132.4" y2="201.1" stroke="#000" stroke-width="0.8"/>
<text x="126.3" y="203.4" font-size="6.9" text-anchor="end" textLength="4.1" lengthAdjust="spacingAndGlyphs" style="stroke-width:0.16px">0</text>
<line x1="221" y1="243.7" x2="221" y2="247" stroke="#000" stroke-width="0.8"/>
<text x="221" y="255.2" font-size="6.9" text-anchor="middle" textLength="4.1" lengthAdjust="spacingAndGlyphs" style="stroke-width:0.16px">0</text>
<line x1="129.1" y1="220.18" x2="132.4" y2="220.18" stroke="#000" stroke-width="0.8"/>
<text x="126.3" y="222.48" font-size="6.9" text-anchor="end" textLength="6.4" lengthAdjust="spacingAndGlyphs" style="stroke-width:0.16px">-4</text>
<line x1="181.4" y1="243.7" x2="181.4" y2="247" stroke="#000" stroke-width="0.8"/>
<text x="181.4" y="255.2" font-size="6.9" text-anchor="middle" textLength="6.4" lengthAdjust="spacingAndGlyphs" style="stroke-width:0.16px">-4</text>
<line x1="129.1" y1="239.26" x2="132.4" y2="239.26" stroke="#000" stroke-width="0.8"/>
<text x="126.3" y="241.56" font-size="6.9" text-anchor="end" textLength="6.4" lengthAdjust="spacingAndGlyphs" style="stroke-width:0.16px">-8</text>
<line x1="141.8" y1="243.7" x2="141.8" y2="247" stroke="#000" stroke-width="0.8"/>
<text x="141.8" y="255.2" font-size="6.9" text-anchor="middle" textLength="6.4" lengthAdjust="spacingAndGlyphs" style="stroke-width:0.16px">-8</text>
<text x="162.8" y="265.5" font-size="7.9" textLength="11.34" lengthAdjust="spacingAndGlyphs" style="stroke-width:0.12px">Irr.</text>
<text x="176.62" y="265.5" font-size="7.9" font-style="italic" textLength="4.67" lengthAdjust="spacingAndGlyphs" style="stroke-width:0.12px">x</text>
<text x="181.27" y="265.5" font-size="7.9" textLength="3.08" lengthAdjust="spacingAndGlyphs" style="stroke-width:0.12px">(</text>
<text x="184.35" y="265.5" font-size="7.9" font-style="italic" textLength="3.09" lengthAdjust="spacingAndGlyphs" style="stroke-width:0.12px">t</text>
<text x="187.42" y="265.5" font-size="7.9" textLength="3.08" lengthAdjust="spacingAndGlyphs" style="stroke-width:0.12px">)</text>
<g transform="translate(112.7,222.4) rotate(-90)">
<text x="-16.8" y="0" font-size="7.9" textLength="11.76" lengthAdjust="spacingAndGlyphs" style="stroke-width:0.12px">Irr.</text>
<text x="-2.46" y="0" font-size="7.9" font-style="italic" textLength="5.4" lengthAdjust="spacingAndGlyphs" style="stroke-width:0.12px">ϕ</text>
<text x="2.91" y="0.7" font-size="6.2" font-style="italic" textLength="3.92" lengthAdjust="spacingAndGlyphs" style="stroke-width:0.12px">n</text>
<text x="6.55" y="0" font-size="7.9" textLength="3.19" lengthAdjust="spacingAndGlyphs" style="stroke-width:0.12px">(</text>
<text x="9.74" y="0" font-size="7.9" font-style="italic" textLength="3.2" lengthAdjust="spacingAndGlyphs" style="stroke-width:0.12px">t</text>
<text x="12.94" y="0" font-size="7.9" textLength="3.19" lengthAdjust="spacingAndGlyphs" style="stroke-width:0.12px">)</text>
</g>
</g>
<g>
<rect x="443.73" y="296.9" width="4.25" height="0.4" fill="#ff7f0e"/>
<rect x="454.36" y="296.1" width="4.25" height="1.2" fill="#ff7f0e"/>
<rect x="464.99" y="296.1" width="4.25" height="1.2" fill="#ff7f0e"/>
<rect x="471.37" y="295.3" width="4.25" height="2" fill="#555555"/>
<rect x="475.62" y="294.7" width="4.25" height="2.6" fill="#ff7f0e"/>
<rect x="482" y="294.1" width="4.25" height="3.2" fill="#555555"/>
<rect x="486.25" y="292.9" width="4.25" height="4.4" fill="#ff7f0e"/>
<rect x="492.63" y="292.7" width="4.25" height="4.6" fill="#555555"/>
<rect x="496.88" y="291.7" width="4.25" height="5.6" fill="#ff7f0e"/>
<rect x="503.26" y="288.9" width="4.25" height="8.4" fill="#555555"/>
<rect x="507.51" y="282.7" width="4.25" height="14.6" fill="#ff7f0e"/>
<rect x="513.88" y="272.7" width="4.25" height="24.6" fill="#555555"/>
<rect x="518.14" y="272.7" width="4.25" height="24.6" fill="#ff7f0e"/>
<rect x="524.51" y="195.1" width="4.25" height="102.2" fill="#555555"/>
<rect x="528.77" y="206.8" width="4.25" height="90.5" fill="#ff7f0e"/>
<rect x="321.5" y="190.4" width="222.2" height="106.9" fill="none" stroke="#000" stroke-width="0.8"/>
<line x1="318" y1="297.3" x2="321.5" y2="297.3" stroke="#000" stroke-width="0.8"/>
<text x="314.5" y="301.2" font-size="10.1" text-anchor="end" textLength="15" lengthAdjust="spacingAndGlyphs">0.0</text>
<line x1="318" y1="265.95" x2="321.5" y2="265.95" stroke="#000" stroke-width="0.8"/>
<text x="314.5" y="269.85" font-size="10.1" text-anchor="end" textLength="15" lengthAdjust="spacingAndGlyphs">0.5</text>
<line x1="318" y1="234.6" x2="321.5" y2="234.6" stroke="#000" stroke-width="0.8"/>
<text x="314.5" y="238.5" font-size="10.1" text-anchor="end" textLength="15" lengthAdjust="spacingAndGlyphs">1.0</text>
<line x1="318" y1="203.25" x2="321.5" y2="203.25" stroke="#000" stroke-width="0.8"/>
<text x="314.5" y="207.15" font-size="10.1" text-anchor="end" textLength="15" lengthAdjust="spacingAndGlyphs">1.5</text>
<line x1="345.12" y1="297.3" x2="345.12" y2="300.8" stroke="#000" stroke-width="0.8"/>
<text x="341.92" y="311.7" font-size="10.1" text-anchor="middle" textLength="7" lengthAdjust="spacingAndGlyphs">−</text>
<text x="349.42" y="311.7" font-size="10.1" text-anchor="middle" textLength="5.6" lengthAdjust="spacingAndGlyphs">8</text>
<line x1="392.36" y1="297.3" x2="392.36" y2="300.8" stroke="#000" stroke-width="0.8"/>
<text x="389.16" y="311.7" font-size="10.1" text-anchor="middle" textLength="7" lengthAdjust="spacingAndGlyphs">−</text>
<text x="396.66" y="311.7" font-size="10.1" text-anchor="middle" textLength="5.6" lengthAdjust="spacingAndGlyphs">6</text>
<line x1="439.6" y1="297.3" x2="439.6" y2="300.8" stroke="#000" stroke-width="0.8"/>
<text x="436.4" y="311.7" font-size="10.1" text-anchor="middle" textLength="7" lengthAdjust="spacingAndGlyphs">−</text>
<text x="443.9" y="311.7" font-size="10.1" text-anchor="middle" textLength="5.6" lengthAdjust="spacingAndGlyphs">4</text>
<line x1="486.84" y1="297.3" x2="486.84" y2="300.8" stroke="#000" stroke-width="0.8"/>
<text x="483.64" y="311.7" font-size="10.1" text-anchor="middle" textLength="7" lengthAdjust="spacingAndGlyphs">−</text>
<text x="491.14" y="311.7" font-size="10.1" text-anchor="middle" textLength="5.6" lengthAdjust="spacingAndGlyphs">2</text>
<line x1="534.08" y1="297.3" x2="534.08" y2="300.8" stroke="#000" stroke-width="0.8"/>
<text x="534.08" y="311.7" font-size="10.1" text-anchor="middle" textLength="6" lengthAdjust="spacingAndGlyphs">0</text>
<text x="321.2" y="184.5" font-size="17.9" textLength="102.4" lengthAdjust="spacingAndGlyphs">Costa index</text>
<text transform="translate(292.5,244.35) rotate(-90)" font-size="14" text-anchor="middle" textLength="52.6" lengthAdjust="spacingAndGlyphs">Density</text>
<text x="387.3" y="327.8" font-size="14" textLength="19.8" lengthAdjust="spacingAndGlyphs">log</text>
<text x="407" y="330.4" font-size="10" textLength="12" lengthAdjust="spacingAndGlyphs">10</text>
<text x="427.6" y="327.8" font-size="14" font-style="italic" textLength="8.4" lengthAdjust="spacingAndGlyphs">p</text>
<text x="436" y="327.8" font-size="14" textLength="41.7" lengthAdjust="spacingAndGlyphs">-value</text>
<text x="334.6" y="275.15" font-size="9.1" font-style="italic" textLength="5.46" lengthAdjust="spacingAndGlyphs">p</text>
<text x="340.06" y="275.15" font-size="9.1" textLength="46.4" lengthAdjust="spacingAndGlyphs">-value K-S:</text>
<text x="334.2" y="285.65" font-size="9.1" textLength="30.1" lengthAdjust="spacingAndGlyphs">0.0001</text>
<rect x="325.7" y="194.8" width="52" height="28.9" rx="2" ry="2" fill="#fff" fill-opacity="0.8" stroke="#cfcfcf" stroke-width="0.8"/>
<rect x="329.3" y="198.9" width="17.7" height="6.2" fill="#555555"/>
<rect x="329.3" y="212.2" width="17.7" height="6.0" fill="#ff7f0e"/>
<text x="354.1" y="205.1" font-size="8.7" font-style="italic" textLength="4.85" lengthAdjust="spacingAndGlyphs" style="stroke-width:0.2px">x</text>
<text x="358.95" y="205.1" font-size="8.7" textLength="3.2" lengthAdjust="spacingAndGlyphs" style="stroke-width:0.2px">(</text>
<text x="362.15" y="205.1" font-size="8.7" font-style="italic" textLength="3.2" lengthAdjust="spacingAndGlyphs" style="stroke-width:0.2px">t</text>
<text x="365.35" y="205.1" font-size="8.7" textLength="3.2" lengthAdjust="spacingAndGlyphs" style="stroke-width:0.2px">)</text>
<text x="353.5" y="217.5" font-size="8.7" font-style="italic" textLength="5.4" lengthAdjust="spacingAndGlyphs" style="stroke-width:0.2px">ϕ</text>
<text x="359" y="218.9" font-size="6.4" font-style="italic" textLength="3.9" lengthAdjust="spacingAndGlyphs" style="stroke-width:0.2px">n</text>
<text x="363.6" y="217.5" font-size="8.7" textLength="3.2" lengthAdjust="spacingAndGlyphs" style="stroke-width:0.2px">(</text>
<text x="366.8" y="217.5" font-size="8.7" font-style="italic" textLength="3.2" lengthAdjust="spacingAndGlyphs" style="stroke-width:0.2px">t</text>
<text x="370" y="217.5" font-size="8.7" textLength="3.2" lengthAdjust="spacingAndGlyphs" style="stroke-width:0.2px">)</text>
</g>
<g>
<rect x="410.4" y="201.1" width="88.6" height="42.6" fill="#fff"/>
<clipPath id="c3"><rect x="410.4" y="201.1" width="88.6" height="42.6"/></clipPath>
<g clip-path="url(#c3)" fill="#d45a0a">
<rect x="495.13" y="200.76" width="1.5" height="1.5"/>
<rect x="494.17" y="202.21" width="1.5" height="1.5"/>
<rect x="488.1" y="202.16" width="1.5" height="1.5"/>
<rect x="489.19" y="201.56" width="1.5" height="1.5"/>
<rect x="493.43" y="201.38" width="1.5" height="1.5"/>
<rect x="497.49" y="201.76" width="1.5" height="1.5"/>
<rect x="491.59" y="200.62" width="1.5" height="1.5"/>
<rect x="482.41" y="200.84" width="1.5" height="1.5"/>
<rect x="487.21" y="200.7" width="1.5" height="1.5"/>
<rect x="483.69" y="200.58" width="1.5" height="1.5"/>
<rect x="494.89" y="201.68" width="1.5" height="1.5"/>
<rect x="492.28" y="202.62" width="1.5" height="1.5"/>
<rect x="476.94" y="200.37" width="1.5" height="1.5"/>
<rect x="492.14" y="203.68" width="1.5" height="1.5"/>
<rect x="498.08" y="200.56" width="1.5" height="1.5"/>
<rect x="481.31" y="200.9" width="1.5" height="1.5"/>
<rect x="490.16" y="200.35" width="1.5" height="1.5"/>
<rect x="484.04" y="200.52" width="1.5" height="1.5"/>
<rect x="496.43" y="201.54" width="1.5" height="1.5"/>
<rect x="496.53" y="201.47" width="1.5" height="1.5"/>
<rect x="469.59" y="200.51" width="1.5" height="1.5"/>
<rect x="497.28" y="201.1" width="1.5" height="1.5"/>
<rect x="496.41" y="200.39" width="1.5" height="1.5"/>
<rect x="493.72" y="201.47" width="1.5" height="1.5"/>
<rect x="497.06" y="200.63" width="1.5" height="1.5"/>
<rect x="487.05" y="200.66" width="1.5" height="1.5"/>
<rect x="494.62" y="200.46" width="1.5" height="1.5"/>
<rect x="477.72" y="201.73" width="1.5" height="1.5"/>
<rect x="494.41" y="202.96" width="1.5" height="1.5"/>
<rect x="494.95" y="201.75" width="1.5" height="1.5"/>
<rect x="494.42" y="200.95" width="1.5" height="1.5"/>
<rect x="474.54" y="201.2" width="1.5" height="1.5"/>
<rect x="483.47" y="201.26" width="1.5" height="1.5"/>
<rect x="491.52" y="201.24" width="1.5" height="1.5"/>
<rect x="491.89" y="200.4" width="1.5" height="1.5"/>
<rect x="474.68" y="200.43" width="1.5" height="1.5"/>
<rect x="479.25" y="200.44" width="1.5" height="1.5"/>
<rect x="496.75" y="202.68" width="1.5" height="1.5"/>
<rect x="498.09" y="200.76" width="1.5" height="1.5"/>
<rect x="494.44" y="200.92" width="1.5" height="1.5"/>
<rect x="494.28" y="200.8" width="1.5" height="1.5"/>
<rect x="495.68" y="202.22" width="1.5" height="1.5"/>
<rect x="491.01" y="202.39" width="1.5" height="1.5"/>
<rect x="491.7" y="202.77" width="1.5" height="1.5"/>
<rect x="481.95" y="203.79" width="1.5" height="1.5"/>
<rect x="489.39" y="200.61" width="1.5" height="1.5"/>
<rect x="497.42" y="200.58" width="1.5" height="1.5"/>
<rect x="490.02" y="200.54" width="1.5" height="1.5"/>
<rect x="489.16" y="201.54" width="1.5" height="1.5"/>
<rect x="495.33" y="200.63" width="1.5" height="1.5"/>
<rect x="493.5" y="201.03" width="1.5" height="1.5"/>
<rect x="490.05" y="200.92" width="1.5" height="1.5"/>
<rect x="490.04" y="201.62" width="1.5" height="1.5"/>
<rect x="478.83" y="200.92" width="1.5" height="1.5"/>
<rect x="491.11" y="200.48" width="1.5" height="1.5"/>
<rect x="484.88" y="200.75" width="1.5" height="1.5"/>
<rect x="490.38" y="200.48" width="1.5" height="1.5"/>
<rect x="495.48" y="200.81" width="1.5" height="1.5"/>
<rect x="485.68" y="203.78" width="1.5" height="1.5"/>
<rect x="493.96" y="201.26" width="1.5" height="1.5"/>
<rect x="479.79" y="200.85" width="1.5" height="1.5"/>
<rect x="476.43" y="201.32" width="1.5" height="1.5"/>
<rect x="496.89" y="200.37" width="1.5" height="1.5"/>
<rect x="488.64" y="202.04" width="1.5" height="1.5"/>
<rect x="488.4" y="200.37" width="1.5" height="1.5"/>
<rect x="488.66" y="201.48" width="1.5" height="1.5"/>
<rect x="495.87" y="200.79" width="1.5" height="1.5"/>
<rect x="495.05" y="200.36" width="1.5" height="1.5"/>
<rect x="496.46" y="201.2" width="1.5" height="1.5"/>
<rect x="491.54" y="201.61" width="1.5" height="1.5"/>
<rect x="494.22" y="200.39" width="1.5" height="1.5"/>
<rect x="497.62" y="201.66" width="1.5" height="1.5"/>
<rect x="497.67" y="200.54" width="1.5" height="1.5"/>
<rect x="496.13" y="200.57" width="1.5" height="1.5"/>
<rect x="478.77" y="200.96" width="1.5" height="1.5"/>
<rect x="490" y="200.47" width="1.5" height="1.5"/>
<rect x="486.04" y="201.75" width="1.5" height="1.5"/>
<rect x="497.69" y="200.7" width="1.5" height="1.5"/>
<rect x="489.19" y="203.64" width="1.5" height="1.5"/>
<rect x="483.69" y="200.73" width="1.5" height="1.5"/>
<rect x="479.16" y="200.81" width="1.5" height="1.5"/>
<rect x="495.7" y="200.65" width="1.5" height="1.5"/>
<rect x="498.11" y="201.3" width="1.5" height="1.5"/>
<rect x="493.51" y="202.37" width="1.5" height="1.5"/>
<rect x="494.45" y="200.42" width="1.5" height="1.5"/>
<rect x="494.96" y="200.41" width="1.5" height="1.5"/>
<rect x="494.31" y="201.46" width="1.5" height="1.5"/>
<rect x="497.83" y="200.55" width="1.5" height="1.5"/>
<rect x="493.5" y="201.55" width="1.5" height="1.5"/>
<rect x="487.22" y="200.58" width="1.5" height="1.5"/>
<rect x="492.21" y="200.67" width="1.5" height="1.5"/>
<rect x="490.3" y="200.58" width="1.5" height="1.5"/>
<rect x="473.08" y="201.68" width="1.5" height="1.5"/>
<rect x="496.49" y="201.12" width="1.5" height="1.5"/>
<rect x="488.75" y="201.92" width="1.5" height="1.5"/>
<rect x="495.13" y="200.88" width="1.5" height="1.5"/>
<rect x="494.25" y="200.48" width="1.5" height="1.5"/>
<rect x="494.26" y="200.51" width="1.5" height="1.5"/>
<rect x="468.22" y="202.23" width="1.5" height="1.5"/>
<rect x="490.12" y="201.64" width="1.5" height="1.5"/>
<rect x="496.83" y="200.78" width="1.5" height="1.5"/>
<rect x="489.08" y="200.69" width="1.5" height="1.5"/>
<rect x="491.33" y="200.63" width="1.5" height="1.5"/>
<rect x="496.93" y="201.18" width="1.5" height="1.5"/>
<rect x="492.88" y="200.69" width="1.5" height="1.5"/>
<rect x="496.07" y="200.44" width="1.5" height="1.5"/>
<rect x="484.5" y="200.47" width="1.5" height="1.5"/>
<rect x="497.62" y="200.9" width="1.5" height="1.5"/>
<rect x="482.69" y="200.48" width="1.5" height="1.5"/>
<rect x="482.59" y="200.41" width="1.5" height="1.5"/>
<rect x="495.88" y="201.83" width="1.5" height="1.5"/>
<rect x="490.36" y="200.56" width="1.5" height="1.5"/>
<rect x="484.63" y="202.67" width="1.5" height="1.5"/>
<rect x="472.65" y="201.11" width="1.5" height="1.5"/>
<rect x="492.72" y="201.61" width="1.5" height="1.5"/>
<rect x="494.81" y="203.04" width="1.5" height="1.5"/>
<rect x="490.74" y="200.77" width="1.5" height="1.5"/>
<rect x="496.37" y="201.34" width="1.5" height="1.5"/>
<rect x="487.92" y="200.45" width="1.5" height="1.5"/>
<rect x="496.31" y="200.36" width="1.5" height="1.5"/>
<rect x="490.5" y="200.77" width="1.5" height="1.5"/>
<rect x="491.81" y="200.57" width="1.5" height="1.5"/>
<rect x="485.41" y="201.32" width="1.5" height="1.5"/>
<rect x="485.6" y="200.37" width="1.5" height="1.5"/>
<rect x="484.57" y="200.52" width="1.5" height="1.5"/>
<rect x="481.3" y="202.18" width="1.5" height="1.5"/>
<rect x="495.14" y="201.12" width="1.5" height="1.5"/>
<rect x="489.84" y="200.72" width="1.5" height="1.5"/>
<rect x="486.69" y="200.64" width="1.5" height="1.5"/>
<rect x="490.58" y="200.6" width="1.5" height="1.5"/>
<rect x="497.16" y="202.21" width="1.5" height="1.5"/>
<rect x="472.17" y="200.58" width="1.5" height="1.5"/>
<rect x="480.42" y="203.42" width="1.5" height="1.5"/>
<rect x="493.82" y="202.04" width="1.5" height="1.5"/>
<rect x="492.84" y="201.02" width="1.5" height="1.5"/>
<rect x="494.39" y="202.33" width="1.5" height="1.5"/>
<rect x="497.01" y="201.02" width="1.5" height="1.5"/>
<rect x="485.07" y="200.84" width="1.5" height="1.5"/>
<rect x="496.82" y="201.62" width="1.5" height="1.5"/>
<rect x="494.85" y="200.49" width="1.5" height="1.5"/>
<rect x="495.44" y="200.75" width="1.5" height="1.5"/>
<rect x="497.53" y="214.75" width="1.5" height="1.5"/>
<rect x="498.09" y="204.95" width="1.5" height="1.5"/>
<rect x="497.26" y="200.53" width="1.5" height="1.5"/>
<rect x="496.77" y="202.31" width="1.5" height="1.5"/>
<rect x="495.96" y="202.88" width="1.5" height="1.5"/>
<rect x="495.34" y="202.12" width="1.5" height="1.5"/>
<rect x="494.67" y="201.55" width="1.5" height="1.5"/>
<rect x="497.43" y="206.99" width="1.5" height="1.5"/>
<rect x="498.03" y="200.76" width="1.5" height="1.5"/>
<rect x="496.11" y="200.38" width="1.5" height="1.5"/>
<rect x="497.86" y="203.5" width="1.5" height="1.5"/>
<rect x="494.85" y="204.14" width="1.5" height="1.5"/>
<rect x="497.8" y="220.91" width="1.5" height="1.5"/>
<rect x="497.2" y="204.3" width="1.5" height="1.5"/>
<rect x="497.81" y="202.38" width="1.5" height="1.5"/>
<rect x="494.33" y="203.53" width="1.5" height="1.5"/>
<rect x="498" y="204.88" width="1.5" height="1.5"/>
<rect x="496.58" y="206.46" width="1.5" height="1.5"/>
<rect x="496.73" y="200.37" width="1.5" height="1.5"/>
<rect x="497.19" y="200.86" width="1.5" height="1.5"/>
<rect x="493.2" y="206.72" width="1.5" height="1.5"/>
<rect x="495.64" y="205.83" width="1.5" height="1.5"/>
<rect x="497.72" y="211.09" width="1.5" height="1.5"/>
<rect x="497.23" y="203.91" width="1.5" height="1.5"/>
<rect x="495.93" y="200.74" width="1.5" height="1.5"/>
<rect x="496.68" y="200.36" width="1.5" height="1.5"/>
<rect x="494.12" y="201.29" width="1.5" height="1.5"/>
<rect x="492.5" y="200.67" width="1.5" height="1.5"/>
<rect x="497.12" y="200.46" width="1.5" height="1.5"/>
<rect x="491.38" y="200.71" width="1.5" height="1.5"/>
<rect x="488.89" y="212.15" width="1.5" height="1.5"/>
<rect x="494.65" y="203.75" width="1.5" height="1.5"/>
<rect x="496.81" y="203.53" width="1.5" height="1.5"/>
<rect x="489.34" y="208.33" width="1.5" height="1.5"/>
<rect x="498.04" y="206.64" width="1.5" height="1.5"/>
<rect x="495.55" y="203.28" width="1.5" height="1.5"/>
<rect x="491.95" y="203.19" width="1.5" height="1.5"/>
<rect x="498.14" y="214.41" width="1.5" height="1.5"/>
<rect x="496.83" y="206.07" width="1.5" height="1.5"/>
<rect x="496.78" y="202.74" width="1.5" height="1.5"/>
<rect x="497.18" y="212.46" width="1.5" height="1.5"/>
<rect x="497.74" y="204.56" width="1.5" height="1.5"/>
<rect x="495.37" y="201.9" width="1.5" height="1.5"/>
<rect x="497.85" y="202.8" width="1.5" height="1.5"/>
<rect x="498.21" y="202.45" width="1.5" height="1.5"/>
<rect x="497.41" y="201.93" width="1.5" height="1.5"/>
<rect x="487.41" y="207.01" width="1.5" height="1.5"/>
<rect x="494.37" y="206.53" width="1.5" height="1.5"/>
<rect x="495.47" y="205.59" width="1.5" height="1.5"/>
<rect x="495.2" y="205.01" width="1.5" height="1.5"/>
<rect x="489.65" y="203.73" width="1.5" height="1.5"/>
<rect x="495.7" y="201.33" width="1.5" height="1.5"/>
<rect x="494.01" y="200.65" width="1.5" height="1.5"/>
<rect x="497.22" y="205.82" width="1.5" height="1.5"/>
<rect x="493.17" y="221.25" width="1.5" height="1.5"/>
<rect x="496.17" y="204.52" width="1.5" height="1.5"/>
<rect x="497.42" y="202.71" width="1.5" height="1.5"/>
<rect x="496.94" y="204.55" width="1.5" height="1.5"/>
<rect x="493.47" y="200.62" width="1.5" height="1.5"/>
<rect x="498.14" y="201.58" width="1.5" height="1.5"/>
<rect x="493.87" y="201.48" width="1.5" height="1.5"/>
<rect x="497.6" y="203.82" width="1.5" height="1.5"/>
<rect x="489.85" y="207.4" width="1.5" height="1.5"/>
<rect x="491.82" y="205.65" width="1.5" height="1.5"/>
<rect x="496.01" y="202.74" width="1.5" height="1.5"/>
<rect x="497.08" y="201.06" width="1.5" height="1.5"/>
<rect x="498.17" y="203.27" width="1.5" height="1.5"/>
<rect x="492.16" y="200.99" width="1.5" height="1.5"/>
<rect x="493.03" y="200.87" width="1.5" height="1.5"/>
<rect x="494.15" y="203.74" width="1.5" height="1.5"/>
<rect x="492.58" y="212.62" width="1.5" height="1.5"/>
<rect x="496.63" y="200.61" width="1.5" height="1.5"/>
<rect x="496.94" y="202.59" width="1.5" height="1.5"/>
<rect x="495.48" y="204.25" width="1.5" height="1.5"/>
<rect x="490.74" y="201.73" width="1.5" height="1.5"/>
<rect x="494.8" y="203.2" width="1.5" height="1.5"/>
<rect x="496.85" y="204.75" width="1.5" height="1.5"/>
<rect x="497.05" y="203.5" width="1.5" height="1.5"/>
<rect x="496.85" y="200.47" width="1.5" height="1.5"/>
<rect x="495.73" y="202.93" width="1.5" height="1.5"/>
<rect x="495.9" y="205.38" width="1.5" height="1.5"/>
<rect x="495.84" y="206.87" width="1.5" height="1.5"/>
<rect x="495.89" y="201.29" width="1.5" height="1.5"/>
<rect x="497.5" y="203.34" width="1.5" height="1.5"/>
<rect x="486.58" y="205.66" width="1.5" height="1.5"/>
<rect x="496.16" y="202.98" width="1.5" height="1.5"/>
<rect x="495.11" y="208.52" width="1.5" height="1.5"/>
<rect x="495.54" y="201.17" width="1.5" height="1.5"/>
<rect x="483.02" y="205.24" width="1.5" height="1.5"/>
<rect x="497.62" y="201.4" width="1.5" height="1.5"/>
<rect x="495.54" y="210.28" width="1.5" height="1.5"/>
<rect x="495" y="204.67" width="1.5" height="1.5"/>
<rect x="496.16" y="201.68" width="1.5" height="1.5"/>
<rect x="497.35" y="211.18" width="1.5" height="1.5"/>
<rect x="483.42" y="203.05" width="1.5" height="1.5"/>
<rect x="498.1" y="206.35" width="1.5" height="1.5"/>
<rect x="497.64" y="200.81" width="1.5" height="1.5"/>
<rect x="495.89" y="200.62" width="1.5" height="1.5"/>
<rect x="489.72" y="201.33" width="1.5" height="1.5"/>
<rect x="496.25" y="203.33" width="1.5" height="1.5"/>
<rect x="497.48" y="201.71" width="1.5" height="1.5"/>
<rect x="495.29" y="210.87" width="1.5" height="1.5"/>
<rect x="495.03" y="206.05" width="1.5" height="1.5"/>
<rect x="497.25" y="203.2" width="1.5" height="1.5"/>
<rect x="496.29" y="202.11" width="1.5" height="1.5"/>
<rect x="496.12" y="201.51" width="1.5" height="1.5"/>
<rect x="495.7" y="209.06" width="1.5" height="1.5"/>
<rect x="497.45" y="205.5" width="1.5" height="1.5"/>
<rect x="493.3" y="204.63" width="1.5" height="1.5"/>
<rect x="497.77" y="208" width="1.5" height="1.5"/>
<rect x="495.26" y="205.33" width="1.5" height="1.5"/>
<rect x="498.14" y="201.66" width="1.5" height="1.5"/>
<rect x="495.98" y="206.04" width="1.5" height="1.5"/>
<rect x="475.36" y="212.19" width="1.5" height="1.5"/>
<rect x="493.26" y="213.67" width="1.5" height="1.5"/>
<rect x="496.24" y="201.47" width="1.5" height="1.5"/>
<rect x="497.28" y="201.63" width="1.5" height="1.5"/>
<rect x="496.18" y="213.47" width="1.5" height="1.5"/>
<rect x="487.95" y="201.44" width="1.5" height="1.5"/>
<rect x="488.01" y="201.07" width="1.5" height="1.5"/>
<rect x="493.27" y="201.93" width="1.5" height="1.5"/>
<rect x="496.89" y="207.74" width="1.5" height="1.5"/>
<rect x="495.13" y="201.67" width="1.5" height="1.5"/>
<rect x="497.68" y="203.83" width="1.5" height="1.5"/>
<rect x="497.84" y="203.85" width="1.5" height="1.5"/>
<rect x="494.37" y="200.41" width="1.5" height="1.5"/>
<rect x="498.09" y="204.2" width="1.5" height="1.5"/>
<rect x="496.08" y="204.69" width="1.5" height="1.5"/>
<rect x="496.4" y="202.47" width="1.5" height="1.5"/>
<rect x="497.39" y="201.47" width="1.5" height="1.5"/>
<rect x="497.91" y="201.01" width="1.5" height="1.5"/>
<rect x="495.81" y="206.5" width="1.5" height="1.5"/>
<rect x="491.37" y="208" width="1.5" height="1.5"/>
<rect x="493.75" y="206.17" width="1.5" height="1.5"/>
<rect x="495.81" y="200.59" width="1.5" height="1.5"/>
<rect x="496.07" y="213.82" width="1.5" height="1.5"/>
<rect x="493.06" y="205.38" width="1.5" height="1.5"/>
<rect x="496.51" y="203.55" width="1.5" height="1.5"/>
<rect x="496.45" y="203.39" width="1.5" height="1.5"/>
<rect x="497.68" y="204.85" width="1.5" height="1.5"/>
<rect x="497.09" y="205.25" width="1.5" height="1.5"/>
<rect x="486.09" y="201.52" width="1.5" height="1.5"/>
<rect x="495.06" y="206.09" width="1.5" height="1.5"/>
<rect x="496.95" y="201.84" width="1.5" height="1.5"/>
<rect x="489.38" y="210.39" width="1.5" height="1.5"/>
<rect x="496.99" y="202.15" width="1.5" height="1.5"/>
<rect x="497.97" y="207.15" width="1.5" height="1.5"/>
<rect x="498.1" y="202.52" width="1.5" height="1.5"/>
<rect x="497.5" y="209.77" width="1.5" height="1.5"/>
<rect x="497.49" y="202.8" width="1.5" height="1.5"/>
<rect x="493.16" y="200.89" width="1.5" height="1.5"/>
<rect x="497.78" y="202.37" width="1.5" height="1.5"/>
<rect x="496.69" y="202.55" width="1.5" height="1.5"/>
<rect x="497.42" y="201.18" width="1.5" height="1.5"/>
<rect x="495.83" y="212.62" width="1.5" height="1.5"/>
<rect x="493.35" y="200.41" width="1.5" height="1.5"/>
<rect x="495.82" y="204.13" width="1.5" height="1.5"/>
<rect x="498.13" y="202.79" width="1.5" height="1.5"/>
<rect x="494.83" y="202.58" width="1.5" height="1.5"/>
<rect x="496.14" y="202.62" width="1.5" height="1.5"/>
<rect x="497.44" y="201.37" width="1.5" height="1.5"/>
<rect x="495.29" y="202.82" width="1.5" height="1.5"/>
<rect x="496.83" y="205.27" width="1.5" height="1.5"/>
<rect x="497.16" y="205.21" width="1.5" height="1.5"/>
<rect x="481.47" y="205.12" width="1.5" height="1.5"/>
<rect x="497.45" y="207.36" width="1.5" height="1.5"/>
<rect x="496.85" y="201.13" width="1.5" height="1.5"/>
<rect x="494.01" y="203.13" width="1.5" height="1.5"/>
<rect x="495.71" y="201.35" width="1.5" height="1.5"/>
<rect x="488.83" y="202.89" width="1.5" height="1.5"/>
<rect x="486.99" y="200.91" width="1.5" height="1.5"/>
<rect x="494.71" y="202.3" width="1.5" height="1.5"/>
<rect x="497.8" y="200.6" width="1.5" height="1.5"/>
<rect x="497.63" y="203.08" width="1.5" height="1.5"/>
<rect x="498.15" y="206.33" width="1.5" height="1.5"/>
<rect x="497.08" y="200.44" width="1.5" height="1.5"/>
<rect x="497.93" y="200.72" width="1.5" height="1.5"/>
<rect x="497.64" y="202.21" width="1.5" height="1.5"/>
<rect x="489.66" y="210.3" width="1.5" height="1.5"/>
<rect x="497.41" y="201.42" width="1.5" height="1.5"/>
<rect x="494.79" y="202.33" width="1.5" height="1.5"/>
<rect x="495.16" y="207.64" width="1.5" height="1.5"/>
<rect x="493.45" y="203.8" width="1.5" height="1.5"/>
<rect x="497.34" y="204.48" width="1.5" height="1.5"/>
<rect x="489.92" y="201.54" width="1.5" height="1.5"/>
<rect x="497.33" y="205.7" width="1.5" height="1.5"/>
<rect x="496.44" y="201.13" width="1.5" height="1.5"/>
<rect x="487.11" y="203.6" width="1.5" height="1.5"/>
<rect x="495.29" y="205.18" width="1.5" height="1.5"/>
<rect x="498.11" y="201.56" width="1.5" height="1.5"/>
<rect x="493.87" y="204.27" width="1.5" height="1.5"/>
<rect x="498.09" y="208.64" width="1.5" height="1.5"/>
<rect x="497.72" y="223.16" width="1.5" height="1.5"/>
<rect x="496.06" y="205.67" width="1.5" height="1.5"/>
<rect x="488.15" y="209.12" width="1.5" height="1.5"/>
<rect x="496.5" y="209.96" width="1.5" height="1.5"/>
<rect x="495.02" y="212.03" width="1.5" height="1.5"/>
<rect x="493.31" y="201.51" width="1.5" height="1.5"/>
<rect x="487.04" y="203.11" width="1.5" height="1.5"/>
<rect x="497.03" y="204.96" width="1.5" height="1.5"/>
<rect x="498.18" y="203.21" width="1.5" height="1.5"/>
<rect x="497.96" y="201.26" width="1.5" height="1.5"/>
<rect x="497.52" y="210.95" width="1.5" height="1.5"/>
<rect x="497.66" y="200.4" width="1.5" height="1.5"/>
<rect x="492" y="216.1" width="1.5" height="1.5"/>
<rect x="497.88" y="202.82" width="1.5" height="1.5"/>
<rect x="498.05" y="217.24" width="1.5" height="1.5"/>
<rect x="497.81" y="201.9" width="1.5" height="1.5"/>
<rect x="497.7" y="206.61" width="1.5" height="1.5"/>
<rect x="495.63" y="201.64" width="1.5" height="1.5"/>
<rect x="497.18" y="203" width="1.5" height="1.5"/>
<rect x="495.35" y="202.63" width="1.5" height="1.5"/>
<rect x="496.53" y="203.37" width="1.5" height="1.5"/>
<rect x="497.98" y="200.57" width="1.5" height="1.5"/>
<rect x="498.17" y="204" width="1.5" height="1.5"/>
<rect x="490.97" y="202.29" width="1.5" height="1.5"/>
<rect x="493.09" y="201.21" width="1.5" height="1.5"/>
<rect x="497.53" y="202.23" width="1.5" height="1.5"/>
<rect x="495.75" y="201.98" width="1.5" height="1.5"/>
<rect x="494.39" y="213.14" width="1.5" height="1.5"/>
<rect x="497.83" y="204.59" width="1.5" height="1.5"/>
<rect x="493.75" y="204.68" width="1.5" height="1.5"/>
<rect x="497.77" y="208.89" width="1.5" height="1.5"/>
<rect x="484.5" y="201.82" width="1.5" height="1.5"/>
<rect x="491.7" y="214" width="1.5" height="1.5"/>
<rect x="497.16" y="204.33" width="1.5" height="1.5"/>
<rect x="495.99" y="201.36" width="1.5" height="1.5"/>
<rect x="487.31" y="202.22" width="1.5" height="1.5"/>
<rect x="497.29" y="212.23" width="1.5" height="1.5"/>
<rect x="492.59" y="201.18" width="1.5" height="1.5"/>
<rect x="493.64" y="201.99" width="1.5" height="1.5"/>
<rect x="497.27" y="203.9" width="1.5" height="1.5"/>
<rect x="497.54" y="201.98" width="1.5" height="1.5"/>
<rect x="497.01" y="200.36" width="1.5" height="1.5"/>
<rect x="498.15" y="202.06" width="1.5" height="1.5"/>
<rect x="497.25" y="200.81" width="1.5" height="1.5"/>
<rect x="495.78" y="206.9" width="1.5" height="1.5"/>
<rect x="495.55" y="200.98" width="1.5" height="1.5"/>
<rect x="495.85" y="200.65" width="1.5" height="1.5"/>
<rect x="498.2" y="208.75" width="1.5" height="1.5"/>
<rect x="497.91" y="211.22" width="1.5" height="1.5"/>
<rect x="497.95" y="213.9" width="1.5" height="1.5"/>
<rect x="494.33" y="203.55" width="1.5" height="1.5"/>
<rect x="495.1" y="204.33" width="1.5" height="1.5"/>
<rect x="492.98" y="214.75" width="1.5" height="1.5"/>
<rect x="494.71" y="205.81" width="1.5" height="1.5"/>
<rect x="497.74" y="205" width="1.5" height="1.5"/>
<rect x="495.67" y="209.37" width="1.5" height="1.5"/>
<rect x="496.45" y="201.2" width="1.5" height="1.5"/>
<rect x="495.5" y="215.64" width="1.5" height="1.5"/>
<rect x="495.57" y="203.54" width="1.5" height="1.5"/>
<rect x="496.2" y="200.44" width="1.5" height="1.5"/>
<rect x="495.57" y="207.08" width="1.5" height="1.5"/>
<rect x="497.82" y="203.67" width="1.5" height="1.5"/>
<rect x="495.33" y="202.78" width="1.5" height="1.5"/>
<rect x="496.61" y="205.44" width="1.5" height="1.5"/>
<rect x="496.2" y="202.13" width="1.5" height="1.5"/>
<rect x="497.69" y="203.87" width="1.5" height="1.5"/>
<rect x="497.76" y="202.29" width="1.5" height="1.5"/>
<rect x="465.94" y="206.43" width="1.5" height="1.5"/>
<rect x="471.18" y="217.23" width="1.5" height="1.5"/>
<rect x="485.13" y="201.51" width="1.5" height="1.5"/>
<rect x="489.16" y="210.1" width="1.5" height="1.5"/>
<rect x="481.76" y="210.3" width="1.5" height="1.5"/>
<rect x="497.03" y="233.47" width="1.5" height="1.5"/>
<rect x="479.07" y="220.71" width="1.5" height="1.5"/>
<rect x="489.88" y="220.98" width="1.5" height="1.5"/>
<rect x="477.68" y="218.48" width="1.5" height="1.5"/>
<rect x="494.6" y="238.34" width="1.5" height="1.5"/>
</g>
<line x1="410.4" y1="243.7" x2="499" y2="201.1" stroke="#1a1a1a" stroke-width="0.8" stroke-dasharray="1.8,0.5"/>
<rect x="410.4" y="201.1" width="88.6" height="42.6" fill="none" stroke="#000" stroke-width="0.8"/>
<line x1="407.1" y1="201.1" x2="410.4" y2="201.1" stroke="#000" stroke-width="0.8"/>
<text x="404.3" y="203.4" font-size="6.9" text-anchor="end" textLength="4.1" lengthAdjust="spacingAndGlyphs" style="stroke-width:0.16px">0</text>
<line x1="499" y1="243.7" x2="499" y2="247" stroke="#000" stroke-width="0.8"/>
<text x="499" y="255.2" font-size="6.9" text-anchor="middle" textLength="4.1" lengthAdjust="spacingAndGlyphs" style="stroke-width:0.16px">0</text>
<line x1="407.1" y1="220.18" x2="410.4" y2="220.18" stroke="#000" stroke-width="0.8"/>
<text x="404.3" y="222.48" font-size="6.9" text-anchor="end" textLength="6.4" lengthAdjust="spacingAndGlyphs" style="stroke-width:0.16px">-4</text>
<line x1="459.4" y1="243.7" x2="459.4" y2="247" stroke="#000" stroke-width="0.8"/>
<text x="459.4" y="255.2" font-size="6.9" text-anchor="middle" textLength="6.4" lengthAdjust="spacingAndGlyphs" style="stroke-width:0.16px">-4</text>
<line x1="407.1" y1="239.26" x2="410.4" y2="239.26" stroke="#000" stroke-width="0.8"/>
<text x="404.3" y="241.56" font-size="6.9" text-anchor="end" textLength="6.4" lengthAdjust="spacingAndGlyphs" style="stroke-width:0.16px">-8</text>
<line x1="419.8" y1="243.7" x2="419.8" y2="247" stroke="#000" stroke-width="0.8"/>
<text x="419.8" y="255.2" font-size="6.9" text-anchor="middle" textLength="6.4" lengthAdjust="spacingAndGlyphs" style="stroke-width:0.16px">-8</text>
<text x="440.8" y="265.5" font-size="7.9" textLength="11.34" lengthAdjust="spacingAndGlyphs" style="stroke-width:0.12px">Irr.</text>
<text x="454.62" y="265.5" font-size="7.9" font-style="italic" textLength="4.67" lengthAdjust="spacingAndGlyphs" style="stroke-width:0.12px">x</text>
<text x="459.27" y="265.5" font-size="7.9" textLength="3.08" lengthAdjust="spacingAndGlyphs" style="stroke-width:0.12px">(</text>
<text x="462.35" y="265.5" font-size="7.9" font-style="italic" textLength="3.09" lengthAdjust="spacingAndGlyphs" style="stroke-width:0.12px">t</text>
<text x="465.42" y="265.5" font-size="7.9" textLength="3.08" lengthAdjust="spacingAndGlyphs" style="stroke-width:0.12px">)</text>
<g transform="translate(390.7,222.4) rotate(-90)">
<text x="-16.8" y="0" font-size="7.9" textLength="11.76" lengthAdjust="spacingAndGlyphs" style="stroke-width:0.12px">Irr.</text>
<text x="-2.46" y="0" font-size="7.9" font-style="italic" textLength="5.4" lengthAdjust="spacingAndGlyphs" style="stroke-width:0.12px">ϕ</text>
<text x="2.91" y="0.7" font-size="6.2" font-style="italic" textLength="3.92" lengthAdjust="spacingAndGlyphs" style="stroke-width:0.12px">n</text>
<text x="6.55" y="0" font-size="7.9" textLength="3.19" lengthAdjust="spacingAndGlyphs" style="stroke-width:0.12px">(</text>
<text x="9.74" y="0" font-size="7.9" font-style="italic" textLength="3.2" lengthAdjust="spacingAndGlyphs" style="stroke-width:0.12px">t</text>
<text x="12.94" y="0" font-size="7.9" textLength="3.19" lengthAdjust="spacingAndGlyphs" style="stroke-width:0.12px">)</text>
</g>
</g>
</svg></body></html>
